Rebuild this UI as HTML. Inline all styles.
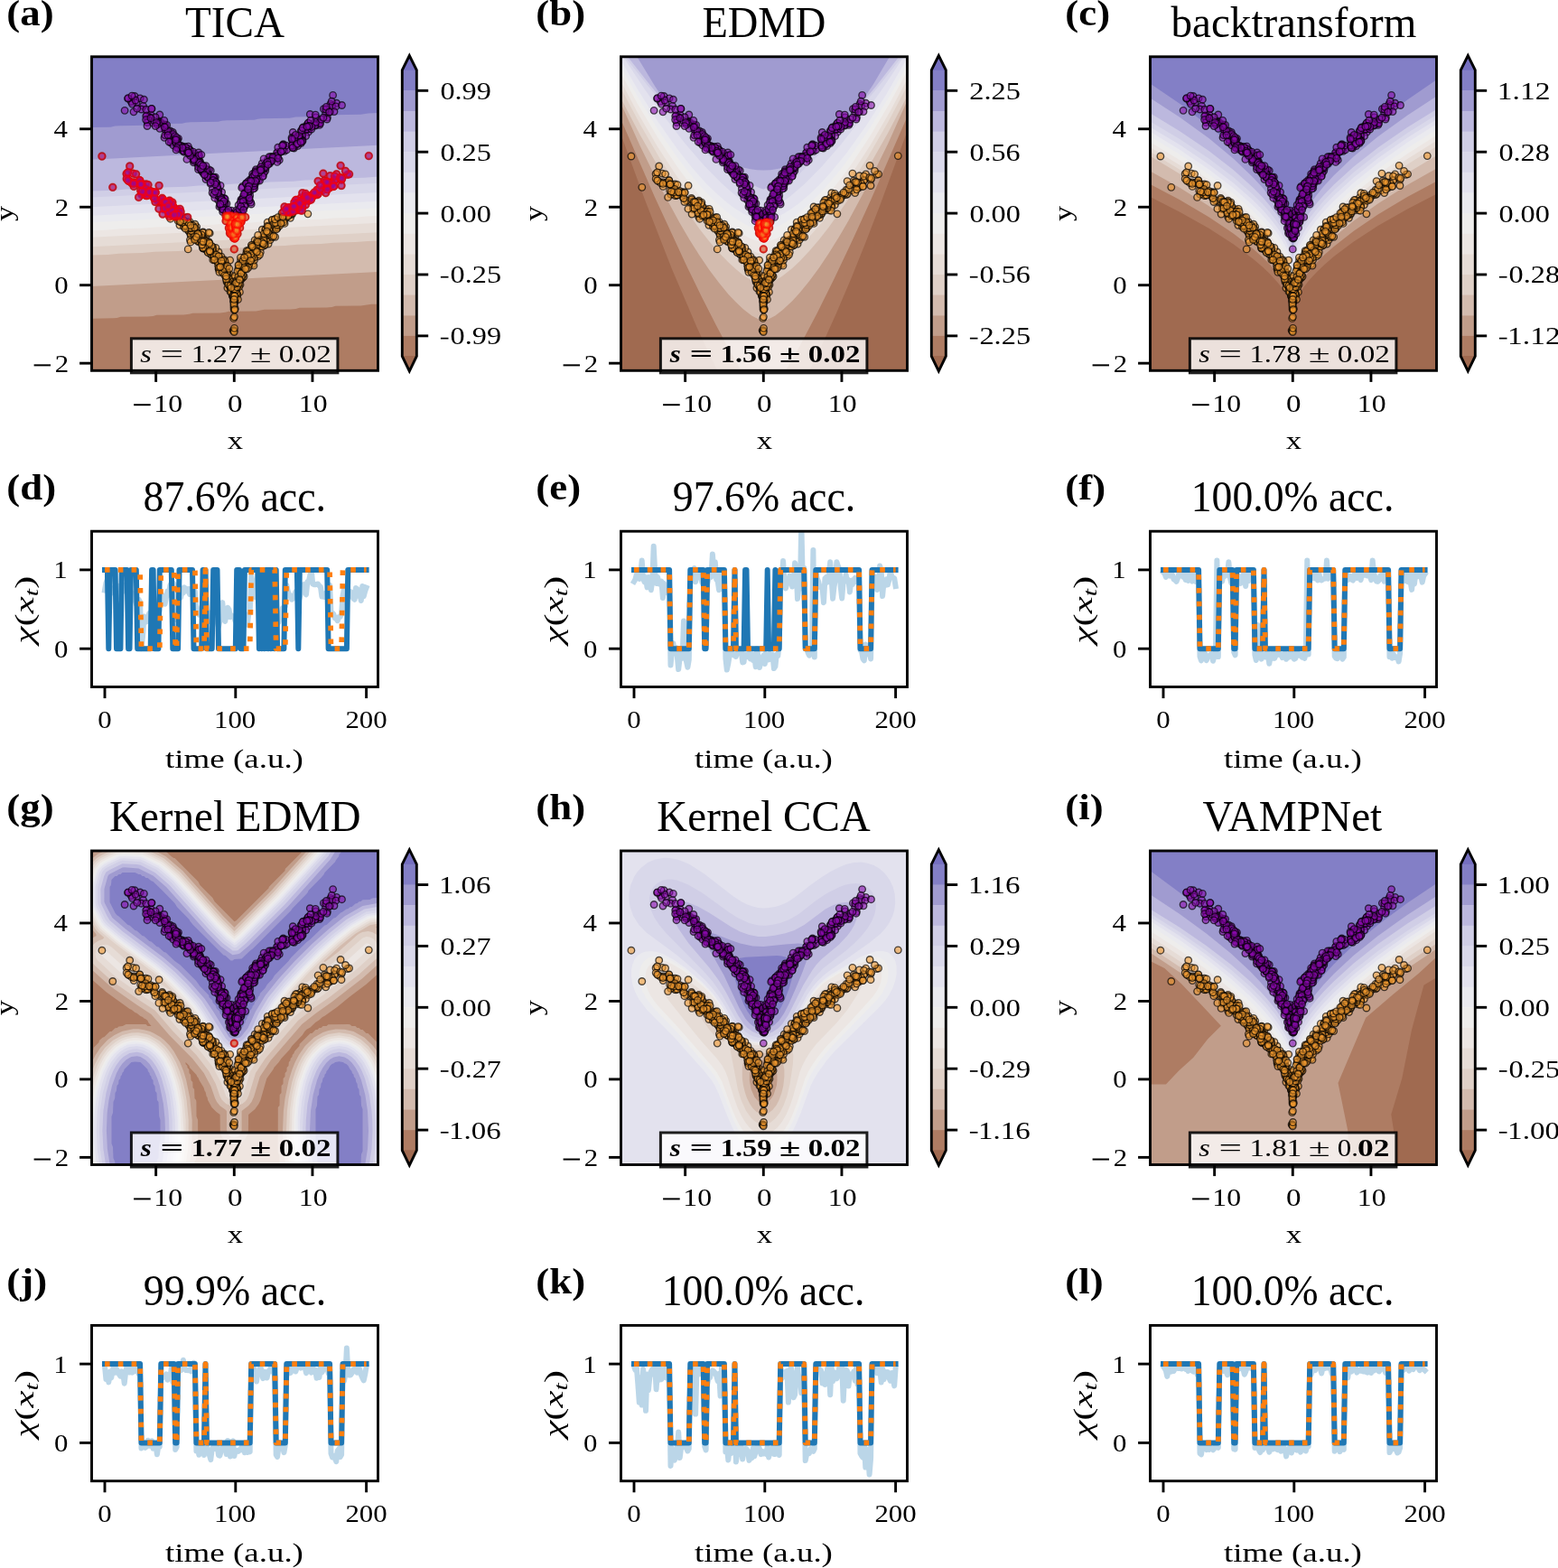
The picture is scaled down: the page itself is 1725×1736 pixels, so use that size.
<!DOCTYPE html><html><head><meta charset="utf-8"><title>figure</title><style>html,body{margin:0;padding:0;background:#fff;}svg{display:block;}</style></head><body><svg xmlns="http://www.w3.org/2000/svg" width="1725" height="1736" viewBox="0 0 1725 1736" font-family="'Liberation Serif', serif"><rect width="100%" height="100%" fill="#fff"/><defs><g id="U"><circle cx="193.1" cy="156.0" r="3.75"/><circle cx="237.6" cy="201.7" r="3.75"/><circle cx="167.0" cy="127.1" r="3.75"/><circle cx="242.0" cy="211.5" r="3.75"/><circle cx="241.6" cy="221.5" r="3.75"/><circle cx="254.5" cy="258.3" r="3.75"/><circle cx="189.2" cy="158.1" r="3.75"/><circle cx="251.0" cy="225.5" r="3.75"/><circle cx="258.6" cy="263.4" r="3.75"/><circle cx="176.3" cy="135.0" r="3.75"/><circle cx="158.6" cy="117.3" r="3.75"/><circle cx="226.4" cy="188.7" r="3.75"/><circle cx="233.3" cy="189.0" r="3.75"/><circle cx="192.2" cy="153.8" r="3.75"/><circle cx="245.6" cy="212.7" r="3.75"/><circle cx="248.9" cy="223.7" r="3.75"/><circle cx="188.4" cy="145.0" r="3.75"/><circle cx="250.0" cy="235.4" r="3.75"/><circle cx="248.3" cy="229.8" r="3.75"/><circle cx="231.4" cy="187.9" r="3.75"/><circle cx="204.0" cy="163.9" r="3.75"/><circle cx="228.0" cy="198.5" r="3.75"/><circle cx="184.4" cy="146.0" r="3.75"/><circle cx="233.3" cy="195.4" r="3.75"/><circle cx="210.2" cy="166.0" r="3.75"/><circle cx="145.2" cy="112.5" r="3.75"/><circle cx="253.8" cy="234.8" r="3.75"/><circle cx="194.5" cy="156.6" r="3.75"/><circle cx="237.8" cy="219.2" r="3.75"/><circle cx="230.0" cy="196.7" r="3.75"/><circle cx="244.1" cy="205.4" r="3.75"/><circle cx="211.3" cy="170.5" r="3.75"/><circle cx="200.6" cy="161.3" r="3.75"/><circle cx="149.1" cy="106.5" r="3.75"/><circle cx="182.1" cy="137.9" r="3.75"/><circle cx="222.2" cy="186.8" r="3.75"/><circle cx="257.7" cy="242.3" r="3.75"/><circle cx="182.0" cy="152.3" r="3.75"/><circle cx="189.5" cy="155.1" r="3.75"/><circle cx="223.4" cy="189.7" r="3.75"/><circle cx="254.1" cy="240.5" r="3.75"/><circle cx="210.6" cy="166.7" r="3.75"/><circle cx="259.6" cy="258.0" r="3.75"/><circle cx="197.4" cy="164.2" r="3.75"/><circle cx="184.3" cy="144.2" r="3.75"/><circle cx="203.1" cy="165.0" r="3.75"/><circle cx="248.2" cy="223.2" r="3.75"/><circle cx="258.8" cy="255.0" r="3.75"/><circle cx="191.9" cy="160.8" r="3.75"/><circle cx="165.4" cy="129.6" r="3.75"/><circle cx="247.1" cy="226.2" r="3.75"/><circle cx="254.4" cy="243.3" r="3.75"/><circle cx="163.7" cy="132.1" r="3.75"/><circle cx="151.1" cy="113.8" r="3.75"/><circle cx="248.3" cy="219.9" r="3.75"/><circle cx="240.9" cy="212.4" r="3.75"/><circle cx="226.5" cy="189.3" r="3.75"/><circle cx="229.8" cy="195.6" r="3.75"/><circle cx="240.7" cy="212.4" r="3.75"/><circle cx="169.1" cy="136.1" r="3.75"/><circle cx="171.1" cy="134.0" r="3.75"/><circle cx="256.5" cy="249.0" r="3.75"/><circle cx="247.2" cy="226.4" r="3.75"/><circle cx="183.1" cy="138.9" r="3.75"/><circle cx="229.7" cy="192.2" r="3.75"/><circle cx="246.0" cy="223.4" r="3.75"/><circle cx="155.1" cy="108.8" r="3.75"/><circle cx="191.4" cy="146.5" r="3.75"/><circle cx="226.4" cy="189.0" r="3.75"/><circle cx="219.3" cy="182.3" r="3.75"/><circle cx="225.0" cy="191.7" r="3.75"/><circle cx="230.0" cy="191.7" r="3.75"/><circle cx="253.5" cy="234.4" r="3.75"/><circle cx="256.4" cy="237.8" r="3.75"/><circle cx="202.0" cy="162.2" r="3.75"/><circle cx="146.4" cy="115.1" r="3.75"/><circle cx="214.4" cy="179.9" r="3.75"/><circle cx="178.1" cy="135.7" r="3.75"/><circle cx="242.4" cy="217.7" r="3.75"/><circle cx="215.4" cy="170.2" r="3.75"/><circle cx="215.5" cy="173.6" r="3.75"/><circle cx="207.7" cy="168.2" r="3.75"/><circle cx="204.9" cy="162.5" r="3.75"/><circle cx="242.9" cy="228.9" r="3.75"/><circle cx="211.4" cy="172.1" r="3.75"/><circle cx="238.6" cy="202.2" r="3.75"/><circle cx="218.2" cy="179.0" r="3.75"/><circle cx="176.8" cy="137.0" r="3.75"/><circle cx="246.6" cy="234.5" r="3.75"/><circle cx="141.6" cy="109.2" r="3.75"/><circle cx="162.6" cy="127.6" r="3.75"/><circle cx="225.1" cy="183.9" r="3.75"/><circle cx="238.4" cy="196.1" r="3.75"/><circle cx="176.8" cy="127.0" r="3.75"/><circle cx="222.6" cy="185.2" r="3.75"/><circle cx="256.6" cy="248.2" r="3.75"/><circle cx="257.7" cy="256.7" r="3.75"/><circle cx="254.6" cy="251.5" r="3.75"/><circle cx="148.0" cy="123.8" r="3.75"/><circle cx="182.4" cy="140.9" r="3.75"/><circle cx="194.1" cy="154.2" r="3.75"/><circle cx="224.1" cy="185.8" r="3.75"/><circle cx="228.3" cy="190.7" r="3.75"/><circle cx="236.2" cy="200.4" r="3.75"/><circle cx="163.3" cy="135.6" r="3.75"/><circle cx="200.3" cy="165.6" r="3.75"/><circle cx="225.7" cy="184.0" r="3.75"/><circle cx="219.5" cy="187.6" r="3.75"/><circle cx="228.7" cy="192.3" r="3.75"/><circle cx="226.9" cy="188.0" r="3.75"/><circle cx="182.7" cy="149.6" r="3.75"/><circle cx="222.8" cy="188.2" r="3.75"/><circle cx="163.0" cy="139.5" r="3.75"/><circle cx="243.6" cy="225.1" r="3.75"/><circle cx="258.7" cy="250.0" r="3.75"/><circle cx="253.4" cy="252.5" r="3.75"/><circle cx="230.3" cy="193.2" r="3.75"/><circle cx="208.4" cy="162.1" r="3.75"/><circle cx="240.3" cy="207.2" r="3.75"/><circle cx="219.6" cy="184.9" r="3.75"/><circle cx="251.6" cy="237.6" r="3.75"/><circle cx="195.0" cy="156.5" r="3.75"/><circle cx="240.8" cy="213.6" r="3.75"/><circle cx="221.0" cy="180.7" r="3.75"/><circle cx="246.0" cy="230.4" r="3.75"/><circle cx="244.1" cy="227.8" r="3.75"/><circle cx="218.3" cy="179.0" r="3.75"/><circle cx="249.1" cy="225.8" r="3.75"/><circle cx="161.7" cy="128.6" r="3.75"/><circle cx="188.3" cy="149.6" r="3.75"/><circle cx="172.1" cy="129.7" r="3.75"/><circle cx="255.0" cy="245.3" r="3.75"/><circle cx="197.5" cy="153.3" r="3.75"/><circle cx="235.4" cy="200.5" r="3.75"/><circle cx="182.5" cy="143.1" r="3.75"/><circle cx="233.3" cy="196.8" r="3.75"/><circle cx="240.0" cy="203.1" r="3.75"/><circle cx="156.5" cy="121.0" r="3.75"/><circle cx="242.1" cy="217.0" r="3.75"/><circle cx="248.2" cy="219.5" r="3.75"/><circle cx="186.1" cy="145.0" r="3.75"/><circle cx="208.8" cy="165.0" r="3.75"/><circle cx="255.7" cy="244.8" r="3.75"/><circle cx="237.3" cy="197.0" r="3.75"/><circle cx="239.5" cy="202.5" r="3.75"/><circle cx="226.7" cy="193.1" r="3.75"/><circle cx="260.2" cy="261.0" r="3.75"/><circle cx="176.9" cy="142.3" r="3.75"/><circle cx="221.3" cy="179.3" r="3.75"/><circle cx="249.2" cy="220.3" r="3.75"/><circle cx="214.4" cy="177.3" r="3.75"/><circle cx="241.7" cy="209.8" r="3.75"/><circle cx="255.1" cy="238.7" r="3.75"/><circle cx="259.3" cy="245.3" r="3.75"/><circle cx="260.7" cy="262.6" r="3.75"/><circle cx="257.2" cy="250.2" r="3.75"/><circle cx="221.4" cy="178.6" r="3.75"/><circle cx="229.1" cy="187.9" r="3.75"/><circle cx="191.4" cy="148.5" r="3.75"/><circle cx="196.6" cy="158.7" r="3.75"/><circle cx="194.5" cy="157.6" r="3.75"/><circle cx="161.8" cy="121.2" r="3.75"/><circle cx="228.0" cy="183.6" r="3.75"/><circle cx="184.7" cy="138.4" r="3.75"/><circle cx="138.1" cy="122.3" r="3.75"/><circle cx="150.0" cy="111.0" r="3.75"/><circle cx="215.1" cy="178.3" r="3.75"/><circle cx="206.9" cy="176.4" r="3.75"/><circle cx="256.2" cy="233.1" r="3.75"/><circle cx="250.9" cy="242.1" r="3.75"/><circle cx="259.8" cy="264.1" r="3.75"/><circle cx="186.0" cy="149.7" r="3.75"/><circle cx="235.4" cy="208.9" r="3.75"/><circle cx="219.5" cy="173.1" r="3.75"/><circle cx="257.8" cy="257.0" r="3.75"/><circle cx="224.5" cy="187.7" r="3.75"/><circle cx="174.1" cy="137.8" r="3.75"/><circle cx="194.1" cy="156.6" r="3.75"/><circle cx="220.3" cy="173.1" r="3.75"/><circle cx="257.2" cy="239.8" r="3.75"/><circle cx="235.9" cy="196.5" r="3.75"/><circle cx="196.4" cy="154.6" r="3.75"/><circle cx="203.6" cy="167.3" r="3.75"/><circle cx="247.9" cy="232.3" r="3.75"/><circle cx="240.2" cy="213.2" r="3.75"/><circle cx="230.4" cy="196.2" r="3.75"/><circle cx="220.2" cy="178.7" r="3.75"/><circle cx="258.5" cy="249.9" r="3.75"/><circle cx="161.6" cy="132.6" r="3.75"/><circle cx="233.1" cy="203.4" r="3.75"/><circle cx="187.1" cy="157.0" r="3.75"/><circle cx="173.4" cy="135.6" r="3.75"/><circle cx="224.1" cy="185.3" r="3.75"/><circle cx="195.1" cy="158.5" r="3.75"/><circle cx="254.7" cy="247.6" r="3.75"/><circle cx="246.7" cy="228.1" r="3.75"/><circle cx="255.0" cy="256.6" r="3.75"/><circle cx="235.3" cy="199.6" r="3.75"/><circle cx="203.4" cy="168.2" r="3.75"/><circle cx="258.4" cy="249.7" r="3.75"/><circle cx="244.1" cy="218.2" r="3.75"/><circle cx="193.9" cy="150.6" r="3.75"/><circle cx="245.2" cy="219.6" r="3.75"/><circle cx="257.0" cy="244.5" r="3.75"/><circle cx="236.5" cy="196.6" r="3.75"/><circle cx="203.3" cy="167.1" r="3.75"/><circle cx="197.6" cy="160.5" r="3.75"/><circle cx="211.1" cy="170.2" r="3.75"/><circle cx="250.0" cy="239.0" r="3.75"/><circle cx="220.7" cy="180.2" r="3.75"/><circle cx="236.0" cy="199.5" r="3.75"/><circle cx="245.6" cy="221.2" r="3.75"/><circle cx="240.5" cy="206.8" r="3.75"/><circle cx="258.3" cy="252.7" r="3.75"/><circle cx="213.9" cy="168.1" r="3.75"/><circle cx="141.8" cy="108.6" r="3.75"/><circle cx="172.1" cy="139.6" r="3.75"/><circle cx="257.9" cy="259.2" r="3.75"/><circle cx="255.5" cy="251.6" r="3.75"/><circle cx="241.3" cy="213.7" r="3.75"/><circle cx="209.3" cy="170.0" r="3.75"/><circle cx="219.9" cy="169.0" r="3.75"/><circle cx="168.0" cy="120.4" r="3.75"/><circle cx="196.0" cy="154.6" r="3.75"/><circle cx="205.7" cy="163.4" r="3.75"/><circle cx="235.1" cy="213.5" r="3.75"/><circle cx="246.7" cy="232.0" r="3.75"/><circle cx="207.3" cy="167.2" r="3.75"/><circle cx="253.0" cy="235.7" r="3.75"/><circle cx="250.7" cy="235.1" r="3.75"/><circle cx="246.0" cy="225.5" r="3.75"/><circle cx="247.7" cy="222.9" r="3.75"/><circle cx="220.4" cy="172.0" r="3.75"/><circle cx="238.9" cy="201.5" r="3.75"/><circle cx="250.1" cy="244.7" r="3.75"/><circle cx="238.1" cy="203.9" r="3.75"/><circle cx="243.9" cy="226.0" r="3.75"/><circle cx="233.2" cy="202.0" r="3.75"/><circle cx="202.0" cy="163.5" r="3.75"/><circle cx="222.5" cy="182.2" r="3.75"/><circle cx="252.2" cy="239.2" r="3.75"/><circle cx="236.7" cy="215.2" r="3.75"/><circle cx="222.5" cy="187.0" r="3.75"/><circle cx="181.8" cy="133.3" r="3.75"/><circle cx="214.9" cy="176.3" r="3.75"/><circle cx="182.3" cy="140.7" r="3.75"/><circle cx="256.2" cy="259.5" r="3.75"/><circle cx="210.6" cy="172.4" r="3.75"/><circle cx="226.3" cy="193.5" r="3.75"/><circle cx="195.8" cy="163.7" r="3.75"/><circle cx="252.6" cy="240.3" r="3.75"/><circle cx="166.9" cy="130.7" r="3.75"/><circle cx="251.3" cy="240.0" r="3.75"/><circle cx="207.9" cy="169.3" r="3.75"/><circle cx="159.4" cy="110.2" r="3.75"/><circle cx="222.9" cy="171.3" r="3.75"/><circle cx="151.7" cy="120.2" r="3.75"/><circle cx="238.2" cy="212.1" r="3.75"/><circle cx="146.1" cy="106.1" r="3.75"/><circle cx="208.9" cy="168.9" r="3.75"/><circle cx="255.7" cy="247.3" r="3.75"/><circle cx="257.5" cy="254.2" r="3.75"/><circle cx="195.0" cy="165.9" r="3.75"/><circle cx="195.3" cy="152.3" r="3.75"/><circle cx="167.7" cy="120.4" r="3.75"/><circle cx="252.9" cy="232.4" r="3.75"/><circle cx="194.6" cy="154.7" r="3.75"/><circle cx="256.8" cy="252.1" r="3.75"/><circle cx="258.5" cy="237.1" r="3.75"/><circle cx="224.7" cy="183.6" r="3.75"/><circle cx="261.7" cy="233.0" r="3.75"/><circle cx="261.0" cy="247.3" r="3.75"/><circle cx="271.8" cy="213.4" r="3.75"/><circle cx="265.6" cy="252.2" r="3.75"/><circle cx="274.2" cy="208.7" r="3.75"/><circle cx="271.8" cy="218.0" r="3.75"/><circle cx="339.5" cy="138.7" r="3.75"/><circle cx="286.1" cy="199.7" r="3.75"/><circle cx="282.9" cy="189.6" r="3.75"/><circle cx="284.5" cy="194.4" r="3.75"/><circle cx="267.4" cy="229.2" r="3.75"/><circle cx="328.8" cy="152.4" r="3.75"/><circle cx="299.6" cy="177.7" r="3.75"/><circle cx="326.0" cy="151.0" r="3.75"/><circle cx="365.6" cy="123.7" r="3.75"/><circle cx="365.9" cy="115.2" r="3.75"/><circle cx="341.4" cy="146.2" r="3.75"/><circle cx="372.6" cy="114.2" r="3.75"/><circle cx="296.1" cy="177.1" r="3.75"/><circle cx="334.6" cy="152.3" r="3.75"/><circle cx="287.4" cy="187.4" r="3.75"/><circle cx="275.6" cy="219.5" r="3.75"/><circle cx="282.1" cy="198.7" r="3.75"/><circle cx="307.4" cy="168.3" r="3.75"/><circle cx="264.3" cy="235.8" r="3.75"/><circle cx="323.5" cy="154.9" r="3.75"/><circle cx="276.7" cy="212.2" r="3.75"/><circle cx="261.1" cy="252.9" r="3.75"/><circle cx="282.2" cy="204.6" r="3.75"/><circle cx="311.1" cy="167.6" r="3.75"/><circle cx="338.7" cy="150.6" r="3.75"/><circle cx="267.1" cy="245.4" r="3.75"/><circle cx="360.5" cy="124.6" r="3.75"/><circle cx="334.0" cy="156.4" r="3.75"/><circle cx="308.0" cy="170.8" r="3.75"/><circle cx="283.4" cy="187.7" r="3.75"/><circle cx="292.5" cy="185.2" r="3.75"/><circle cx="275.7" cy="222.6" r="3.75"/><circle cx="263.9" cy="243.8" r="3.75"/><circle cx="271.7" cy="240.4" r="3.75"/><circle cx="277.0" cy="198.8" r="3.75"/><circle cx="285.1" cy="195.1" r="3.75"/><circle cx="288.6" cy="185.5" r="3.75"/><circle cx="261.5" cy="239.3" r="3.75"/><circle cx="313.6" cy="159.7" r="3.75"/><circle cx="325.6" cy="164.1" r="3.75"/><circle cx="291.2" cy="194.8" r="3.75"/><circle cx="347.0" cy="136.4" r="3.75"/><circle cx="298.6" cy="181.1" r="3.75"/><circle cx="269.2" cy="231.2" r="3.75"/><circle cx="324.1" cy="163.5" r="3.75"/><circle cx="353.8" cy="135.0" r="3.75"/><circle cx="275.3" cy="202.4" r="3.75"/><circle cx="287.5" cy="200.1" r="3.75"/><circle cx="267.0" cy="220.8" r="3.75"/><circle cx="367.6" cy="117.2" r="3.75"/><circle cx="309.3" cy="177.2" r="3.75"/><circle cx="300.5" cy="173.6" r="3.75"/><circle cx="273.0" cy="216.8" r="3.75"/><circle cx="290.2" cy="181.0" r="3.75"/><circle cx="280.7" cy="195.6" r="3.75"/><circle cx="267.1" cy="235.1" r="3.75"/><circle cx="266.5" cy="229.3" r="3.75"/><circle cx="260.6" cy="260.9" r="3.75"/><circle cx="299.2" cy="174.0" r="3.75"/><circle cx="260.3" cy="247.0" r="3.75"/><circle cx="278.2" cy="226.0" r="3.75"/><circle cx="272.5" cy="203.0" r="3.75"/><circle cx="293.8" cy="189.0" r="3.75"/><circle cx="296.5" cy="181.8" r="3.75"/><circle cx="262.1" cy="241.7" r="3.75"/><circle cx="330.6" cy="150.4" r="3.75"/><circle cx="282.6" cy="196.4" r="3.75"/><circle cx="280.3" cy="199.6" r="3.75"/><circle cx="368.6" cy="105.4" r="3.75"/><circle cx="325.7" cy="154.4" r="3.75"/><circle cx="334.5" cy="150.2" r="3.75"/><circle cx="297.4" cy="178.7" r="3.75"/><circle cx="276.7" cy="216.4" r="3.75"/><circle cx="292.2" cy="191.4" r="3.75"/><circle cx="259.6" cy="260.7" r="3.75"/><circle cx="291.8" cy="187.1" r="3.75"/><circle cx="278.7" cy="201.3" r="3.75"/><circle cx="332.3" cy="154.1" r="3.75"/><circle cx="300.9" cy="178.2" r="3.75"/><circle cx="301.6" cy="176.7" r="3.75"/><circle cx="265.9" cy="237.3" r="3.75"/><circle cx="324.3" cy="146.5" r="3.75"/><circle cx="353.8" cy="138.4" r="3.75"/><circle cx="280.7" cy="199.9" r="3.75"/><circle cx="323.5" cy="161.6" r="3.75"/><circle cx="341.3" cy="136.3" r="3.75"/><circle cx="281.9" cy="191.8" r="3.75"/><circle cx="293.0" cy="183.3" r="3.75"/><circle cx="282.8" cy="189.8" r="3.75"/><circle cx="349.4" cy="139.0" r="3.75"/><circle cx="333.2" cy="144.9" r="3.75"/><circle cx="272.7" cy="214.6" r="3.75"/><circle cx="325.3" cy="154.8" r="3.75"/><circle cx="322.8" cy="160.8" r="3.75"/><circle cx="271.7" cy="212.6" r="3.75"/><circle cx="280.5" cy="198.0" r="3.75"/><circle cx="269.4" cy="217.4" r="3.75"/><circle cx="261.1" cy="249.7" r="3.75"/><circle cx="292.4" cy="186.8" r="3.75"/><circle cx="274.5" cy="214.5" r="3.75"/><circle cx="260.3" cy="255.7" r="3.75"/><circle cx="306.5" cy="169.1" r="3.75"/><circle cx="367.2" cy="112.2" r="3.75"/><circle cx="265.5" cy="231.2" r="3.75"/><circle cx="333.3" cy="158.5" r="3.75"/><circle cx="332.6" cy="153.1" r="3.75"/><circle cx="260.0" cy="263.6" r="3.75"/><circle cx="269.9" cy="220.0" r="3.75"/><circle cx="262.5" cy="234.8" r="3.75"/><circle cx="265.6" cy="233.2" r="3.75"/><circle cx="353.8" cy="136.2" r="3.75"/><circle cx="301.9" cy="173.7" r="3.75"/><circle cx="298.0" cy="173.7" r="3.75"/><circle cx="266.1" cy="236.8" r="3.75"/><circle cx="341.2" cy="136.1" r="3.75"/><circle cx="274.2" cy="202.9" r="3.75"/><circle cx="292.1" cy="175.9" r="3.75"/><circle cx="263.5" cy="248.6" r="3.75"/><circle cx="276.2" cy="208.2" r="3.75"/><circle cx="266.4" cy="246.3" r="3.75"/><circle cx="273.0" cy="218.7" r="3.75"/><circle cx="371.9" cy="117.9" r="3.75"/><circle cx="260.6" cy="262.8" r="3.75"/><circle cx="332.4" cy="153.7" r="3.75"/><circle cx="280.0" cy="196.9" r="3.75"/><circle cx="280.0" cy="198.7" r="3.75"/><circle cx="261.2" cy="250.2" r="3.75"/><circle cx="315.1" cy="167.3" r="3.75"/><circle cx="264.1" cy="227.0" r="3.75"/><circle cx="277.7" cy="224.1" r="3.75"/><circle cx="281.8" cy="208.3" r="3.75"/><circle cx="354.6" cy="136.7" r="3.75"/><circle cx="330.7" cy="153.0" r="3.75"/><circle cx="276.8" cy="208.0" r="3.75"/><circle cx="279.6" cy="192.7" r="3.75"/><circle cx="283.6" cy="201.0" r="3.75"/><circle cx="348.9" cy="138.5" r="3.75"/><circle cx="268.5" cy="206.5" r="3.75"/><circle cx="294.3" cy="185.8" r="3.75"/><circle cx="277.4" cy="205.4" r="3.75"/><circle cx="279.1" cy="197.4" r="3.75"/><circle cx="300.8" cy="177.2" r="3.75"/><circle cx="306.4" cy="174.7" r="3.75"/><circle cx="261.8" cy="256.7" r="3.75"/><circle cx="343.3" cy="126.5" r="3.75"/><circle cx="306.3" cy="172.9" r="3.75"/><circle cx="358.4" cy="120.7" r="3.75"/><circle cx="280.0" cy="195.2" r="3.75"/><circle cx="276.2" cy="221.5" r="3.75"/><circle cx="293.5" cy="184.8" r="3.75"/><circle cx="342.4" cy="142.5" r="3.75"/><circle cx="311.0" cy="168.1" r="3.75"/><circle cx="335.1" cy="155.7" r="3.75"/><circle cx="360.8" cy="121.0" r="3.75"/><circle cx="317.5" cy="165.9" r="3.75"/><circle cx="260.7" cy="250.7" r="3.75"/><circle cx="278.3" cy="206.7" r="3.75"/><circle cx="280.4" cy="209.1" r="3.75"/><circle cx="349.7" cy="129.8" r="3.75"/><circle cx="362.4" cy="130.1" r="3.75"/><circle cx="286.0" cy="194.4" r="3.75"/><circle cx="361.3" cy="118.3" r="3.75"/><circle cx="281.1" cy="205.9" r="3.75"/><circle cx="267.0" cy="235.2" r="3.75"/><circle cx="284.4" cy="198.2" r="3.75"/><circle cx="272.1" cy="217.5" r="3.75"/><circle cx="294.7" cy="180.9" r="3.75"/><circle cx="349.6" cy="135.3" r="3.75"/><circle cx="316.8" cy="161.1" r="3.75"/><circle cx="349.3" cy="127.1" r="3.75"/><circle cx="274.4" cy="215.2" r="3.75"/><circle cx="313.2" cy="166.6" r="3.75"/><circle cx="267.1" cy="221.6" r="3.75"/><circle cx="268.6" cy="220.6" r="3.75"/><circle cx="307.8" cy="163.2" r="3.75"/><circle cx="281.5" cy="203.0" r="3.75"/><circle cx="323.5" cy="160.9" r="3.75"/><circle cx="291.0" cy="195.4" r="3.75"/><circle cx="334.6" cy="156.7" r="3.75"/><circle cx="260.5" cy="248.2" r="3.75"/><circle cx="338.5" cy="143.4" r="3.75"/><circle cx="272.9" cy="204.1" r="3.75"/><circle cx="286.8" cy="190.8" r="3.75"/><circle cx="281.8" cy="193.8" r="3.75"/><circle cx="355.8" cy="132.2" r="3.75"/><circle cx="263.0" cy="258.8" r="3.75"/><circle cx="274.8" cy="200.8" r="3.75"/><circle cx="267.0" cy="243.4" r="3.75"/><circle cx="340.2" cy="143.1" r="3.75"/><circle cx="313.6" cy="160.5" r="3.75"/><circle cx="267.7" cy="207.9" r="3.75"/><circle cx="329.6" cy="161.5" r="3.75"/><circle cx="266.4" cy="224.0" r="3.75"/><circle cx="261.5" cy="252.7" r="3.75"/><circle cx="327.9" cy="160.2" r="3.75"/><circle cx="262.7" cy="245.5" r="3.75"/><circle cx="344.8" cy="143.0" r="3.75"/><circle cx="262.6" cy="241.0" r="3.75"/><circle cx="302.7" cy="175.4" r="3.75"/><circle cx="260.7" cy="246.9" r="3.75"/><circle cx="312.6" cy="161.2" r="3.75"/><circle cx="302.2" cy="174.0" r="3.75"/><circle cx="260.5" cy="257.9" r="3.75"/><circle cx="288.8" cy="184.6" r="3.75"/><circle cx="306.9" cy="179.4" r="3.75"/><circle cx="324.2" cy="163.5" r="3.75"/><circle cx="331.4" cy="150.0" r="3.75"/><circle cx="335.6" cy="141.0" r="3.75"/><circle cx="279.2" cy="200.7" r="3.75"/><circle cx="334.1" cy="144.2" r="3.75"/><circle cx="268.0" cy="236.4" r="3.75"/><circle cx="266.6" cy="240.8" r="3.75"/><circle cx="345.1" cy="140.3" r="3.75"/><circle cx="262.8" cy="245.9" r="3.75"/><circle cx="283.1" cy="191.2" r="3.75"/><circle cx="370.0" cy="123.6" r="3.75"/><circle cx="307.8" cy="175.1" r="3.75"/><circle cx="364.6" cy="124.0" r="3.75"/><circle cx="271.3" cy="228.1" r="3.75"/><circle cx="276.1" cy="219.1" r="3.75"/><circle cx="258.4" cy="259.6" r="3.75"/><circle cx="272.5" cy="203.2" r="3.75"/><circle cx="264.8" cy="231.6" r="3.75"/><circle cx="298.8" cy="178.6" r="3.75"/><circle cx="260.9" cy="251.0" r="3.75"/><circle cx="269.2" cy="223.1" r="3.75"/><circle cx="282.9" cy="200.2" r="3.75"/><circle cx="274.5" cy="212.3" r="3.75"/><circle cx="343.9" cy="133.3" r="3.75"/><circle cx="323.0" cy="152.5" r="3.75"/><circle cx="311.3" cy="167.8" r="3.75"/><circle cx="326.0" cy="153.1" r="3.75"/><circle cx="264.4" cy="244.6" r="3.75"/><circle cx="341.7" cy="139.8" r="3.75"/><circle cx="362.0" cy="132.0" r="3.75"/><circle cx="327.2" cy="149.4" r="3.75"/><circle cx="329.1" cy="159.1" r="3.75"/><circle cx="261.8" cy="253.5" r="3.75"/><circle cx="271.2" cy="213.9" r="3.75"/><circle cx="335.1" cy="141.7" r="3.75"/><circle cx="300.6" cy="178.3" r="3.75"/><circle cx="270.1" cy="214.9" r="3.75"/><circle cx="358.0" cy="130.2" r="3.75"/><circle cx="378.5" cy="116.5" r="3.75"/><circle cx="289.2" cy="187.5" r="3.75"/><circle cx="268.1" cy="240.7" r="3.75"/><circle cx="277.7" cy="200.4" r="3.75"/><circle cx="323.3" cy="153.9" r="3.75"/><circle cx="263.6" cy="249.2" r="3.75"/><circle cx="288.5" cy="188.6" r="3.75"/><circle cx="270.5" cy="228.3" r="3.75"/><circle cx="274.7" cy="206.7" r="3.75"/><circle cx="260.9" cy="248.0" r="3.75"/><circle cx="262.0" cy="255.5" r="3.75"/><circle cx="266.6" cy="228.5" r="3.75"/><circle cx="342.3" cy="139.5" r="3.75"/><circle cx="339.9" cy="140.2" r="3.75"/><circle cx="262.9" cy="248.4" r="3.75"/><circle cx="275.9" cy="206.1" r="3.75"/><circle cx="333.0" cy="157.2" r="3.75"/><circle cx="296.1" cy="179.4" r="3.75"/><circle cx="274.6" cy="209.6" r="3.75"/><circle cx="296.8" cy="182.2" r="3.75"/><circle cx="269.6" cy="232.5" r="3.75"/><circle cx="259.3" cy="275.9" r="3.75"/></g><g id="L"><circle cx="211.4" cy="256.8" r="3.75"/><circle cx="221.5" cy="258.9" r="3.75"/><circle cx="157.3" cy="203.6" r="3.75"/><circle cx="224.0" cy="265.9" r="3.75"/><circle cx="199.9" cy="241.4" r="3.75"/><circle cx="240.4" cy="282.9" r="3.75"/><circle cx="246.3" cy="297.5" r="3.75"/><circle cx="218.9" cy="262.6" r="3.75"/><circle cx="171.9" cy="212.9" r="3.75"/><circle cx="181.6" cy="231.8" r="3.75"/><circle cx="242.2" cy="289.8" r="3.75"/><circle cx="155.7" cy="211.1" r="3.75"/><circle cx="165.2" cy="215.5" r="3.75"/><circle cx="250.8" cy="299.7" r="3.75"/><circle cx="241.6" cy="285.3" r="3.75"/><circle cx="210.0" cy="245.4" r="3.75"/><circle cx="177.2" cy="223.1" r="3.75"/><circle cx="195.7" cy="231.7" r="3.75"/><circle cx="242.1" cy="288.9" r="3.75"/><circle cx="223.8" cy="265.0" r="3.75"/><circle cx="187.6" cy="239.9" r="3.75"/><circle cx="225.0" cy="263.7" r="3.75"/><circle cx="262.8" cy="326.7" r="3.75"/><circle cx="148.2" cy="206.4" r="3.75"/><circle cx="245.0" cy="292.6" r="3.75"/><circle cx="164.3" cy="212.8" r="3.75"/><circle cx="250.8" cy="308.0" r="3.75"/><circle cx="148.0" cy="201.8" r="3.75"/><circle cx="188.3" cy="232.5" r="3.75"/><circle cx="202.0" cy="244.2" r="3.75"/><circle cx="160.1" cy="207.4" r="3.75"/><circle cx="208.2" cy="250.8" r="3.75"/><circle cx="209.3" cy="256.3" r="3.75"/><circle cx="187.1" cy="237.0" r="3.75"/><circle cx="219.0" cy="266.7" r="3.75"/><circle cx="192.7" cy="236.8" r="3.75"/><circle cx="248.4" cy="295.8" r="3.75"/><circle cx="210.8" cy="256.3" r="3.75"/><circle cx="224.9" cy="256.9" r="3.75"/><circle cx="198.9" cy="249.3" r="3.75"/><circle cx="235.9" cy="279.7" r="3.75"/><circle cx="224.1" cy="263.3" r="3.75"/><circle cx="187.5" cy="223.7" r="3.75"/><circle cx="192.7" cy="234.1" r="3.75"/><circle cx="253.0" cy="314.0" r="3.75"/><circle cx="147.2" cy="192.1" r="3.75"/><circle cx="218.5" cy="264.6" r="3.75"/><circle cx="237.2" cy="283.3" r="3.75"/><circle cx="154.7" cy="200.0" r="3.75"/><circle cx="189.1" cy="237.2" r="3.75"/><circle cx="180.1" cy="237.1" r="3.75"/><circle cx="231.1" cy="268.0" r="3.75"/><circle cx="257.5" cy="328.0" r="3.75"/><circle cx="211.1" cy="260.3" r="3.75"/><circle cx="239.4" cy="282.1" r="3.75"/><circle cx="217.7" cy="251.1" r="3.75"/><circle cx="209.0" cy="248.2" r="3.75"/><circle cx="259.1" cy="321.2" r="3.75"/><circle cx="197.6" cy="234.1" r="3.75"/><circle cx="219.6" cy="261.4" r="3.75"/><circle cx="214.5" cy="257.7" r="3.75"/><circle cx="161.6" cy="212.8" r="3.75"/><circle cx="197.7" cy="237.6" r="3.75"/><circle cx="224.9" cy="274.8" r="3.75"/><circle cx="257.4" cy="315.8" r="3.75"/><circle cx="225.4" cy="275.1" r="3.75"/><circle cx="186.4" cy="225.2" r="3.75"/><circle cx="185.9" cy="232.9" r="3.75"/><circle cx="245.1" cy="289.2" r="3.75"/><circle cx="242.0" cy="279.0" r="3.75"/><circle cx="217.2" cy="254.2" r="3.75"/><circle cx="214.1" cy="253.9" r="3.75"/><circle cx="205.1" cy="244.4" r="3.75"/><circle cx="208.5" cy="255.1" r="3.75"/><circle cx="226.0" cy="264.3" r="3.75"/><circle cx="158.5" cy="214.5" r="3.75"/><circle cx="244.4" cy="292.5" r="3.75"/><circle cx="140.1" cy="192.5" r="3.75"/><circle cx="142.9" cy="200.5" r="3.75"/><circle cx="249.3" cy="291.3" r="3.75"/><circle cx="243.3" cy="285.4" r="3.75"/><circle cx="228.5" cy="276.6" r="3.75"/><circle cx="205.4" cy="245.6" r="3.75"/><circle cx="215.9" cy="248.2" r="3.75"/><circle cx="242.1" cy="297.4" r="3.75"/><circle cx="197.4" cy="238.9" r="3.75"/><circle cx="238.9" cy="274.4" r="3.75"/><circle cx="251.9" cy="318.8" r="3.75"/><circle cx="251.0" cy="312.0" r="3.75"/><circle cx="212.3" cy="257.7" r="3.75"/><circle cx="170.4" cy="219.2" r="3.75"/><circle cx="140.2" cy="197.9" r="3.75"/><circle cx="222.4" cy="263.5" r="3.75"/><circle cx="251.2" cy="311.3" r="3.75"/><circle cx="230.6" cy="272.2" r="3.75"/><circle cx="162.5" cy="216.6" r="3.75"/><circle cx="254.4" cy="303.6" r="3.75"/><circle cx="251.3" cy="300.7" r="3.75"/><circle cx="200.9" cy="239.1" r="3.75"/><circle cx="253.8" cy="308.9" r="3.75"/><circle cx="197.5" cy="233.8" r="3.75"/><circle cx="257.3" cy="312.1" r="3.75"/><circle cx="235.5" cy="273.5" r="3.75"/><circle cx="260.7" cy="319.5" r="3.75"/><circle cx="237.0" cy="287.6" r="3.75"/><circle cx="198.1" cy="244.0" r="3.75"/><circle cx="227.9" cy="273.5" r="3.75"/><circle cx="242.7" cy="295.8" r="3.75"/><circle cx="243.1" cy="292.1" r="3.75"/><circle cx="255.1" cy="314.2" r="3.75"/><circle cx="257.4" cy="321.9" r="3.75"/><circle cx="187.7" cy="222.1" r="3.75"/><circle cx="253.3" cy="311.8" r="3.75"/><circle cx="180.1" cy="223.5" r="3.75"/><circle cx="253.4" cy="315.3" r="3.75"/><circle cx="248.7" cy="287.8" r="3.75"/><circle cx="188.7" cy="242.2" r="3.75"/><circle cx="225.8" cy="272.3" r="3.75"/><circle cx="168.8" cy="212.5" r="3.75"/><circle cx="255.1" cy="318.9" r="3.75"/><circle cx="219.4" cy="262.2" r="3.75"/><circle cx="205.0" cy="250.0" r="3.75"/><circle cx="254.4" cy="316.8" r="3.75"/><circle cx="179.6" cy="219.3" r="3.75"/><circle cx="254.7" cy="288.1" r="3.75"/><circle cx="208.3" cy="246.7" r="3.75"/><circle cx="161.3" cy="216.4" r="3.75"/><circle cx="260.6" cy="324.6" r="3.75"/><circle cx="252.9" cy="313.4" r="3.75"/><circle cx="191.3" cy="228.2" r="3.75"/><circle cx="259.1" cy="320.7" r="3.75"/><circle cx="225.5" cy="264.9" r="3.75"/><circle cx="181.7" cy="222.5" r="3.75"/><circle cx="206.0" cy="241.0" r="3.75"/><circle cx="249.1" cy="289.5" r="3.75"/><circle cx="145.6" cy="202.5" r="3.75"/><circle cx="195.0" cy="240.0" r="3.75"/><circle cx="242.7" cy="288.9" r="3.75"/><circle cx="190.2" cy="230.5" r="3.75"/><circle cx="154.4" cy="202.2" r="3.75"/><circle cx="223.5" cy="260.9" r="3.75"/><circle cx="218.0" cy="257.7" r="3.75"/><circle cx="211.1" cy="259.5" r="3.75"/><circle cx="169.6" cy="214.2" r="3.75"/><circle cx="224.6" cy="274.8" r="3.75"/><circle cx="223.1" cy="264.0" r="3.75"/><circle cx="200.6" cy="245.8" r="3.75"/><circle cx="233.2" cy="279.4" r="3.75"/><circle cx="235.8" cy="278.4" r="3.75"/><circle cx="204.6" cy="241.9" r="3.75"/><circle cx="252.1" cy="302.4" r="3.75"/><circle cx="214.9" cy="252.8" r="3.75"/><circle cx="156.7" cy="215.3" r="3.75"/><circle cx="210.4" cy="265.6" r="3.75"/><circle cx="240.5" cy="286.2" r="3.75"/><circle cx="210.4" cy="252.4" r="3.75"/><circle cx="235.2" cy="275.2" r="3.75"/><circle cx="257.3" cy="326.9" r="3.75"/><circle cx="227.7" cy="262.0" r="3.75"/><circle cx="174.2" cy="222.0" r="3.75"/><circle cx="259.4" cy="328.0" r="3.75"/><circle cx="255.2" cy="310.4" r="3.75"/><circle cx="224.2" cy="268.4" r="3.75"/><circle cx="166.0" cy="211.1" r="3.75"/><circle cx="242.7" cy="288.2" r="3.75"/><circle cx="197.0" cy="244.4" r="3.75"/><circle cx="256.7" cy="322.8" r="3.75"/><circle cx="191.8" cy="228.6" r="3.75"/><circle cx="232.2" cy="258.2" r="3.75"/><circle cx="211.1" cy="267.9" r="3.75"/><circle cx="151.5" cy="202.5" r="3.75"/><circle cx="228.9" cy="272.4" r="3.75"/><circle cx="238.8" cy="285.9" r="3.75"/><circle cx="154.8" cy="199.7" r="3.75"/><circle cx="161.6" cy="204.0" r="3.75"/><circle cx="164.0" cy="204.6" r="3.75"/><circle cx="250.3" cy="303.0" r="3.75"/><circle cx="261.2" cy="315.5" r="3.75"/><circle cx="243.3" cy="294.8" r="3.75"/><circle cx="219.5" cy="267.5" r="3.75"/><circle cx="163.7" cy="216.0" r="3.75"/><circle cx="181.4" cy="230.1" r="3.75"/><circle cx="165.5" cy="213.1" r="3.75"/><circle cx="256.6" cy="318.7" r="3.75"/><circle cx="257.0" cy="316.4" r="3.75"/><circle cx="242.5" cy="292.4" r="3.75"/><circle cx="251.2" cy="301.6" r="3.75"/><circle cx="213.9" cy="257.5" r="3.75"/><circle cx="190.9" cy="224.1" r="3.75"/><circle cx="242.2" cy="298.2" r="3.75"/><circle cx="232.6" cy="276.0" r="3.75"/><circle cx="211.3" cy="252.5" r="3.75"/><circle cx="215.3" cy="261.3" r="3.75"/><circle cx="211.8" cy="255.5" r="3.75"/><circle cx="224.6" cy="257.5" r="3.75"/><circle cx="246.5" cy="291.6" r="3.75"/><circle cx="209.2" cy="249.9" r="3.75"/><circle cx="210.5" cy="251.2" r="3.75"/><circle cx="233.3" cy="281.7" r="3.75"/><circle cx="182.8" cy="223.1" r="3.75"/><circle cx="224.4" cy="263.4" r="3.75"/><circle cx="230.0" cy="278.8" r="3.75"/><circle cx="211.5" cy="252.9" r="3.75"/><circle cx="160.8" cy="209.4" r="3.75"/><circle cx="239.9" cy="289.2" r="3.75"/><circle cx="213.4" cy="249.7" r="3.75"/><circle cx="224.2" cy="268.7" r="3.75"/><circle cx="171.9" cy="223.5" r="3.75"/><circle cx="248.0" cy="301.5" r="3.75"/><circle cx="190.2" cy="225.6" r="3.75"/><circle cx="160.0" cy="212.8" r="3.75"/><circle cx="186.9" cy="235.8" r="3.75"/><circle cx="254.9" cy="322.8" r="3.75"/><circle cx="245.1" cy="284.2" r="3.75"/><circle cx="185.0" cy="228.7" r="3.75"/><circle cx="204.2" cy="250.8" r="3.75"/><circle cx="224.2" cy="271.1" r="3.75"/><circle cx="226.1" cy="265.0" r="3.75"/><circle cx="260.0" cy="323.0" r="3.75"/><circle cx="208.1" cy="245.6" r="3.75"/><circle cx="203.4" cy="251.0" r="3.75"/><circle cx="157.3" cy="212.0" r="3.75"/><circle cx="242.9" cy="301.3" r="3.75"/><circle cx="260.8" cy="326.3" r="3.75"/><circle cx="241.6" cy="294.2" r="3.75"/><circle cx="255.1" cy="314.7" r="3.75"/><circle cx="259.5" cy="329.2" r="3.75"/><circle cx="169.8" cy="213.9" r="3.75"/><circle cx="184.3" cy="223.9" r="3.75"/><circle cx="205.6" cy="250.1" r="3.75"/><circle cx="180.0" cy="220.7" r="3.75"/><circle cx="192.7" cy="234.0" r="3.75"/><circle cx="227.7" cy="267.2" r="3.75"/><circle cx="187.3" cy="223.7" r="3.75"/><circle cx="210.7" cy="252.2" r="3.75"/><circle cx="257.6" cy="319.8" r="3.75"/><circle cx="227.4" cy="274.7" r="3.75"/><circle cx="235.8" cy="287.7" r="3.75"/><circle cx="193.3" cy="237.1" r="3.75"/><circle cx="248.2" cy="301.6" r="3.75"/><circle cx="207.7" cy="240.5" r="3.75"/><circle cx="233.2" cy="281.0" r="3.75"/><circle cx="229.2" cy="271.9" r="3.75"/><circle cx="155.4" cy="204.0" r="3.75"/><circle cx="219.7" cy="266.7" r="3.75"/><circle cx="141.8" cy="199.9" r="3.75"/><circle cx="246.8" cy="287.8" r="3.75"/><circle cx="150.6" cy="192.8" r="3.75"/><circle cx="143.7" cy="184.0" r="3.75"/><circle cx="237.0" cy="284.4" r="3.75"/><circle cx="256.0" cy="323.6" r="3.75"/><circle cx="259.0" cy="325.0" r="3.75"/><circle cx="223.1" cy="259.9" r="3.75"/><circle cx="230.6" cy="273.4" r="3.75"/><circle cx="232.8" cy="276.6" r="3.75"/><circle cx="228.2" cy="266.5" r="3.75"/><circle cx="241.2" cy="290.2" r="3.75"/><circle cx="247.6" cy="302.4" r="3.75"/><circle cx="256.1" cy="312.8" r="3.75"/><circle cx="194.1" cy="239.5" r="3.75"/><circle cx="182.1" cy="223.7" r="3.75"/><circle cx="260.1" cy="315.0" r="3.75"/><circle cx="246.1" cy="301.6" r="3.75"/><circle cx="245.9" cy="291.8" r="3.75"/><circle cx="252.9" cy="315.1" r="3.75"/><circle cx="199.2" cy="231.3" r="3.75"/><circle cx="230.2" cy="279.6" r="3.75"/><circle cx="247.6" cy="295.0" r="3.75"/><circle cx="191.8" cy="238.9" r="3.75"/><circle cx="249.6" cy="296.0" r="3.75"/><circle cx="165.3" cy="212.6" r="3.75"/><circle cx="202.9" cy="244.2" r="3.75"/><circle cx="223.3" cy="267.8" r="3.75"/><circle cx="171.1" cy="219.5" r="3.75"/><circle cx="248.3" cy="297.7" r="3.75"/><circle cx="255.0" cy="316.4" r="3.75"/><circle cx="226.2" cy="266.8" r="3.75"/><circle cx="216.1" cy="264.3" r="3.75"/><circle cx="239.5" cy="282.1" r="3.75"/><circle cx="260.7" cy="325.6" r="3.75"/><circle cx="205.1" cy="249.3" r="3.75"/><circle cx="190.0" cy="232.8" r="3.75"/><circle cx="231.2" cy="257.4" r="3.75"/><circle cx="220.1" cy="260.5" r="3.75"/><circle cx="224.8" cy="274.3" r="3.75"/><circle cx="215.5" cy="265.4" r="3.75"/><circle cx="253.3" cy="308.5" r="3.75"/><circle cx="208.1" cy="246.1" r="3.75"/><circle cx="232.8" cy="278.7" r="3.75"/><circle cx="197.0" cy="234.4" r="3.75"/><circle cx="231.4" cy="268.1" r="3.75"/><circle cx="182.5" cy="230.5" r="3.75"/><circle cx="248.8" cy="304.8" r="3.75"/><circle cx="215.4" cy="252.0" r="3.75"/><circle cx="175.9" cy="231.2" r="3.75"/><circle cx="148.0" cy="203.4" r="3.75"/><circle cx="250.3" cy="308.9" r="3.75"/><circle cx="172.2" cy="213.2" r="3.75"/><circle cx="223.0" cy="266.7" r="3.75"/><circle cx="219.1" cy="258.9" r="3.75"/><circle cx="217.4" cy="262.4" r="3.75"/><circle cx="124.8" cy="207.3" r="3.75"/><circle cx="242.1" cy="283.7" r="3.75"/><circle cx="251.7" cy="294.5" r="3.75"/><circle cx="234.2" cy="272.3" r="3.75"/><circle cx="231.9" cy="269.4" r="3.75"/><circle cx="183.5" cy="223.8" r="3.75"/><circle cx="141.6" cy="190.8" r="3.75"/><circle cx="200.1" cy="234.4" r="3.75"/><circle cx="196.6" cy="237.8" r="3.75"/><circle cx="205.2" cy="253.1" r="3.75"/><circle cx="223.5" cy="271.0" r="3.75"/><circle cx="250.3" cy="305.8" r="3.75"/><circle cx="232.1" cy="278.0" r="3.75"/><circle cx="242.4" cy="296.1" r="3.75"/><circle cx="186.4" cy="228.1" r="3.75"/><circle cx="210.9" cy="249.6" r="3.75"/><circle cx="245.1" cy="288.9" r="3.75"/><circle cx="199.8" cy="244.1" r="3.75"/><circle cx="237.4" cy="287.5" r="3.75"/><circle cx="253.8" cy="297.4" r="3.75"/><circle cx="201.7" cy="246.2" r="3.75"/><circle cx="203.6" cy="243.8" r="3.75"/><circle cx="260.2" cy="321.3" r="3.75"/><circle cx="225.0" cy="267.5" r="3.75"/><circle cx="243.9" cy="295.5" r="3.75"/><circle cx="199.4" cy="245.5" r="3.75"/><circle cx="197.2" cy="237.5" r="3.75"/><circle cx="192.9" cy="237.9" r="3.75"/><circle cx="156.1" cy="204.1" r="3.75"/><circle cx="284.7" cy="281.6" r="3.75"/><circle cx="281.2" cy="281.0" r="3.75"/><circle cx="269.9" cy="290.8" r="3.75"/><circle cx="301.6" cy="251.5" r="3.75"/><circle cx="309.2" cy="244.7" r="3.75"/><circle cx="320.6" cy="234.7" r="3.75"/><circle cx="263.3" cy="314.4" r="3.75"/><circle cx="265.4" cy="323.4" r="3.75"/><circle cx="315.4" cy="238.7" r="3.75"/><circle cx="285.5" cy="283.9" r="3.75"/><circle cx="294.7" cy="257.8" r="3.75"/><circle cx="292.0" cy="269.5" r="3.75"/><circle cx="265.8" cy="306.1" r="3.75"/><circle cx="268.8" cy="307.5" r="3.75"/><circle cx="304.6" cy="242.5" r="3.75"/><circle cx="267.0" cy="309.3" r="3.75"/><circle cx="321.4" cy="231.3" r="3.75"/><circle cx="372.6" cy="192.9" r="3.75"/><circle cx="334.8" cy="225.3" r="3.75"/><circle cx="261.8" cy="310.6" r="3.75"/><circle cx="321.5" cy="241.3" r="3.75"/><circle cx="293.1" cy="261.7" r="3.75"/><circle cx="266.5" cy="288.8" r="3.75"/><circle cx="288.7" cy="267.1" r="3.75"/><circle cx="377.1" cy="183.3" r="3.75"/><circle cx="264.9" cy="298.8" r="3.75"/><circle cx="282.1" cy="266.0" r="3.75"/><circle cx="322.0" cy="236.8" r="3.75"/><circle cx="292.6" cy="271.9" r="3.75"/><circle cx="265.2" cy="296.5" r="3.75"/><circle cx="365.4" cy="207.6" r="3.75"/><circle cx="297.1" cy="270.0" r="3.75"/><circle cx="280.2" cy="285.3" r="3.75"/><circle cx="284.2" cy="277.3" r="3.75"/><circle cx="267.0" cy="301.8" r="3.75"/><circle cx="319.2" cy="234.7" r="3.75"/><circle cx="296.2" cy="246.1" r="3.75"/><circle cx="315.0" cy="229.0" r="3.75"/><circle cx="326.7" cy="227.1" r="3.75"/><circle cx="359.6" cy="205.6" r="3.75"/><circle cx="315.1" cy="247.4" r="3.75"/><circle cx="266.5" cy="294.7" r="3.75"/><circle cx="338.6" cy="222.0" r="3.75"/><circle cx="312.9" cy="236.7" r="3.75"/><circle cx="281.7" cy="275.7" r="3.75"/><circle cx="306.9" cy="252.9" r="3.75"/><circle cx="365.5" cy="194.7" r="3.75"/><circle cx="284.4" cy="272.6" r="3.75"/><circle cx="323.4" cy="237.3" r="3.75"/><circle cx="259.1" cy="313.2" r="3.75"/><circle cx="261.3" cy="325.6" r="3.75"/><circle cx="308.4" cy="246.2" r="3.75"/><circle cx="370.3" cy="199.4" r="3.75"/><circle cx="305.4" cy="251.7" r="3.75"/><circle cx="356.9" cy="210.9" r="3.75"/><circle cx="282.3" cy="273.2" r="3.75"/><circle cx="314.9" cy="238.2" r="3.75"/><circle cx="315.6" cy="239.9" r="3.75"/><circle cx="302.2" cy="254.8" r="3.75"/><circle cx="332.5" cy="226.0" r="3.75"/><circle cx="283.1" cy="280.0" r="3.75"/><circle cx="327.3" cy="233.0" r="3.75"/><circle cx="378.0" cy="199.2" r="3.75"/><circle cx="276.4" cy="292.1" r="3.75"/><circle cx="260.5" cy="314.2" r="3.75"/><circle cx="260.8" cy="316.6" r="3.75"/><circle cx="337.5" cy="222.4" r="3.75"/><circle cx="287.9" cy="268.0" r="3.75"/><circle cx="279.7" cy="292.5" r="3.75"/><circle cx="333.3" cy="218.9" r="3.75"/><circle cx="281.0" cy="294.1" r="3.75"/><circle cx="264.5" cy="293.9" r="3.75"/><circle cx="314.4" cy="243.2" r="3.75"/><circle cx="364.1" cy="207.5" r="3.75"/><circle cx="359.2" cy="200.0" r="3.75"/><circle cx="360.7" cy="213.6" r="3.75"/><circle cx="321.0" cy="229.7" r="3.75"/><circle cx="347.3" cy="216.5" r="3.75"/><circle cx="299.2" cy="265.6" r="3.75"/><circle cx="384.6" cy="193.3" r="3.75"/><circle cx="278.8" cy="271.6" r="3.75"/><circle cx="295.3" cy="260.5" r="3.75"/><circle cx="264.6" cy="308.3" r="3.75"/><circle cx="309.1" cy="247.6" r="3.75"/><circle cx="261.7" cy="314.3" r="3.75"/><circle cx="307.4" cy="251.5" r="3.75"/><circle cx="301.2" cy="243.9" r="3.75"/><circle cx="300.6" cy="253.9" r="3.75"/><circle cx="268.3" cy="288.5" r="3.75"/><circle cx="309.4" cy="244.0" r="3.75"/><circle cx="281.6" cy="276.7" r="3.75"/><circle cx="278.3" cy="286.3" r="3.75"/><circle cx="283.1" cy="276.3" r="3.75"/><circle cx="279.5" cy="285.3" r="3.75"/><circle cx="270.1" cy="306.1" r="3.75"/><circle cx="261.7" cy="323.4" r="3.75"/><circle cx="336.1" cy="220.6" r="3.75"/><circle cx="269.7" cy="298.2" r="3.75"/><circle cx="309.8" cy="245.4" r="3.75"/><circle cx="334.8" cy="213.7" r="3.75"/><circle cx="311.3" cy="246.9" r="3.75"/><circle cx="290.3" cy="254.2" r="3.75"/><circle cx="274.3" cy="286.5" r="3.75"/><circle cx="294.4" cy="260.0" r="3.75"/><circle cx="258.5" cy="307.8" r="3.75"/><circle cx="301.4" cy="243.3" r="3.75"/><circle cx="386.6" cy="192.8" r="3.75"/><circle cx="269.9" cy="285.5" r="3.75"/><circle cx="320.5" cy="232.3" r="3.75"/><circle cx="262.3" cy="310.8" r="3.75"/><circle cx="258.2" cy="328.3" r="3.75"/><circle cx="263.5" cy="316.4" r="3.75"/><circle cx="279.0" cy="285.8" r="3.75"/><circle cx="268.0" cy="304.2" r="3.75"/><circle cx="258.5" cy="311.5" r="3.75"/><circle cx="263.9" cy="297.2" r="3.75"/><circle cx="362.3" cy="206.7" r="3.75"/><circle cx="276.0" cy="281.3" r="3.75"/><circle cx="271.7" cy="290.2" r="3.75"/><circle cx="295.9" cy="263.7" r="3.75"/><circle cx="351.1" cy="210.2" r="3.75"/><circle cx="333.8" cy="222.0" r="3.75"/><circle cx="269.1" cy="304.3" r="3.75"/><circle cx="277.8" cy="278.5" r="3.75"/><circle cx="308.5" cy="248.9" r="3.75"/><circle cx="263.5" cy="311.8" r="3.75"/><circle cx="262.8" cy="311.7" r="3.75"/><circle cx="260.2" cy="305.5" r="3.75"/><circle cx="280.4" cy="274.4" r="3.75"/><circle cx="294.0" cy="253.8" r="3.75"/><circle cx="318.3" cy="234.4" r="3.75"/><circle cx="316.8" cy="240.2" r="3.75"/><circle cx="284.4" cy="272.7" r="3.75"/><circle cx="285.9" cy="272.4" r="3.75"/><circle cx="352.1" cy="200.6" r="3.75"/><circle cx="261.6" cy="317.1" r="3.75"/><circle cx="275.7" cy="292.8" r="3.75"/><circle cx="312.3" cy="239.0" r="3.75"/><circle cx="277.1" cy="284.2" r="3.75"/><circle cx="351.2" cy="215.6" r="3.75"/><circle cx="262.8" cy="325.9" r="3.75"/><circle cx="320.1" cy="236.3" r="3.75"/><circle cx="342.8" cy="219.6" r="3.75"/><circle cx="285.8" cy="274.3" r="3.75"/><circle cx="279.7" cy="283.2" r="3.75"/><circle cx="328.5" cy="221.3" r="3.75"/><circle cx="276.2" cy="278.5" r="3.75"/><circle cx="276.6" cy="288.8" r="3.75"/><circle cx="370.6" cy="200.1" r="3.75"/><circle cx="338.4" cy="226.8" r="3.75"/><circle cx="285.0" cy="269.2" r="3.75"/><circle cx="326.0" cy="230.8" r="3.75"/><circle cx="288.3" cy="279.2" r="3.75"/><circle cx="292.3" cy="262.1" r="3.75"/><circle cx="288.6" cy="265.3" r="3.75"/><circle cx="309.6" cy="249.9" r="3.75"/><circle cx="259.4" cy="316.0" r="3.75"/><circle cx="352.3" cy="214.6" r="3.75"/><circle cx="319.8" cy="233.0" r="3.75"/><circle cx="327.3" cy="221.6" r="3.75"/><circle cx="320.4" cy="234.8" r="3.75"/><circle cx="260.8" cy="322.1" r="3.75"/><circle cx="345.8" cy="215.6" r="3.75"/><circle cx="357.9" cy="192.1" r="3.75"/><circle cx="293.0" cy="270.9" r="3.75"/><circle cx="288.3" cy="272.4" r="3.75"/><circle cx="370.5" cy="195.1" r="3.75"/><circle cx="281.5" cy="288.1" r="3.75"/><circle cx="341.9" cy="222.2" r="3.75"/><circle cx="264.7" cy="309.0" r="3.75"/><circle cx="273.1" cy="287.9" r="3.75"/><circle cx="282.7" cy="275.6" r="3.75"/><circle cx="282.9" cy="270.2" r="3.75"/><circle cx="278.7" cy="281.7" r="3.75"/><circle cx="280.8" cy="281.2" r="3.75"/><circle cx="289.3" cy="264.8" r="3.75"/><circle cx="296.4" cy="260.0" r="3.75"/><circle cx="301.3" cy="262.6" r="3.75"/><circle cx="367.8" cy="203.5" r="3.75"/><circle cx="312.9" cy="241.3" r="3.75"/><circle cx="302.5" cy="248.4" r="3.75"/><circle cx="340.3" cy="217.2" r="3.75"/><circle cx="272.1" cy="294.8" r="3.75"/><circle cx="273.1" cy="277.7" r="3.75"/><circle cx="298.2" cy="260.7" r="3.75"/><circle cx="284.4" cy="270.2" r="3.75"/><circle cx="262.0" cy="318.6" r="3.75"/><circle cx="290.9" cy="268.4" r="3.75"/><circle cx="281.9" cy="280.0" r="3.75"/><circle cx="311.8" cy="239.4" r="3.75"/><circle cx="292.0" cy="262.7" r="3.75"/><circle cx="300.8" cy="261.4" r="3.75"/><circle cx="260.3" cy="312.1" r="3.75"/><circle cx="262.9" cy="300.3" r="3.75"/><circle cx="362.5" cy="203.6" r="3.75"/><circle cx="272.5" cy="281.2" r="3.75"/><circle cx="360.2" cy="201.7" r="3.75"/><circle cx="288.2" cy="266.4" r="3.75"/><circle cx="342.1" cy="219.4" r="3.75"/><circle cx="340.9" cy="236.8" r="3.75"/><circle cx="261.2" cy="330.3" r="3.75"/><circle cx="325.8" cy="224.2" r="3.75"/><circle cx="323.6" cy="236.1" r="3.75"/><circle cx="338.3" cy="214.4" r="3.75"/><circle cx="267.5" cy="301.7" r="3.75"/><circle cx="281.4" cy="285.0" r="3.75"/><circle cx="332.4" cy="232.8" r="3.75"/><circle cx="290.1" cy="273.1" r="3.75"/><circle cx="304.7" cy="262.3" r="3.75"/><circle cx="284.6" cy="266.8" r="3.75"/><circle cx="293.9" cy="254.3" r="3.75"/><circle cx="322.1" cy="234.8" r="3.75"/><circle cx="329.9" cy="229.5" r="3.75"/><circle cx="298.2" cy="252.5" r="3.75"/><circle cx="267.4" cy="306.8" r="3.75"/><circle cx="262.0" cy="310.8" r="3.75"/><circle cx="266.4" cy="285.1" r="3.75"/><circle cx="275.9" cy="276.6" r="3.75"/><circle cx="282.0" cy="272.9" r="3.75"/><circle cx="329.3" cy="230.6" r="3.75"/><circle cx="274.1" cy="278.3" r="3.75"/><circle cx="320.7" cy="237.8" r="3.75"/><circle cx="376.7" cy="196.6" r="3.75"/><circle cx="268.7" cy="294.5" r="3.75"/><circle cx="298.1" cy="255.0" r="3.75"/><circle cx="263.5" cy="331.6" r="3.75"/><circle cx="281.1" cy="273.0" r="3.75"/><circle cx="334.6" cy="227.7" r="3.75"/><circle cx="293.1" cy="271.2" r="3.75"/><circle cx="306.1" cy="253.9" r="3.75"/><circle cx="344.9" cy="219.3" r="3.75"/><circle cx="344.4" cy="221.1" r="3.75"/><circle cx="334.8" cy="229.3" r="3.75"/><circle cx="270.5" cy="295.7" r="3.75"/><circle cx="259.6" cy="322.5" r="3.75"/><circle cx="263.8" cy="306.6" r="3.75"/><circle cx="298.1" cy="259.0" r="3.75"/><circle cx="260.9" cy="314.2" r="3.75"/><circle cx="319.5" cy="232.8" r="3.75"/><circle cx="334.2" cy="233.2" r="3.75"/><circle cx="280.6" cy="273.5" r="3.75"/><circle cx="295.9" cy="250.3" r="3.75"/><circle cx="349.8" cy="213.8" r="3.75"/><circle cx="378.7" cy="197.4" r="3.75"/><circle cx="261.9" cy="324.8" r="3.75"/><circle cx="306.8" cy="249.0" r="3.75"/><circle cx="308.6" cy="245.8" r="3.75"/><circle cx="266.0" cy="315.2" r="3.75"/><circle cx="275.0" cy="296.2" r="3.75"/><circle cx="278.7" cy="285.8" r="3.75"/><circle cx="315.9" cy="237.1" r="3.75"/><circle cx="260.3" cy="322.1" r="3.75"/><circle cx="382.5" cy="189.3" r="3.75"/><circle cx="317.2" cy="240.6" r="3.75"/><circle cx="330.2" cy="230.0" r="3.75"/><circle cx="317.6" cy="234.9" r="3.75"/><circle cx="319.1" cy="234.3" r="3.75"/><circle cx="330.5" cy="227.7" r="3.75"/><circle cx="319.0" cy="239.3" r="3.75"/><circle cx="266.9" cy="302.8" r="3.75"/><circle cx="313.9" cy="234.5" r="3.75"/><circle cx="288.2" cy="268.7" r="3.75"/><circle cx="326.6" cy="229.5" r="3.75"/><circle cx="264.7" cy="317.5" r="3.75"/><circle cx="363.6" cy="202.2" r="3.75"/><circle cx="278.2" cy="281.1" r="3.75"/><circle cx="290.2" cy="269.5" r="3.75"/><circle cx="294.9" cy="257.3" r="3.75"/><circle cx="324.6" cy="230.4" r="3.75"/><circle cx="273.4" cy="297.8" r="3.75"/><circle cx="306.1" cy="246.4" r="3.75"/><circle cx="369.5" cy="206.2" r="3.75"/><circle cx="311.9" cy="236.1" r="3.75"/><circle cx="271.7" cy="297.8" r="3.75"/><circle cx="284.0" cy="272.2" r="3.75"/><circle cx="292.1" cy="258.8" r="3.75"/><circle cx="330.2" cy="224.7" r="3.75"/><circle cx="263.4" cy="315.9" r="3.75"/><circle cx="312.9" cy="241.8" r="3.75"/><circle cx="265.6" cy="310.7" r="3.75"/><circle cx="353.4" cy="209.6" r="3.75"/><circle cx="296.6" cy="257.3" r="3.75"/><circle cx="259.5" cy="320.1" r="3.75"/><circle cx="333.4" cy="223.1" r="3.75"/><circle cx="278.4" cy="271.3" r="3.75"/><circle cx="331.5" cy="225.4" r="3.75"/><circle cx="314.1" cy="245.9" r="3.75"/><circle cx="362.5" cy="209.8" r="3.75"/><circle cx="361.7" cy="201.6" r="3.75"/><circle cx="262.4" cy="317.8" r="3.75"/><circle cx="369.4" cy="206.4" r="3.75"/><circle cx="260.3" cy="314.2" r="3.75"/><circle cx="268.8" cy="289.2" r="3.75"/><circle cx="338.2" cy="220.4" r="3.75"/><circle cx="292.1" cy="266.3" r="3.75"/><circle cx="304.8" cy="246.8" r="3.75"/><circle cx="302.9" cy="261.5" r="3.75"/><circle cx="273.8" cy="281.9" r="3.75"/><circle cx="274.6" cy="283.5" r="3.75"/><circle cx="325.8" cy="229.0" r="3.75"/><circle cx="256.0" cy="318.6" r="3.75"/><circle cx="338.5" cy="216.9" r="3.75"/><circle cx="263.4" cy="313.1" r="3.75"/><circle cx="318.7" cy="229.9" r="3.75"/><circle cx="282.9" cy="277.2" r="3.75"/><circle cx="348.0" cy="213.1" r="3.75"/><circle cx="316.8" cy="231.6" r="3.75"/><circle cx="287.5" cy="282.1" r="3.75"/><circle cx="264.5" cy="313.9" r="3.75"/><circle cx="279.3" cy="273.0" r="3.75"/><circle cx="304.3" cy="242.8" r="3.75"/><circle cx="261.6" cy="313.0" r="3.75"/><circle cx="324.6" cy="233.9" r="3.75"/><circle cx="325.1" cy="228.6" r="3.75"/><circle cx="265.3" cy="309.5" r="3.75"/><circle cx="264.0" cy="293.5" r="3.75"/><circle cx="290.1" cy="268.3" r="3.75"/><circle cx="277.6" cy="288.6" r="3.75"/><circle cx="307.6" cy="240.6" r="3.75"/><circle cx="296.8" cy="251.0" r="3.75"/><circle cx="284.4" cy="278.8" r="3.75"/><circle cx="285.6" cy="260.4" r="3.75"/><circle cx="311.1" cy="247.2" r="3.75"/><circle cx="340.4" cy="219.0" r="3.75"/><circle cx="285.5" cy="267.8" r="3.75"/><circle cx="295.3" cy="256.1" r="3.75"/><circle cx="313.1" cy="240.1" r="3.75"/><circle cx="291.6" cy="269.8" r="3.75"/><circle cx="354.6" cy="205.1" r="3.75"/><circle cx="260.1" cy="333.6" r="3.75"/><circle cx="258.1" cy="365.8" r="3.75"/><circle cx="258.7" cy="329.0" r="3.75"/><circle cx="260.2" cy="341.3" r="3.75"/><circle cx="259.4" cy="335.7" r="3.75"/><circle cx="258.0" cy="327.4" r="3.75"/><circle cx="259.3" cy="334.4" r="3.75"/><circle cx="258.8" cy="333.4" r="3.75"/><circle cx="259.0" cy="340.7" r="3.75"/><circle cx="258.7" cy="352.4" r="3.75"/><circle cx="259.0" cy="365.9" r="3.75"/><circle cx="258.6" cy="332.0" r="3.75"/><circle cx="259.0" cy="338.4" r="3.75"/><circle cx="258.7" cy="334.4" r="3.75"/><circle cx="259.9" cy="342.6" r="3.75"/><circle cx="259.1" cy="342.8" r="3.75"/><circle cx="259.4" cy="327.4" r="3.75"/><circle cx="258.9" cy="366.5" r="3.75"/><circle cx="259.8" cy="327.9" r="3.75"/><circle cx="259.4" cy="350.8" r="3.75"/><circle cx="259.0" cy="337.0" r="3.75"/><circle cx="260.0" cy="342.8" r="3.75"/><circle cx="259.2" cy="331.5" r="3.75"/><circle cx="259.3" cy="367.6" r="3.75"/><circle cx="259.5" cy="363.3" r="3.75"/><circle cx="112.9" cy="173.0" r="3.75"/><circle cx="408.3" cy="172.6" r="3.75"/><circle cx="208.2" cy="275.9" r="3.75"/><circle cx="270.6" cy="285.0" r="3.75"/><circle cx="153.6" cy="218.4" r="3.75"/><circle cx="176.1" cy="205.5" r="3.75"/><circle cx="378.0" cy="205.5" r="3.75"/></g></defs><clipPath id="ca"><rect x="101.50" y="62.80" width="317.00" height="347.50"/></clipPath><g clip-path="url(#ca)"><rect x="99.5" y="60.8" width="321.0" height="351.5" fill="#837fc6"/><path d="M399.5 126.8L369.5 127.3L359.9 128.8L327.5 129.4L320.8 130.8L289.5 131.3L285.5 131.7L281.5 132.8L251.5 133.2L245.5 133.7L241.6 134.8L211.5 135.2L205.5 135.8L201.7 136.8L173.5 137.2L167.5 137.6L161.8 138.8L133.5 139.2L127.5 139.6L122.3 140.8L98.5 141.0L98.5 413.3L421.5 413.3L421.5 124.9L407.5 125.4Z" fill="#a09bd0" fill-rule="evenodd"/><path d="M421.5 160.5L98.5 176.8L98.5 413.3L421.5 413.3Z" fill="#bcb8de" fill-rule="evenodd"/><path d="M403.5 196.8L381.5 197.3L364.3 198.8L337.5 199.5L325.1 200.8L299.5 201.4L285.6 202.8L259.5 203.4L245.7 204.8L219.5 205.4L205.9 206.8L179.5 207.5L166.2 208.8L139.5 209.5L126.8 210.8L98.5 211.6L98.5 413.3L421.5 413.3L421.5 195.3Z" fill="#d0cee6" fill-rule="evenodd"/><path d="M421.5 202.6L98.5 218.7L98.5 413.3L421.5 413.3Z" fill="#d9d8ea" fill-rule="evenodd"/><path d="M421.5 212.9L98.5 229.3L98.5 413.3L421.5 413.3Z" fill="#e3e2ee" fill-rule="evenodd"/><path d="M421.5 222.7L98.5 238.9L98.5 413.3L421.5 413.3Z" fill="#eaeaef" fill-rule="evenodd"/><path d="M421.5 230.0L98.5 246.3L98.5 413.3L421.5 413.3Z" fill="#eeedec" fill-rule="evenodd"/><path d="M393.5 240.8L369.5 241.4L354.5 242.8L325.5 243.7L315.4 244.8L289.5 245.5L275.6 246.8L249.5 247.5L235.8 248.8L211.5 249.4L196.0 250.8L171.5 251.4L156.3 252.8L133.5 253.3L117.0 254.8L98.5 255.2L98.5 413.3L421.5 413.3L421.5 239.0L405.5 239.6Z" fill="#ece6e3" fill-rule="evenodd"/><path d="M421.5 246.7L98.5 263.0L98.5 413.3L421.5 413.3Z" fill="#e6dcd6" fill-rule="evenodd"/><path d="M421.5 257.1L98.5 273.3L98.5 413.3L421.5 413.3Z" fill="#dfd0c7" fill-rule="evenodd"/><path d="M407.5 267.0L393.5 268.1L369.3 268.8L355.5 270.0L329.4 270.8L315.5 272.0L290.0 272.8L275.5 274.1L250.6 274.8L235.5 276.1L211.0 276.8L197.5 278.0L171.2 278.8L157.5 280.0L131.5 280.8L119.5 281.9L98.5 282.7L98.5 413.3L421.5 413.3L421.5 266.5Z" fill="#d3bbae" fill-rule="evenodd"/><path d="M421.5 300.8L98.5 317.1L98.5 413.3L421.5 413.3Z" fill="#c19d8a" fill-rule="evenodd"/><path d="M411.4 336.8L399.5 338.5L371.4 338.8L367.5 339.9L361.5 340.4L331.5 340.8L327.5 342.0L321.5 342.4L292.7 342.8L283.5 344.4L253.2 344.8L249.5 345.8L243.5 346.4L213.3 346.8L209.5 347.8L203.5 348.4L173.4 348.8L169.5 349.9L163.5 350.4L133.5 350.8L129.5 352.0L125.5 352.3L98.5 352.8L98.5 413.3L421.5 413.3L421.5 336.7Z" fill="#ae7c63" fill-rule="evenodd"/><use href="#U" x="0.0" y="0.0" fill="#8a08ac" fill-opacity="0.58" stroke="#000" stroke-opacity="0.68" stroke-width="1.35"/><use href="#L" x="0.0" y="0.0" fill="#f29a2e" fill-opacity="0.58" stroke="#000" stroke-opacity="0.68" stroke-width="1.35"/><g fill="#8a08ac" fill-opacity="0.6" stroke="#ff0000" stroke-opacity="0.55" stroke-width="2.4" transform="translate(0.0,0.0)"><circle cx="157.3" cy="203.6" r="3.6"/><circle cx="171.9" cy="212.9" r="3.6"/><circle cx="181.6" cy="231.8" r="3.6"/><circle cx="155.7" cy="211.1" r="3.6"/><circle cx="165.2" cy="215.5" r="3.6"/><circle cx="177.2" cy="223.1" r="3.6"/><circle cx="195.7" cy="231.7" r="3.6"/><circle cx="187.6" cy="239.9" r="3.6"/><circle cx="148.2" cy="206.4" r="3.6"/><circle cx="164.3" cy="212.8" r="3.6"/><circle cx="148.0" cy="201.8" r="3.6"/><circle cx="188.3" cy="232.5" r="3.6"/><circle cx="160.1" cy="207.4" r="3.6"/><circle cx="187.1" cy="237.0" r="3.6"/><circle cx="192.7" cy="236.8" r="3.6"/><circle cx="187.5" cy="223.7" r="3.6"/><circle cx="192.7" cy="234.1" r="3.6"/><circle cx="147.2" cy="192.1" r="3.6"/><circle cx="154.7" cy="200.0" r="3.6"/><circle cx="189.1" cy="237.2" r="3.6"/><circle cx="180.1" cy="237.1" r="3.6"/><circle cx="197.6" cy="234.1" r="3.6"/><circle cx="161.6" cy="212.8" r="3.6"/><circle cx="197.7" cy="237.6" r="3.6"/><circle cx="186.4" cy="225.2" r="3.6"/><circle cx="185.9" cy="232.9" r="3.6"/><circle cx="158.5" cy="214.5" r="3.6"/><circle cx="140.1" cy="192.5" r="3.6"/><circle cx="142.9" cy="200.5" r="3.6"/><circle cx="197.4" cy="238.9" r="3.6"/><circle cx="170.4" cy="219.2" r="3.6"/><circle cx="140.2" cy="197.9" r="3.6"/><circle cx="162.5" cy="216.6" r="3.6"/><circle cx="200.9" cy="239.1" r="3.6"/><circle cx="197.5" cy="233.8" r="3.6"/><circle cx="187.7" cy="222.1" r="3.6"/><circle cx="180.1" cy="223.5" r="3.6"/><circle cx="168.8" cy="212.5" r="3.6"/><circle cx="179.6" cy="219.3" r="3.6"/><circle cx="161.3" cy="216.4" r="3.6"/><circle cx="191.3" cy="228.2" r="3.6"/><circle cx="181.7" cy="222.5" r="3.6"/><circle cx="145.6" cy="202.5" r="3.6"/><circle cx="195.0" cy="240.0" r="3.6"/><circle cx="190.2" cy="230.5" r="3.6"/><circle cx="154.4" cy="202.2" r="3.6"/><circle cx="169.6" cy="214.2" r="3.6"/><circle cx="156.7" cy="215.3" r="3.6"/><circle cx="174.2" cy="222.0" r="3.6"/><circle cx="166.0" cy="211.1" r="3.6"/><circle cx="191.8" cy="228.6" r="3.6"/><circle cx="151.5" cy="202.5" r="3.6"/><circle cx="154.8" cy="199.7" r="3.6"/><circle cx="161.6" cy="204.0" r="3.6"/><circle cx="164.0" cy="204.6" r="3.6"/><circle cx="163.7" cy="216.0" r="3.6"/><circle cx="181.4" cy="230.1" r="3.6"/><circle cx="165.5" cy="213.1" r="3.6"/><circle cx="190.9" cy="224.1" r="3.6"/><circle cx="182.8" cy="223.1" r="3.6"/><circle cx="160.8" cy="209.4" r="3.6"/><circle cx="171.9" cy="223.5" r="3.6"/><circle cx="190.2" cy="225.6" r="3.6"/><circle cx="160.0" cy="212.8" r="3.6"/><circle cx="186.9" cy="235.8" r="3.6"/><circle cx="185.0" cy="228.7" r="3.6"/><circle cx="157.3" cy="212.0" r="3.6"/><circle cx="169.8" cy="213.9" r="3.6"/><circle cx="184.3" cy="223.9" r="3.6"/><circle cx="180.0" cy="220.7" r="3.6"/><circle cx="192.7" cy="234.0" r="3.6"/><circle cx="187.3" cy="223.7" r="3.6"/><circle cx="193.3" cy="237.1" r="3.6"/><circle cx="207.7" cy="240.5" r="3.6"/><circle cx="155.4" cy="204.0" r="3.6"/><circle cx="141.8" cy="199.9" r="3.6"/><circle cx="150.6" cy="192.8" r="3.6"/><circle cx="143.7" cy="184.0" r="3.6"/><circle cx="194.1" cy="239.5" r="3.6"/><circle cx="182.1" cy="223.7" r="3.6"/><circle cx="199.2" cy="231.3" r="3.6"/><circle cx="191.8" cy="238.9" r="3.6"/><circle cx="165.3" cy="212.6" r="3.6"/><circle cx="171.1" cy="219.5" r="3.6"/><circle cx="190.0" cy="232.8" r="3.6"/><circle cx="197.0" cy="234.4" r="3.6"/><circle cx="182.5" cy="230.5" r="3.6"/><circle cx="175.9" cy="231.2" r="3.6"/><circle cx="148.0" cy="203.4" r="3.6"/><circle cx="172.2" cy="213.2" r="3.6"/><circle cx="124.8" cy="207.3" r="3.6"/><circle cx="183.5" cy="223.8" r="3.6"/><circle cx="141.6" cy="190.8" r="3.6"/><circle cx="200.1" cy="234.4" r="3.6"/><circle cx="196.6" cy="237.8" r="3.6"/><circle cx="186.4" cy="228.1" r="3.6"/><circle cx="197.2" cy="237.5" r="3.6"/><circle cx="192.9" cy="237.9" r="3.6"/><circle cx="156.1" cy="204.1" r="3.6"/><circle cx="320.6" cy="234.7" r="3.6"/><circle cx="321.4" cy="231.3" r="3.6"/><circle cx="372.6" cy="192.9" r="3.6"/><circle cx="334.8" cy="225.3" r="3.6"/><circle cx="377.1" cy="183.3" r="3.6"/><circle cx="365.4" cy="207.6" r="3.6"/><circle cx="319.2" cy="234.7" r="3.6"/><circle cx="315.0" cy="229.0" r="3.6"/><circle cx="326.7" cy="227.1" r="3.6"/><circle cx="359.6" cy="205.6" r="3.6"/><circle cx="338.6" cy="222.0" r="3.6"/><circle cx="365.5" cy="194.7" r="3.6"/><circle cx="370.3" cy="199.4" r="3.6"/><circle cx="356.9" cy="210.9" r="3.6"/><circle cx="332.5" cy="226.0" r="3.6"/><circle cx="327.3" cy="233.0" r="3.6"/><circle cx="378.0" cy="199.2" r="3.6"/><circle cx="337.5" cy="222.4" r="3.6"/><circle cx="333.3" cy="218.9" r="3.6"/><circle cx="364.1" cy="207.5" r="3.6"/><circle cx="359.2" cy="200.0" r="3.6"/><circle cx="360.7" cy="213.6" r="3.6"/><circle cx="321.0" cy="229.7" r="3.6"/><circle cx="347.3" cy="216.5" r="3.6"/><circle cx="384.6" cy="193.3" r="3.6"/><circle cx="336.1" cy="220.6" r="3.6"/><circle cx="334.8" cy="213.7" r="3.6"/><circle cx="386.6" cy="192.8" r="3.6"/><circle cx="320.5" cy="232.3" r="3.6"/><circle cx="362.3" cy="206.7" r="3.6"/><circle cx="351.1" cy="210.2" r="3.6"/><circle cx="333.8" cy="222.0" r="3.6"/><circle cx="318.3" cy="234.4" r="3.6"/><circle cx="352.1" cy="200.6" r="3.6"/><circle cx="351.2" cy="215.6" r="3.6"/><circle cx="342.8" cy="219.6" r="3.6"/><circle cx="328.5" cy="221.3" r="3.6"/><circle cx="370.6" cy="200.1" r="3.6"/><circle cx="338.4" cy="226.8" r="3.6"/><circle cx="326.0" cy="230.8" r="3.6"/><circle cx="352.3" cy="214.6" r="3.6"/><circle cx="319.8" cy="233.0" r="3.6"/><circle cx="327.3" cy="221.6" r="3.6"/><circle cx="320.4" cy="234.8" r="3.6"/><circle cx="345.8" cy="215.6" r="3.6"/><circle cx="357.9" cy="192.1" r="3.6"/><circle cx="370.5" cy="195.1" r="3.6"/><circle cx="341.9" cy="222.2" r="3.6"/><circle cx="367.8" cy="203.5" r="3.6"/><circle cx="340.3" cy="217.2" r="3.6"/><circle cx="362.5" cy="203.6" r="3.6"/><circle cx="360.2" cy="201.7" r="3.6"/><circle cx="342.1" cy="219.4" r="3.6"/><circle cx="325.8" cy="224.2" r="3.6"/><circle cx="338.3" cy="214.4" r="3.6"/><circle cx="332.4" cy="232.8" r="3.6"/><circle cx="322.1" cy="234.8" r="3.6"/><circle cx="329.9" cy="229.5" r="3.6"/><circle cx="329.3" cy="230.6" r="3.6"/><circle cx="376.7" cy="196.6" r="3.6"/><circle cx="334.6" cy="227.7" r="3.6"/><circle cx="344.9" cy="219.3" r="3.6"/><circle cx="344.4" cy="221.1" r="3.6"/><circle cx="334.8" cy="229.3" r="3.6"/><circle cx="319.5" cy="232.8" r="3.6"/><circle cx="334.2" cy="233.2" r="3.6"/><circle cx="349.8" cy="213.8" r="3.6"/><circle cx="378.7" cy="197.4" r="3.6"/><circle cx="382.5" cy="189.3" r="3.6"/><circle cx="330.2" cy="230.0" r="3.6"/><circle cx="317.6" cy="234.9" r="3.6"/><circle cx="319.1" cy="234.3" r="3.6"/><circle cx="330.5" cy="227.7" r="3.6"/><circle cx="313.9" cy="234.5" r="3.6"/><circle cx="326.6" cy="229.5" r="3.6"/><circle cx="363.6" cy="202.2" r="3.6"/><circle cx="324.6" cy="230.4" r="3.6"/><circle cx="369.5" cy="206.2" r="3.6"/><circle cx="330.2" cy="224.7" r="3.6"/><circle cx="353.4" cy="209.6" r="3.6"/><circle cx="333.4" cy="223.1" r="3.6"/><circle cx="331.5" cy="225.4" r="3.6"/><circle cx="362.5" cy="209.8" r="3.6"/><circle cx="361.7" cy="201.6" r="3.6"/><circle cx="369.4" cy="206.4" r="3.6"/><circle cx="338.2" cy="220.4" r="3.6"/><circle cx="325.8" cy="229.0" r="3.6"/><circle cx="338.5" cy="216.9" r="3.6"/><circle cx="318.7" cy="229.9" r="3.6"/><circle cx="348.0" cy="213.1" r="3.6"/><circle cx="316.8" cy="231.6" r="3.6"/><circle cx="324.6" cy="233.9" r="3.6"/><circle cx="325.1" cy="228.6" r="3.6"/><circle cx="340.4" cy="219.0" r="3.6"/><circle cx="354.6" cy="205.1" r="3.6"/><circle cx="112.9" cy="173.0" r="3.6"/><circle cx="408.3" cy="172.6" r="3.6"/><circle cx="153.6" cy="218.4" r="3.6"/><circle cx="176.1" cy="205.5" r="3.6"/><circle cx="378.0" cy="205.5" r="3.6"/></g><g fill="#f29a2e" fill-opacity="0.6" stroke="#ff0000" stroke-opacity="0.55" stroke-width="2.4" transform="translate(0.0,0.0)"><circle cx="254.5" cy="258.3" r="3.6"/><circle cx="258.6" cy="263.4" r="3.6"/><circle cx="257.7" cy="242.3" r="3.6"/><circle cx="254.1" cy="240.5" r="3.6"/><circle cx="259.6" cy="258.0" r="3.6"/><circle cx="258.8" cy="255.0" r="3.6"/><circle cx="254.4" cy="243.3" r="3.6"/><circle cx="256.5" cy="249.0" r="3.6"/><circle cx="256.6" cy="248.2" r="3.6"/><circle cx="257.7" cy="256.7" r="3.6"/><circle cx="254.6" cy="251.5" r="3.6"/><circle cx="258.7" cy="250.0" r="3.6"/><circle cx="253.4" cy="252.5" r="3.6"/><circle cx="255.0" cy="245.3" r="3.6"/><circle cx="255.7" cy="244.8" r="3.6"/><circle cx="260.2" cy="261.0" r="3.6"/><circle cx="255.1" cy="238.7" r="3.6"/><circle cx="259.3" cy="245.3" r="3.6"/><circle cx="260.7" cy="262.6" r="3.6"/><circle cx="257.2" cy="250.2" r="3.6"/><circle cx="250.9" cy="242.1" r="3.6"/><circle cx="259.8" cy="264.1" r="3.6"/><circle cx="257.8" cy="257.0" r="3.6"/><circle cx="257.2" cy="239.8" r="3.6"/><circle cx="258.5" cy="249.9" r="3.6"/><circle cx="254.7" cy="247.6" r="3.6"/><circle cx="255.0" cy="256.6" r="3.6"/><circle cx="258.4" cy="249.7" r="3.6"/><circle cx="257.0" cy="244.5" r="3.6"/><circle cx="250.0" cy="239.0" r="3.6"/><circle cx="258.3" cy="252.7" r="3.6"/><circle cx="257.9" cy="259.2" r="3.6"/><circle cx="255.5" cy="251.6" r="3.6"/><circle cx="250.1" cy="244.7" r="3.6"/><circle cx="252.2" cy="239.2" r="3.6"/><circle cx="256.2" cy="259.5" r="3.6"/><circle cx="252.6" cy="240.3" r="3.6"/><circle cx="251.3" cy="240.0" r="3.6"/><circle cx="255.7" cy="247.3" r="3.6"/><circle cx="257.5" cy="254.2" r="3.6"/><circle cx="256.8" cy="252.1" r="3.6"/><circle cx="261.0" cy="247.3" r="3.6"/><circle cx="265.6" cy="252.2" r="3.6"/><circle cx="261.1" cy="252.9" r="3.6"/><circle cx="267.1" cy="245.4" r="3.6"/><circle cx="263.9" cy="243.8" r="3.6"/><circle cx="271.7" cy="240.4" r="3.6"/><circle cx="261.5" cy="239.3" r="3.6"/><circle cx="260.6" cy="260.9" r="3.6"/><circle cx="260.3" cy="247.0" r="3.6"/><circle cx="262.1" cy="241.7" r="3.6"/><circle cx="259.6" cy="260.7" r="3.6"/><circle cx="261.1" cy="249.7" r="3.6"/><circle cx="260.3" cy="255.7" r="3.6"/><circle cx="260.0" cy="263.6" r="3.6"/><circle cx="263.5" cy="248.6" r="3.6"/><circle cx="266.4" cy="246.3" r="3.6"/><circle cx="260.6" cy="262.8" r="3.6"/><circle cx="261.2" cy="250.2" r="3.6"/><circle cx="261.8" cy="256.7" r="3.6"/><circle cx="260.7" cy="250.7" r="3.6"/><circle cx="260.5" cy="248.2" r="3.6"/><circle cx="263.0" cy="258.8" r="3.6"/><circle cx="267.0" cy="243.4" r="3.6"/><circle cx="261.5" cy="252.7" r="3.6"/><circle cx="262.7" cy="245.5" r="3.6"/><circle cx="262.6" cy="241.0" r="3.6"/><circle cx="260.7" cy="246.9" r="3.6"/><circle cx="260.5" cy="257.9" r="3.6"/><circle cx="266.6" cy="240.8" r="3.6"/><circle cx="262.8" cy="245.9" r="3.6"/><circle cx="258.4" cy="259.6" r="3.6"/><circle cx="260.9" cy="251.0" r="3.6"/><circle cx="264.4" cy="244.6" r="3.6"/><circle cx="261.8" cy="253.5" r="3.6"/><circle cx="268.1" cy="240.7" r="3.6"/><circle cx="263.6" cy="249.2" r="3.6"/><circle cx="260.9" cy="248.0" r="3.6"/><circle cx="262.0" cy="255.5" r="3.6"/><circle cx="262.9" cy="248.4" r="3.6"/><circle cx="259.3" cy="275.9" r="3.6"/></g></g><rect x="145.40" y="374.80" width="228.5" height="38" fill="#fff" fill-opacity="0.8" stroke="#000" stroke-opacity="0.88" stroke-width="3"/><text x="155.28" y="400.70" font-size="26.80" font-style="italic" textLength="12.56" lengthAdjust="spacingAndGlyphs" fill="#000">s</text><text x="177.43" y="400.70" font-size="26.80" textLength="25.59" lengthAdjust="spacingAndGlyphs" fill="#000">=</text><text x="211.66" y="400.70" font-size="26.80" textLength="56.51" lengthAdjust="spacingAndGlyphs" fill="#000">1.27</text><text x="276.75" y="400.70" font-size="26.80" textLength="23.96" lengthAdjust="spacingAndGlyphs" fill="#000">±</text><text x="308.77" y="400.70" font-size="26.80" textLength="58.16" lengthAdjust="spacingAndGlyphs" fill="#000">0.02</text><rect x="101.50" y="62.80" width="317.00" height="347.50" fill="none" stroke="#000" stroke-width="2.9" stroke-linejoin="miter" stroke-linecap="square"/><line x1="88.10" y1="402.16" x2="101.50" y2="402.16" stroke="#000" stroke-width="2.9"/><line x1="88.10" y1="315.70" x2="101.50" y2="315.70" stroke="#000" stroke-width="2.9"/><line x1="88.10" y1="229.24" x2="101.50" y2="229.24" stroke="#000" stroke-width="2.9"/><line x1="88.10" y1="142.78" x2="101.50" y2="142.78" stroke="#000" stroke-width="2.9"/><line x1="172.65" y1="410.30" x2="172.65" y2="422.90" stroke="#000" stroke-width="2.9"/><line x1="259.30" y1="410.30" x2="259.30" y2="422.90" stroke="#000" stroke-width="2.9"/><line x1="345.95" y1="410.30" x2="345.95" y2="422.90" stroke="#000" stroke-width="2.9"/><text x="59.45" y="152.28" font-size="26.80" textLength="15.41" lengthAdjust="spacingAndGlyphs" fill="#000">4</text><text x="60.69" y="238.74" font-size="26.80" textLength="15.41" lengthAdjust="spacingAndGlyphs" fill="#000">2</text><text x="60.22" y="325.20" font-size="26.80" textLength="15.41" lengthAdjust="spacingAndGlyphs" fill="#000">0</text><text x="60.69" y="411.66" font-size="26.80" textLength="15.41" lengthAdjust="spacingAndGlyphs" fill="#000">2</text><rect x="37.60" y="403.36" width="18.4" height="2.0" fill="#000"/><rect x="148.10" y="447.20" width="18.6" height="2.0" fill="#000"/><text x="170.30" y="455.80" font-size="26.80" textLength="31.77" lengthAdjust="spacingAndGlyphs" fill="#000">10</text><text x="251.98" y="455.80" font-size="26.80" textLength="16.55" lengthAdjust="spacingAndGlyphs" fill="#000">0</text><text x="330.80" y="455.80" font-size="26.80" textLength="31.77" lengthAdjust="spacingAndGlyphs" fill="#000">10</text><text x="251.65" y="496.50" font-size="28.00" textLength="17.40" lengthAdjust="spacingAndGlyphs" fill="#000">x</text><text transform="translate(14.20,236.50) rotate(-90)" x="-8.64" y="0" font-size="28" textLength="17.11" lengthAdjust="spacingAndGlyphs">y</text><path d="M445.30 78.20L453.30 61.50L461.30 78.20Z" fill="#756fc0"/><rect x="445.30" y="77.70" width="16.00" height="23.03" fill="#837fc6"/><rect x="445.30" y="100.33" width="16.00" height="23.03" fill="#a09bd0"/><rect x="445.30" y="122.96" width="16.00" height="23.03" fill="#bcb8de"/><rect x="445.30" y="145.59" width="16.00" height="23.03" fill="#d0cee6"/><rect x="445.30" y="168.21" width="16.00" height="23.03" fill="#d9d8ea"/><rect x="445.30" y="190.84" width="16.00" height="23.03" fill="#e3e2ee"/><rect x="445.30" y="213.47" width="16.00" height="23.03" fill="#eaeaef"/><rect x="445.30" y="236.10" width="16.00" height="23.03" fill="#eeedec"/><rect x="445.30" y="258.73" width="16.00" height="23.03" fill="#ece6e3"/><rect x="445.30" y="281.36" width="16.00" height="23.03" fill="#e6dcd6"/><rect x="445.30" y="303.99" width="16.00" height="23.03" fill="#dfd0c7"/><rect x="445.30" y="326.61" width="16.00" height="23.03" fill="#d3bbae"/><rect x="445.30" y="349.24" width="16.00" height="23.03" fill="#c19d8a"/><rect x="445.30" y="371.87" width="16.00" height="23.03" fill="#ae7c63"/><path d="M445.30 394.00L453.30 411.00L461.30 394.00Z" fill="#a06a50"/><path d="M445.30 77.70L453.30 61.50L461.30 77.70L461.30 394.50L453.30 411.00L445.30 394.50Z" fill="none" stroke="#000" stroke-width="2.9" stroke-miterlimit="10"/><line x1="461.30" y1="100.33" x2="474.20" y2="100.33" stroke="#000" stroke-width="2.9"/><text x="487.41" y="109.83" font-size="26.80" textLength="56.48" lengthAdjust="spacingAndGlyphs" fill="#000">0.99</text><line x1="461.30" y1="168.21" x2="474.20" y2="168.21" stroke="#000" stroke-width="2.9"/><text x="487.41" y="177.71" font-size="26.80" textLength="56.48" lengthAdjust="spacingAndGlyphs" fill="#000">0.25</text><line x1="461.30" y1="236.10" x2="474.20" y2="236.10" stroke="#000" stroke-width="2.9"/><text x="487.41" y="245.60" font-size="26.80" textLength="56.48" lengthAdjust="spacingAndGlyphs" fill="#000">0.00</text><line x1="461.30" y1="303.99" x2="474.20" y2="303.99" stroke="#000" stroke-width="2.9"/><rect x="487.90" y="305.89" width="8.6" height="1.7" fill="#000"/><text x="498.61" y="313.49" font-size="26.80" textLength="56.48" lengthAdjust="spacingAndGlyphs" fill="#000">0.25</text><line x1="461.30" y1="371.87" x2="474.20" y2="371.87" stroke="#000" stroke-width="2.9"/><rect x="487.90" y="373.77" width="8.6" height="1.7" fill="#000"/><text x="498.61" y="381.37" font-size="26.80" textLength="56.48" lengthAdjust="spacingAndGlyphs" fill="#000">0.99</text><text x="7.38" y="27.60" font-size="40.00" font-weight="bold" textLength="52.24" lengthAdjust="spacingAndGlyphs" fill="#000">(a)</text><text x="205.06" y="40.80" font-size="47.50" textLength="110.03" lengthAdjust="spacingAndGlyphs" fill="#000">TICA</text><clipPath id="cb"><rect x="687.50" y="62.80" width="317.00" height="347.50"/></clipPath><g clip-path="url(#cb)"><rect x="685.5" y="60.8" width="321.0" height="351.5" fill="#a09bd0"/><path d="M684.5 59.8L703.5 59.8L725.2 95.6L736.1 111.7L744.2 122.7L755.1 136.1L763.2 145.2L774.1 155.9L782.2 162.9L790.4 169.1L798.5 174.5L806.6 179.0L814.8 182.6L822.9 185.4L831.1 187.3L838.2 188.3L845.3 188.6L853.1 188.2L860.9 187.0L869.1 185.0L877.2 182.0L885.4 178.3L893.5 173.6L907.1 164.0L915.2 157.1L926.1 146.5L934.2 137.6L945.1 124.4L955.9 109.7L966.8 93.5L985.8 61.4L988.5 59.8L1007.5 59.8L1007.5 413.3L684.5 413.3Z" fill="#bcb8de"/><path d="M684.5 59.8L692.6 59.8L719.8 94.3L744.2 123.5L768.6 150.2L790.4 171.6L806.6 185.9L822.9 198.1L835.6 205.7L841.4 208.3L845.3 209.4L849.8 208.0L855.5 205.5L869.1 197.2L882.6 187.0L898.9 172.9L920.6 151.6L945.1 125.0L969.5 95.9L996.6 61.2L999.4 59.8L1007.5 59.8L1007.5 413.3L684.5 413.3Z" fill="#d0cee6"/><path d="M684.5 59.8L689.9 60.2L717.1 94.7L744.2 127.4L768.6 155.0L790.4 177.8L806.6 193.5L822.9 207.5L836.2 217.2L841.4 220.3L845.3 221.9L848.5 220.6L853.7 217.6L866.4 208.6L882.6 194.7L898.9 179.1L920.6 156.4L945.1 128.9L972.2 96.3L999.4 61.9L1002.1 59.8L1007.5 59.8L1007.5 413.3L684.5 413.3Z" fill="#d9d8ea"/><path d="M684.5 59.8L687.2 59.8L689.9 62.8L714.4 99.7L736.1 130.1L757.8 158.0L779.5 183.2L798.5 202.5L809.4 212.2L817.5 218.7L825.6 224.5L833.0 228.9L840.1 232.2L845.3 233.6L851.1 231.9L858.2 228.6L866.4 223.6L874.5 217.7L890.8 203.7L909.8 184.6L931.5 159.6L953.2 131.8L977.6 97.6L1002.1 60.6L1004.8 59.8L1007.5 59.8L1007.5 413.3L684.5 413.3Z" fill="#e3e2ee"/><path d="M684.5 61.3L706.2 99.2L727.9 133.7L749.6 164.6L760.5 178.6L771.4 191.5L782.2 203.4L793.1 214.1L803.9 223.5L812.1 229.7L822.9 236.6L831.1 240.6L838.8 243.3L845.3 244.4L852.4 243.1L860.9 240.0L869.1 235.8L877.2 230.6L885.4 224.6L896.2 215.3L907.1 204.7L917.9 193.0L936.9 169.9L958.6 139.7L980.4 105.9L1004.8 63.6L1007.5 59.8L1007.5 413.3L684.5 413.3Z" fill="#eaeaef"/><path d="M684.5 68.6L706.2 107.3L727.9 142.5L749.6 173.9L760.5 188.2L771.4 201.4L782.2 213.4L793.1 224.3L803.9 233.9L812.1 240.2L822.9 247.2L831.1 251.3L838.8 254.1L845.3 255.2L852.4 253.9L860.9 250.7L869.1 246.4L879.9 239.2L888.1 232.8L898.9 223.0L909.8 211.9L920.6 199.7L931.5 186.4L942.4 172.0L964.1 140.3L985.8 104.9L1007.5 66.0L1007.5 413.3L684.5 413.3Z" fill="#eeedec"/><path d="M684.5 75.6L706.2 115.5L727.9 151.8L749.6 184.3L760.5 199.0L771.4 212.6L782.2 225.1L793.1 236.3L803.9 246.2L812.1 252.7L822.9 259.9L831.1 264.2L838.8 267.0L845.3 268.1L852.4 266.8L860.9 263.5L869.1 259.1L879.9 251.6L888.1 245.0L898.9 234.9L909.8 223.5L920.6 210.9L931.5 197.1L942.4 182.3L964.1 149.6L985.8 113.0L1007.5 72.9L1007.5 413.3L684.5 413.3Z" fill="#ece6e3"/><path d="M684.5 84.5L706.2 125.2L727.9 162.3L749.6 195.5L760.5 210.5L771.4 224.4L782.2 237.1L793.1 248.6L803.9 258.7L812.1 265.3L822.9 272.7L831.1 277.1L838.8 280.0L845.3 281.1L852.4 279.8L860.9 276.4L869.1 271.9L879.9 264.3L888.1 257.5L898.9 247.2L909.8 235.5L920.6 222.7L931.5 208.6L942.4 193.5L964.1 160.0L985.8 122.7L1007.5 81.7L1007.5 413.3L684.5 413.3Z" fill="#e6dcd6"/><path d="M684.5 92.1L708.9 138.1L730.6 175.4L752.4 209.0L763.2 224.2L774.1 238.5L784.9 251.5L793.1 260.5L803.9 271.4L812.1 278.5L822.9 286.6L831.1 291.5L838.8 294.8L845.3 296.2L852.4 294.6L860.9 290.7L869.1 285.7L877.2 279.6L885.4 272.6L896.2 261.9L907.1 249.9L917.9 236.7L928.8 222.3L939.6 206.9L961.4 173.1L983.1 135.6L1007.5 89.3L1007.5 413.3L684.5 413.3Z" fill="#dfd0c7"/><path d="M684.5 103.2L708.9 149.7L730.6 187.7L752.4 222.3L774.1 253.0L784.9 266.8L795.8 279.4L806.6 290.6L814.8 298.1L822.9 304.7L832.3 310.8L839.5 314.2L845.3 315.7L851.1 314.2L858.3 310.8L866.4 305.6L877.2 296.9L885.4 289.3L896.2 277.8L907.1 265.1L917.9 251.2L939.6 220.2L961.4 185.4L983.1 147.2L1007.5 100.4L1007.5 413.3L684.5 413.3Z" fill="#d3bbae"/><path d="M684.5 108.0L708.9 162.1L730.6 206.3L752.4 246.5L763.2 265.0L774.1 282.2L784.9 298.2L795.8 312.8L806.6 325.9L814.8 334.6L822.9 342.2L832.3 349.4L839.5 353.3L845.3 355.0L851.1 353.3L858.3 349.4L866.4 343.3L877.2 333.2L885.4 324.3L896.2 311.0L907.1 296.2L917.9 280.1L928.8 262.6L939.6 244.0L961.4 203.6L983.1 159.2L1007.5 104.8L1007.5 413.3L684.5 413.3Z" fill="#c19d8a"/><path d="M684.5 125.5L684.5 413.3L822.9 413.3L820.2 409.7L806.6 385.9L793.1 360.5L776.8 328.5L760.5 295.0L725.2 218.7ZM866.4 413.3L1007.5 413.3L1007.5 122.2L964.1 221.6L942.4 269.1L923.4 309.0L904.4 347.3L885.4 383.3L869.1 411.9Z" fill="#ae7c63"/><path d="M684.5 140.8L684.5 413.3L795.8 413.3L784.9 391.3L771.4 361.9L744.2 298.4L714.4 222.3ZM893.5 413.3L1007.5 413.3L1007.5 136.8L974.9 225.8L958.6 267.9L942.4 308.2L926.1 346.5L912.5 376.7L896.2 410.6Z" fill="#a06a50"/><use href="#U" x="586.0" y="0.0" fill="#8a08ac" fill-opacity="0.58" stroke="#000" stroke-opacity="0.68" stroke-width="1.35"/><use href="#L" x="586.0" y="0.0" fill="#f29a2e" fill-opacity="0.58" stroke="#000" stroke-opacity="0.68" stroke-width="1.35"/><g fill="#f29a2e" fill-opacity="0.6" stroke="#ff0000" stroke-opacity="0.55" stroke-width="2.4" transform="translate(586.0,0.0)"><circle cx="254.5" cy="258.3" r="3.6"/><circle cx="258.6" cy="263.4" r="3.6"/><circle cx="259.6" cy="258.0" r="3.6"/><circle cx="258.8" cy="255.0" r="3.6"/><circle cx="256.5" cy="249.0" r="3.6"/><circle cx="256.6" cy="248.2" r="3.6"/><circle cx="257.7" cy="256.7" r="3.6"/><circle cx="254.6" cy="251.5" r="3.6"/><circle cx="258.7" cy="250.0" r="3.6"/><circle cx="253.4" cy="252.5" r="3.6"/><circle cx="260.2" cy="261.0" r="3.6"/><circle cx="260.7" cy="262.6" r="3.6"/><circle cx="257.2" cy="250.2" r="3.6"/><circle cx="259.8" cy="264.1" r="3.6"/><circle cx="257.8" cy="257.0" r="3.6"/><circle cx="258.5" cy="249.9" r="3.6"/><circle cx="254.7" cy="247.6" r="3.6"/><circle cx="255.0" cy="256.6" r="3.6"/><circle cx="258.4" cy="249.7" r="3.6"/><circle cx="258.3" cy="252.7" r="3.6"/><circle cx="257.9" cy="259.2" r="3.6"/><circle cx="255.5" cy="251.6" r="3.6"/><circle cx="256.2" cy="259.5" r="3.6"/><circle cx="255.7" cy="247.3" r="3.6"/><circle cx="257.5" cy="254.2" r="3.6"/><circle cx="256.8" cy="252.1" r="3.6"/><circle cx="261.0" cy="247.3" r="3.6"/><circle cx="265.6" cy="252.2" r="3.6"/><circle cx="261.1" cy="252.9" r="3.6"/><circle cx="260.6" cy="260.9" r="3.6"/><circle cx="260.3" cy="247.0" r="3.6"/><circle cx="259.6" cy="260.7" r="3.6"/><circle cx="261.1" cy="249.7" r="3.6"/><circle cx="260.3" cy="255.7" r="3.6"/><circle cx="260.0" cy="263.6" r="3.6"/><circle cx="263.5" cy="248.6" r="3.6"/><circle cx="266.4" cy="246.3" r="3.6"/><circle cx="260.6" cy="262.8" r="3.6"/><circle cx="261.2" cy="250.2" r="3.6"/><circle cx="261.8" cy="256.7" r="3.6"/><circle cx="260.7" cy="250.7" r="3.6"/><circle cx="260.5" cy="248.2" r="3.6"/><circle cx="263.0" cy="258.8" r="3.6"/><circle cx="261.5" cy="252.7" r="3.6"/><circle cx="260.7" cy="246.9" r="3.6"/><circle cx="260.5" cy="257.9" r="3.6"/><circle cx="262.8" cy="245.9" r="3.6"/><circle cx="258.4" cy="259.6" r="3.6"/><circle cx="260.9" cy="251.0" r="3.6"/><circle cx="261.8" cy="253.5" r="3.6"/><circle cx="263.6" cy="249.2" r="3.6"/><circle cx="260.9" cy="248.0" r="3.6"/><circle cx="262.0" cy="255.5" r="3.6"/><circle cx="262.9" cy="248.4" r="3.6"/><circle cx="259.3" cy="275.9" r="3.6"/></g></g><rect x="731.40" y="374.80" width="228.5" height="38" fill="#fff" fill-opacity="0.8" stroke="#000" stroke-opacity="0.88" stroke-width="3"/><text x="741.75" y="400.70" font-size="26.80" font-weight="bold" font-style="italic" textLength="12.05" lengthAdjust="spacingAndGlyphs" fill="#000">s</text><text x="763.43" y="400.70" font-size="26.80" font-weight="bold" textLength="25.86" lengthAdjust="spacingAndGlyphs" fill="#000">=</text><text x="797.82" y="400.70" font-size="26.80" font-weight="bold" textLength="56.34" lengthAdjust="spacingAndGlyphs" fill="#000">1.56</text><text x="862.77" y="400.70" font-size="26.80" font-weight="bold" textLength="23.70" lengthAdjust="spacingAndGlyphs" fill="#000">±</text><text x="894.78" y="400.70" font-size="26.80" font-weight="bold" textLength="57.63" lengthAdjust="spacingAndGlyphs" fill="#000">0.02</text><rect x="687.50" y="62.80" width="317.00" height="347.50" fill="none" stroke="#000" stroke-width="2.9" stroke-linejoin="miter" stroke-linecap="square"/><line x1="674.10" y1="402.16" x2="687.50" y2="402.16" stroke="#000" stroke-width="2.9"/><line x1="674.10" y1="315.70" x2="687.50" y2="315.70" stroke="#000" stroke-width="2.9"/><line x1="674.10" y1="229.24" x2="687.50" y2="229.24" stroke="#000" stroke-width="2.9"/><line x1="674.10" y1="142.78" x2="687.50" y2="142.78" stroke="#000" stroke-width="2.9"/><line x1="758.65" y1="410.30" x2="758.65" y2="422.90" stroke="#000" stroke-width="2.9"/><line x1="845.30" y1="410.30" x2="845.30" y2="422.90" stroke="#000" stroke-width="2.9"/><line x1="931.95" y1="410.30" x2="931.95" y2="422.90" stroke="#000" stroke-width="2.9"/><text x="645.45" y="152.28" font-size="26.80" textLength="15.41" lengthAdjust="spacingAndGlyphs" fill="#000">4</text><text x="646.69" y="238.74" font-size="26.80" textLength="15.41" lengthAdjust="spacingAndGlyphs" fill="#000">2</text><text x="646.22" y="325.20" font-size="26.80" textLength="15.41" lengthAdjust="spacingAndGlyphs" fill="#000">0</text><text x="646.69" y="411.66" font-size="26.80" textLength="15.41" lengthAdjust="spacingAndGlyphs" fill="#000">2</text><rect x="623.60" y="403.36" width="18.4" height="2.0" fill="#000"/><rect x="734.10" y="447.20" width="18.6" height="2.0" fill="#000"/><text x="756.30" y="455.80" font-size="26.80" textLength="31.77" lengthAdjust="spacingAndGlyphs" fill="#000">10</text><text x="837.98" y="455.80" font-size="26.80" textLength="16.55" lengthAdjust="spacingAndGlyphs" fill="#000">0</text><text x="916.80" y="455.80" font-size="26.80" textLength="31.77" lengthAdjust="spacingAndGlyphs" fill="#000">10</text><text x="837.65" y="496.50" font-size="28.00" textLength="17.40" lengthAdjust="spacingAndGlyphs" fill="#000">x</text><text transform="translate(600.20,236.50) rotate(-90)" x="-8.64" y="0" font-size="28" textLength="17.11" lengthAdjust="spacingAndGlyphs">y</text><path d="M1031.30 78.20L1039.30 61.50L1047.30 78.20Z" fill="#756fc0"/><rect x="1031.30" y="77.70" width="16.00" height="23.03" fill="#837fc6"/><rect x="1031.30" y="100.33" width="16.00" height="23.03" fill="#a09bd0"/><rect x="1031.30" y="122.96" width="16.00" height="23.03" fill="#bcb8de"/><rect x="1031.30" y="145.59" width="16.00" height="23.03" fill="#d0cee6"/><rect x="1031.30" y="168.21" width="16.00" height="23.03" fill="#d9d8ea"/><rect x="1031.30" y="190.84" width="16.00" height="23.03" fill="#e3e2ee"/><rect x="1031.30" y="213.47" width="16.00" height="23.03" fill="#eaeaef"/><rect x="1031.30" y="236.10" width="16.00" height="23.03" fill="#eeedec"/><rect x="1031.30" y="258.73" width="16.00" height="23.03" fill="#ece6e3"/><rect x="1031.30" y="281.36" width="16.00" height="23.03" fill="#e6dcd6"/><rect x="1031.30" y="303.99" width="16.00" height="23.03" fill="#dfd0c7"/><rect x="1031.30" y="326.61" width="16.00" height="23.03" fill="#d3bbae"/><rect x="1031.30" y="349.24" width="16.00" height="23.03" fill="#c19d8a"/><rect x="1031.30" y="371.87" width="16.00" height="23.03" fill="#ae7c63"/><path d="M1031.30 394.00L1039.30 411.00L1047.30 394.00Z" fill="#a06a50"/><path d="M1031.30 77.70L1039.30 61.50L1047.30 77.70L1047.30 394.50L1039.30 411.00L1031.30 394.50Z" fill="none" stroke="#000" stroke-width="2.9" stroke-miterlimit="10"/><line x1="1047.30" y1="100.33" x2="1060.20" y2="100.33" stroke="#000" stroke-width="2.9"/><text x="1073.24" y="109.83" font-size="26.80" textLength="56.65" lengthAdjust="spacingAndGlyphs" fill="#000">2.25</text><line x1="1047.30" y1="168.21" x2="1060.20" y2="168.21" stroke="#000" stroke-width="2.9"/><text x="1073.42" y="177.71" font-size="26.80" textLength="56.15" lengthAdjust="spacingAndGlyphs" fill="#000">0.56</text><line x1="1047.30" y1="236.10" x2="1060.20" y2="236.10" stroke="#000" stroke-width="2.9"/><text x="1073.41" y="245.60" font-size="26.80" textLength="56.48" lengthAdjust="spacingAndGlyphs" fill="#000">0.00</text><line x1="1047.30" y1="303.99" x2="1060.20" y2="303.99" stroke="#000" stroke-width="2.9"/><rect x="1073.90" y="305.89" width="8.6" height="1.7" fill="#000"/><text x="1084.62" y="313.49" font-size="26.80" textLength="56.15" lengthAdjust="spacingAndGlyphs" fill="#000">0.56</text><line x1="1047.30" y1="371.87" x2="1060.20" y2="371.87" stroke="#000" stroke-width="2.9"/><rect x="1073.90" y="373.77" width="8.6" height="1.7" fill="#000"/><text x="1084.44" y="381.37" font-size="26.80" textLength="56.65" lengthAdjust="spacingAndGlyphs" fill="#000">2.25</text><text x="593.38" y="27.60" font-size="40.00" font-weight="bold" textLength="54.76" lengthAdjust="spacingAndGlyphs" fill="#000">(b)</text><text x="777.41" y="40.80" font-size="47.50" textLength="136.82" lengthAdjust="spacingAndGlyphs" fill="#000">EDMD</text><clipPath id="cc"><rect x="1273.50" y="62.80" width="317.00" height="347.50"/></clipPath><g clip-path="url(#cc)"><rect x="1271.5" y="60.8" width="321.0" height="351.5" fill="#837fc6"/><path d="M1270.5 90.6L1305.8 114.6L1338.4 139.4L1351.9 150.7L1365.5 162.8L1376.4 173.3L1387.2 184.6L1398.1 197.1L1406.2 207.6L1414.4 219.6L1419.0 227.4L1424.2 237.8L1427.9 247.6L1430.6 258.3L1431.3 264.7L1432.6 254.8L1435.2 245.6L1439.1 235.8L1444.2 225.6L1449.6 216.4L1457.8 204.5L1465.9 194.0L1476.8 181.5L1498.5 159.5L1512.1 147.2L1525.6 135.7L1558.2 110.6L1593.5 86.2L1593.5 413.3L1270.5 413.3Z" fill="#a09bd0"/><path d="M1270.5 106.7L1305.8 129.6L1338.4 153.1L1365.5 175.5L1387.2 196.2L1398.1 208.1L1406.2 218.1L1414.4 229.5L1419.0 236.9L1424.2 246.9L1427.9 256.2L1430.6 266.4L1431.3 272.5L1432.6 263.2L1435.2 254.6L1439.1 245.3L1444.2 235.7L1449.6 227.1L1457.8 215.9L1465.9 206.1L1476.8 194.3L1498.5 173.6L1525.6 151.3L1558.2 127.7L1593.5 104.7L1593.5 413.3L1270.5 413.3Z" fill="#bcb8de"/><path d="M1270.5 123.4L1305.8 144.9L1338.4 167.0L1365.5 188.0L1387.2 207.4L1398.1 218.6L1406.2 227.9L1414.4 238.6L1419.0 245.6L1424.2 254.9L1427.9 263.7L1430.6 273.2L1431.3 279.0L1432.6 270.1L1435.2 261.9L1439.1 253.1L1444.2 244.0L1449.6 235.8L1457.8 225.1L1465.9 215.7L1476.8 204.5L1498.5 184.8L1525.6 163.6L1558.2 141.1L1593.5 119.2L1593.5 413.3L1270.5 413.3Z" fill="#d0cee6"/><path d="M1270.5 132.7L1305.8 153.8L1338.4 175.5L1365.5 196.1L1387.2 215.2L1398.1 226.1L1406.2 235.3L1414.4 245.9L1419.0 252.7L1424.2 261.9L1427.9 270.4L1430.6 279.8L1431.3 285.4L1432.6 276.6L1435.2 268.3L1439.1 259.5L1444.2 250.4L1449.6 242.1L1457.8 231.5L1465.9 222.0L1476.8 210.8L1498.5 191.1L1525.6 169.8L1558.2 147.3L1593.5 125.3L1593.5 413.3L1270.5 413.3Z" fill="#d9d8ea"/><path d="M1270.5 139.0L1305.8 160.1L1338.4 181.9L1365.5 202.5L1387.2 221.6L1398.1 232.6L1406.2 241.8L1414.4 252.3L1419.0 259.1L1424.2 268.3L1427.9 276.9L1430.6 286.3L1431.3 291.9L1432.6 283.0L1435.2 274.7L1439.1 265.8L1444.2 256.5L1449.6 248.2L1457.8 237.5L1465.9 228.0L1476.8 216.6L1498.5 196.7L1525.6 175.2L1558.2 152.5L1593.5 130.4L1593.5 413.3L1270.5 413.3Z" fill="#e3e2ee"/><path d="M1270.5 144.1L1305.8 165.4L1338.4 187.4L1365.5 208.1L1387.2 227.4L1398.1 238.5L1406.2 247.8L1414.4 258.4L1419.0 265.3L1424.2 274.6L1427.9 283.2L1430.6 292.7L1431.3 298.4L1432.6 289.4L1435.2 281.0L1439.1 272.0L1444.2 262.7L1449.6 254.4L1457.8 243.5L1465.9 233.9L1476.8 222.4L1498.5 202.4L1525.6 180.7L1558.2 157.8L1593.5 135.5L1593.5 413.3L1270.5 413.3Z" fill="#eaeaef"/><path d="M1270.5 149.3L1305.8 170.8L1338.4 192.9L1365.5 213.9L1387.2 233.3L1398.1 244.5L1406.2 253.9L1414.4 264.6L1419.0 271.5L1424.2 280.9L1427.9 289.6L1430.6 299.2L1431.3 304.9L1432.6 295.9L1435.2 287.5L1439.1 278.5L1444.2 269.1L1449.6 260.8L1457.8 249.9L1465.9 240.3L1476.8 228.8L1498.5 208.7L1525.6 187.0L1558.2 164.0L1593.5 141.7L1593.5 413.3L1270.5 413.3Z" fill="#eeedec"/><path d="M1270.5 155.5L1305.8 177.0L1338.4 199.2L1365.5 220.2L1387.2 239.7L1398.1 250.9L1406.2 260.2L1414.4 271.0L1419.0 278.0L1424.2 287.3L1427.9 296.0L1430.6 305.6L1431.3 311.4L1432.6 302.3L1435.2 293.9L1439.1 284.9L1444.2 275.5L1449.6 267.1L1457.8 256.2L1465.9 246.6L1476.8 235.1L1498.5 215.0L1525.6 193.2L1558.2 170.2L1593.5 147.8L1593.5 413.3L1270.5 413.3Z" fill="#ece6e3"/><path d="M1270.5 161.2L1305.8 182.5L1338.4 204.5L1365.5 225.3L1387.2 244.6L1398.1 255.7L1406.2 265.0L1414.4 275.7L1419.0 282.6L1424.2 291.8L1427.9 300.5L1430.6 310.0L1431.3 315.7L1432.6 306.8L1435.2 298.4L1439.1 289.5L1444.2 280.3L1449.6 271.9L1457.8 261.2L1465.9 251.6L1476.8 240.3L1498.5 220.3L1525.6 198.8L1558.2 176.1L1593.5 153.9L1593.5 413.3L1270.5 413.3Z" fill="#e6dcd6"/><path d="M1270.5 166.2L1305.8 187.5L1338.4 209.3L1365.5 230.0L1387.2 249.3L1398.1 260.3L1406.2 269.6L1414.4 280.2L1419.0 287.1L1424.2 296.3L1427.9 304.9L1430.6 314.4L1431.3 320.0L1432.6 311.2L1435.2 302.9L1439.1 294.1L1444.2 285.0L1449.6 276.8L1457.8 266.1L1465.9 256.7L1476.8 245.5L1498.5 225.8L1525.6 204.5L1558.2 182.0L1593.5 160.1L1593.5 413.3L1270.5 413.3Z" fill="#dfd0c7"/><path d="M1270.5 171.1L1305.8 192.3L1338.4 214.1L1365.5 234.7L1387.2 253.9L1398.1 264.9L1406.2 274.1L1414.4 284.6L1419.0 291.5L1424.2 300.7L1427.9 309.3L1430.6 318.7L1431.3 324.3L1432.6 315.8L1435.2 307.9L1439.1 299.4L1444.2 290.6L1449.6 282.7L1457.8 272.5L1465.9 263.4L1476.8 252.6L1498.5 233.6L1525.6 213.1L1558.2 191.5L1593.5 170.4L1593.5 413.3L1270.5 413.3Z" fill="#d3bbae"/><path d="M1270.5 187.8L1305.8 207.6L1338.4 227.9L1365.5 247.2L1387.2 265.0L1398.1 275.3L1406.2 283.9L1414.4 293.8L1419.0 300.2L1424.2 308.7L1427.9 316.8L1430.6 325.6L1431.3 330.8L1432.6 322.8L1435.2 315.2L1439.1 307.2L1444.2 298.8L1449.6 291.3L1457.8 281.6L1465.9 273.0L1476.8 262.7L1498.5 244.8L1525.6 225.4L1558.2 204.8L1593.5 184.8L1593.5 413.3L1270.5 413.3Z" fill="#c19d8a"/><path d="M1270.5 202.4L1305.8 221.1L1338.4 240.2L1365.5 258.4L1387.2 275.3L1398.1 284.9L1406.2 293.1L1414.4 302.4L1419.0 308.4L1424.2 316.5L1427.9 324.0L1430.6 332.3L1431.3 337.3L1432.6 329.7L1435.2 322.6L1439.1 315.0L1444.2 307.1L1449.6 300.0L1457.8 290.8L1465.9 282.6L1476.8 272.9L1498.5 255.9L1525.6 237.6L1558.2 218.1L1593.5 199.2L1593.5 413.3L1270.5 413.3Z" fill="#ae7c63"/><path d="M1270.5 216.5L1305.8 234.4L1338.4 252.8L1365.5 270.2L1387.2 286.4L1398.1 295.7L1406.2 303.5L1414.4 312.4L1419.0 318.2L1424.2 326.0L1427.9 333.2L1430.6 341.2L1431.3 346.0L1432.6 338.6L1435.2 331.8L1439.1 324.5L1444.2 316.9L1449.6 310.1L1457.8 301.2L1465.9 293.4L1476.8 284.1L1498.5 267.7L1525.6 250.1L1558.2 231.4L1593.5 213.2L1593.5 413.3L1270.5 413.3Z" fill="#a06a50"/><use href="#U" x="1172.0" y="0.0" fill="#8a08ac" fill-opacity="0.58" stroke="#000" stroke-opacity="0.68" stroke-width="1.35"/><use href="#L" x="1172.0" y="0.0" fill="#f29a2e" fill-opacity="0.58" stroke="#000" stroke-opacity="0.68" stroke-width="1.35"/></g><rect x="1317.40" y="374.80" width="228.5" height="38" fill="#fff" fill-opacity="0.8" stroke="#000" stroke-opacity="0.88" stroke-width="3"/><text x="1327.28" y="400.70" font-size="26.80" font-style="italic" textLength="12.56" lengthAdjust="spacingAndGlyphs" fill="#000">s</text><text x="1349.43" y="400.70" font-size="26.80" textLength="25.59" lengthAdjust="spacingAndGlyphs" fill="#000">=</text><text x="1383.64" y="400.70" font-size="26.80" textLength="56.86" lengthAdjust="spacingAndGlyphs" fill="#000">1.78</text><text x="1448.75" y="400.70" font-size="26.80" textLength="23.96" lengthAdjust="spacingAndGlyphs" fill="#000">±</text><text x="1480.77" y="400.70" font-size="26.80" textLength="58.16" lengthAdjust="spacingAndGlyphs" fill="#000">0.02</text><rect x="1273.50" y="62.80" width="317.00" height="347.50" fill="none" stroke="#000" stroke-width="2.9" stroke-linejoin="miter" stroke-linecap="square"/><line x1="1260.10" y1="402.16" x2="1273.50" y2="402.16" stroke="#000" stroke-width="2.9"/><line x1="1260.10" y1="315.70" x2="1273.50" y2="315.70" stroke="#000" stroke-width="2.9"/><line x1="1260.10" y1="229.24" x2="1273.50" y2="229.24" stroke="#000" stroke-width="2.9"/><line x1="1260.10" y1="142.78" x2="1273.50" y2="142.78" stroke="#000" stroke-width="2.9"/><line x1="1344.65" y1="410.30" x2="1344.65" y2="422.90" stroke="#000" stroke-width="2.9"/><line x1="1431.30" y1="410.30" x2="1431.30" y2="422.90" stroke="#000" stroke-width="2.9"/><line x1="1517.95" y1="410.30" x2="1517.95" y2="422.90" stroke="#000" stroke-width="2.9"/><text x="1231.45" y="152.28" font-size="26.80" textLength="15.41" lengthAdjust="spacingAndGlyphs" fill="#000">4</text><text x="1232.69" y="238.74" font-size="26.80" textLength="15.41" lengthAdjust="spacingAndGlyphs" fill="#000">2</text><text x="1232.22" y="325.20" font-size="26.80" textLength="15.41" lengthAdjust="spacingAndGlyphs" fill="#000">0</text><text x="1232.69" y="411.66" font-size="26.80" textLength="15.41" lengthAdjust="spacingAndGlyphs" fill="#000">2</text><rect x="1209.60" y="403.36" width="18.4" height="2.0" fill="#000"/><rect x="1320.10" y="447.20" width="18.6" height="2.0" fill="#000"/><text x="1342.30" y="455.80" font-size="26.80" textLength="31.77" lengthAdjust="spacingAndGlyphs" fill="#000">10</text><text x="1423.98" y="455.80" font-size="26.80" textLength="16.55" lengthAdjust="spacingAndGlyphs" fill="#000">0</text><text x="1502.80" y="455.80" font-size="26.80" textLength="31.77" lengthAdjust="spacingAndGlyphs" fill="#000">10</text><text x="1423.65" y="496.50" font-size="28.00" textLength="17.40" lengthAdjust="spacingAndGlyphs" fill="#000">x</text><text transform="translate(1186.20,236.50) rotate(-90)" x="-8.64" y="0" font-size="28" textLength="17.11" lengthAdjust="spacingAndGlyphs">y</text><path d="M1617.30 78.20L1625.30 61.50L1633.30 78.20Z" fill="#756fc0"/><rect x="1617.30" y="77.70" width="16.00" height="23.03" fill="#837fc6"/><rect x="1617.30" y="100.33" width="16.00" height="23.03" fill="#a09bd0"/><rect x="1617.30" y="122.96" width="16.00" height="23.03" fill="#bcb8de"/><rect x="1617.30" y="145.59" width="16.00" height="23.03" fill="#d0cee6"/><rect x="1617.30" y="168.21" width="16.00" height="23.03" fill="#d9d8ea"/><rect x="1617.30" y="190.84" width="16.00" height="23.03" fill="#e3e2ee"/><rect x="1617.30" y="213.47" width="16.00" height="23.03" fill="#eaeaef"/><rect x="1617.30" y="236.10" width="16.00" height="23.03" fill="#eeedec"/><rect x="1617.30" y="258.73" width="16.00" height="23.03" fill="#ece6e3"/><rect x="1617.30" y="281.36" width="16.00" height="23.03" fill="#e6dcd6"/><rect x="1617.30" y="303.99" width="16.00" height="23.03" fill="#dfd0c7"/><rect x="1617.30" y="326.61" width="16.00" height="23.03" fill="#d3bbae"/><rect x="1617.30" y="349.24" width="16.00" height="23.03" fill="#c19d8a"/><rect x="1617.30" y="371.87" width="16.00" height="23.03" fill="#ae7c63"/><path d="M1617.30 394.00L1625.30 411.00L1633.30 394.00Z" fill="#a06a50"/><path d="M1617.30 77.70L1625.30 61.50L1633.30 77.70L1633.30 394.50L1625.30 411.00L1617.30 394.50Z" fill="none" stroke="#000" stroke-width="2.9" stroke-miterlimit="10"/><line x1="1633.30" y1="100.33" x2="1646.20" y2="100.33" stroke="#000" stroke-width="2.9"/><text x="1657.85" y="109.83" font-size="26.80" textLength="58.59" lengthAdjust="spacingAndGlyphs" fill="#000">1.12</text><line x1="1633.30" y1="168.21" x2="1646.20" y2="168.21" stroke="#000" stroke-width="2.9"/><text x="1659.41" y="177.71" font-size="26.80" textLength="56.48" lengthAdjust="spacingAndGlyphs" fill="#000">0.28</text><line x1="1633.30" y1="236.10" x2="1646.20" y2="236.10" stroke="#000" stroke-width="2.9"/><text x="1659.41" y="245.60" font-size="26.80" textLength="56.48" lengthAdjust="spacingAndGlyphs" fill="#000">0.00</text><line x1="1633.30" y1="303.99" x2="1646.20" y2="303.99" stroke="#000" stroke-width="2.9"/><rect x="1659.90" y="305.89" width="8.6" height="1.7" fill="#000"/><text x="1670.61" y="313.49" font-size="26.80" textLength="56.48" lengthAdjust="spacingAndGlyphs" fill="#000">0.28</text><line x1="1633.30" y1="371.87" x2="1646.20" y2="371.87" stroke="#000" stroke-width="2.9"/><rect x="1659.90" y="373.77" width="8.6" height="1.7" fill="#000"/><text x="1669.05" y="381.37" font-size="26.80" textLength="58.59" lengthAdjust="spacingAndGlyphs" fill="#000">1.12</text><text x="1179.38" y="27.60" font-size="40.00" font-weight="bold" textLength="49.72" lengthAdjust="spacingAndGlyphs" fill="#000">(c)</text><text x="1296.55" y="40.80" font-size="47.50" textLength="271.79" lengthAdjust="spacingAndGlyphs" fill="#000">backtransform</text><clipPath id="cg"><rect x="101.50" y="942.00" width="317.00" height="347.50"/></clipPath><g clip-path="url(#cg)"><rect x="99.5" y="940.0" width="321.0" height="351.5" fill="#837fc6"/><path d="M127.5 1292.3L127.2 1286.0L125.5 1282.3L125.0 1270.0L123.5 1266.0L123.5 1236.2L125.0 1232.0L125.5 1219.9L127.2 1216.0L127.5 1209.9L128.8 1208.0L129.5 1202.0L131.2 1200.0L131.5 1196.0L133.3 1194.0L133.5 1191.7L134.9 1190.0L135.5 1187.8L137.1 1186.0L137.5 1183.9L145.4 1176.0L149.5 1175.6L155.5 1176.0L163.5 1184.0L163.8 1186.0L165.5 1187.9L165.8 1190.0L167.5 1191.9L167.7 1194.0L169.5 1196.0L169.7 1200.0L171.5 1202.5L171.9 1208.0L173.5 1210.0L173.9 1218.0L175.5 1220.0L176.2 1236.0L177.5 1239.9L177.5 1262.0L176.0 1268.0L175.5 1282.0L174.0 1284.0L173.2 1292.5L353.4 1292.5L352.9 1290.0L351.5 1288.0L351.0 1278.0L349.5 1274.6L349.5 1228.0L351.0 1224.0L351.5 1214.0L353.1 1212.0L353.5 1205.9L355.0 1204.0L355.5 1199.7L356.7 1198.0L357.5 1193.9L359.2 1192.0L359.5 1189.8L361.1 1188.0L361.5 1185.9L363.3 1184.0L365.5 1180.0L367.5 1178.0L369.5 1177.3L371.1 1176.0L375.5 1175.3L379.9 1176.0L381.5 1177.3L383.5 1178.0L385.5 1180.0L387.7 1184.0L389.5 1185.9L389.9 1188.0L391.5 1189.8L391.8 1192.0L393.5 1193.9L394.3 1198.0L395.5 1199.7L396.0 1204.0L397.5 1205.9L397.9 1212.0L399.5 1214.0L400.0 1224.0L401.5 1228.0L401.5 1274.6L400.0 1278.0L399.5 1288.0L398.1 1290.0L397.6 1292.5L421.5 1292.5L421.5 994.0L413.5 994.3L411.5 994.8L409.6 996.0L401.5 996.3L399.6 998.0L397.5 998.3L395.6 1000.0L393.5 1000.6L389.5 1004.0L387.5 1004.2L385.6 1006.0L383.5 1006.4L378.6 1010.0L377.5 1010.2L371.5 1016.0L369.5 1016.5L361.5 1024.0L359.5 1024.5L343.5 1040.0L339.5 1042.9L322.4 1060.0L319.5 1064.0L303.9 1080.0L301.5 1084.0L295.8 1090.0L293.5 1094.0L287.8 1100.0L287.5 1102.0L285.6 1104.0L285.5 1105.2L281.8 1110.0L281.5 1112.0L279.6 1114.0L279.5 1115.2L276.3 1120.0L275.5 1124.0L273.6 1126.0L273.5 1128.0L271.7 1130.0L271.5 1132.1L269.9 1134.0L269.5 1136.0L263.8 1142.0L263.5 1143.2L262.3 1144.0L259.5 1144.1L257.5 1144.0L251.4 1134.0L249.5 1132.0L249.2 1130.0L247.5 1128.1L245.4 1124.0L243.5 1122.0L243.2 1120.0L239.5 1116.0L239.3 1114.0L235.5 1110.0L235.3 1108.0L231.5 1104.0L231.3 1102.0L221.5 1092.0L217.2 1086.0L199.5 1068.2L193.5 1064.0L183.5 1054.4L181.5 1054.0L175.5 1048.4L173.5 1048.0L167.5 1042.4L165.5 1042.0L159.5 1036.4L157.5 1036.0L151.5 1030.4L149.5 1030.0L143.5 1024.4L141.5 1024.0L131.5 1014.4L129.5 1013.2L127.5 1010.8L121.5 998.8L121.5 981.9L122.9 980.0L123.5 974.0L127.5 970.0L129.5 969.9L131.5 968.0L133.5 967.9L135.5 966.0L149.5 966.0L153.5 967.9L155.5 968.0L157.5 969.9L159.5 970.0L161.5 971.9L163.5 972.0L167.5 975.2L169.5 976.0L179.8 986.0L193.5 1000.0L195.9 1004.0L209.5 1018.0L210.5 1020.0L213.8 1024.0L247.5 1057.6L249.5 1058.0L255.5 1063.5L257.5 1063.5L259.5 1062.0L267.5 1061.5L277.5 1052.0L279.5 1050.8L322.3 1008.0L323.5 1006.0L339.1 990.0L340.8 988.0L341.5 986.0L355.3 972.0L358.7 968.0L359.5 966.0L371.3 954.0L371.5 952.9L375.2 948.0L375.5 946.0L377.4 944.0L377.5 942.9L380.3 939.0L98.5 939.0L98.5 1292.5Z" fill="#a09bd0" fill-rule="evenodd"/><path d="M122.1 1292.5L118.9 1272.0L117.9 1252.0L118.7 1232.0L120.5 1218.0L124.0 1202.0L129.1 1188.0L132.3 1182.0L135.5 1177.6L139.5 1173.5L143.5 1170.9L145.5 1170.0L151.5 1169.3L155.5 1170.1L161.5 1173.7L165.6 1178.0L170.7 1186.0L174.2 1194.0L176.8 1202.0L180.9 1222.0L182.5 1238.0L182.9 1250.0L181.9 1272.0L178.7 1292.5L347.2 1292.5L344.0 1272.0L343.0 1252.0L344.0 1230.0L346.7 1212.0L351.0 1196.0L354.2 1188.0L357.5 1181.9L361.5 1176.5L365.5 1172.7L369.5 1170.4L375.5 1169.2L381.5 1170.4L385.5 1172.7L389.5 1176.5L393.5 1181.9L396.8 1188.0L400.0 1196.0L404.3 1212.0L407.0 1230.0L408.0 1252.0L407.0 1272.0L403.8 1292.5L421.5 1292.5L421.5 999.2L401.5 1002.9L381.5 1014.6L363.5 1028.9L345.5 1045.0L326.4 1064.0L308.2 1084.0L293.8 1102.0L282.9 1120.0L274.6 1138.0L267.5 1146.9L265.5 1148.7L257.5 1150.1L255.5 1149.6L253.5 1147.9L236.2 1120.0L226.8 1106.0L211.5 1088.4L197.1 1074.0L181.5 1060.4L138.3 1028.0L124.3 1016.0L116.0 1000.0L115.4 998.0L115.5 984.0L119.4 970.0L120.8 968.0L135.5 960.5L137.5 960.2L153.5 961.4L169.5 969.4L184.0 982.0L229.5 1032.8L244.7 1048.0L257.5 1057.3L263.5 1056.3L265.5 1055.5L275.5 1047.0L319.5 1003.0L365.5 951.7L373.5 939.0L98.5 939.0L98.5 1292.5Z" fill="#bcb8de" fill-rule="evenodd"/><path d="M117.5 1292.5L114.4 1272.0L113.4 1252.0L114.4 1230.0L117.5 1210.0L121.9 1194.0L125.1 1186.0L128.3 1180.0L132.6 1174.0L136.7 1170.0L143.4 1166.0L151.5 1164.8L157.5 1166.0L163.5 1169.5L168.2 1174.0L172.5 1180.0L175.7 1186.0L178.9 1194.0L183.7 1212.0L186.4 1230.0L187.1 1240.0L187.4 1252.0L186.6 1270.0L185.2 1282.0L183.3 1292.5L342.6 1292.5L339.5 1272.0L338.5 1250.0L338.8 1240.0L340.5 1222.0L344.5 1202.0L347.0 1194.0L350.2 1186.0L353.4 1180.0L357.7 1174.0L361.8 1170.0L367.5 1166.5L375.5 1164.7L383.5 1166.5L389.2 1170.0L393.3 1174.0L397.6 1180.0L400.8 1186.0L404.0 1194.0L408.8 1212.0L411.5 1230.0L412.2 1240.0L412.5 1252.0L411.5 1272.0L408.4 1292.5L421.5 1292.5L421.5 1003.3L403.5 1006.4L383.6 1018.0L365.5 1032.5L348.2 1048.0L329.5 1066.7L315.5 1082.0L297.3 1104.0L286.4 1122.0L278.2 1140.0L270.2 1150.0L267.8 1152.0L265.5 1153.0L257.5 1154.2L253.5 1153.2L250.1 1150.0L223.3 1108.0L207.5 1090.1L193.5 1076.1L179.6 1064.0L135.5 1030.9L121.5 1018.9L118.5 1014.0L111.7 1000.0L111.4 984.0L115.2 970.0L117.5 965.6L121.5 962.9L135.5 956.3L151.5 957.0L155.5 957.8L171.5 965.9L187.5 979.7L232.4 1030.0L246.3 1044.0L257.5 1052.5L261.5 1052.5L263.5 1051.9L272.8 1044.0L315.5 1001.3L363.4 948.0L368.8 939.0L98.5 939.0L98.5 1292.5Z" fill="#d0cee6" fill-rule="evenodd"/><path d="M113.9 1292.5L110.8 1272.0L109.9 1252.0L110.8 1230.0L113.8 1210.0L118.8 1192.0L122.1 1184.0L125.4 1178.0L129.7 1172.0L133.7 1168.0L136.0 1166.0L141.5 1162.9L147.5 1161.4L151.5 1161.2L159.5 1163.0L165.5 1166.5L171.2 1172.0L175.4 1178.0L178.7 1184.0L182.0 1192.0L187.0 1210.0L188.8 1220.0L190.7 1240.0L190.6 1264.0L188.8 1282.0L187.0 1292.5L338.9 1292.5L335.9 1272.0L335.0 1250.0L336.4 1226.0L338.5 1212.0L340.8 1202.0L346.3 1186.0L350.4 1178.0L354.7 1172.0L359.5 1167.3L365.5 1163.5L369.5 1162.1L375.5 1161.1L381.5 1162.1L385.5 1163.5L389.8 1166.0L394.4 1170.0L400.6 1178.0L407.1 1192.0L410.2 1202.0L412.5 1212.0L414.8 1228.0L415.8 1240.0L416.1 1252.0L415.1 1272.0L412.1 1292.5L421.5 1292.5L421.5 1006.8L405.5 1009.5L385.5 1021.0L367.5 1035.3L351.2 1050.0L331.1 1070.0L313.5 1089.4L300.2 1106.0L289.3 1124.0L281.5 1141.2L273.0 1152.0L271.0 1154.0L267.5 1156.0L257.5 1157.7L253.5 1156.9L251.5 1156.0L247.5 1152.4L220.5 1110.0L206.4 1094.0L192.5 1080.0L177.5 1066.8L133.5 1033.8L119.5 1021.8L116.6 1018.0L109.5 1003.8L108.1 1000.0L108.2 982.0L112.2 968.0L113.5 965.1L115.5 962.7L117.5 961.1L131.5 954.0L135.5 952.8L155.5 954.1L173.5 963.0L189.5 976.8L235.5 1028.3L249.5 1042.2L257.5 1048.2L259.5 1049.3L261.5 1048.9L269.9 1042.0L313.9 998.0L360.5 946.0L364.8 939.0L98.5 939.0L98.5 1292.5Z" fill="#d9d8ea" fill-rule="evenodd"/><path d="M110.7 1292.5L107.9 1274.0L106.8 1252.0L107.8 1230.0L110.7 1210.0L113.1 1200.0L116.3 1190.0L118.7 1184.0L123.0 1176.0L129.5 1167.8L133.5 1164.1L139.5 1160.5L143.5 1159.0L151.5 1158.2L157.5 1159.1L165.5 1162.8L171.5 1168.0L176.5 1174.0L181.1 1182.0L184.5 1190.0L188.3 1202.0L190.5 1212.0L192.8 1228.0L193.7 1240.0L194.0 1252.0L193.1 1272.0L190.1 1292.5L335.8 1292.5L334.3 1284.0L332.5 1268.0L332.1 1242.0L334.0 1220.0L338.1 1200.0L340.6 1192.0L344.8 1182.0L348.1 1176.0L352.4 1170.0L357.5 1164.9L363.5 1161.1L367.5 1159.3L375.5 1158.1L383.5 1159.3L387.5 1161.1L392.3 1164.0L396.7 1168.0L402.9 1176.0L407.1 1184.0L410.4 1192.0L414.3 1206.0L416.7 1218.0L418.9 1240.0L418.6 1266.0L417.0 1282.0L415.2 1292.5L421.5 1292.5L421.5 1009.5L405.5 1012.2L388.7 1022.0L370.8 1036.0L352.8 1052.0L325.5 1079.9L315.5 1091.1L301.9 1108.0L291.5 1125.3L284.0 1142.0L274.8 1154.0L271.5 1156.9L267.5 1158.7L257.5 1160.2L251.5 1158.9L247.5 1156.2L245.6 1154.0L238.8 1144.0L225.5 1122.1L217.5 1110.3L203.5 1094.7L190.8 1082.0L175.5 1068.5L131.5 1035.5L117.5 1023.5L114.7 1020.0L112.7 1016.0L106.7 1004.0L105.6 1000.0L105.6 982.0L110.1 966.0L113.5 961.0L119.5 957.1L133.5 950.5L137.5 950.2L155.5 951.4L159.5 953.0L175.5 961.2L191.5 975.1L237.5 1026.6L250.9 1040.0L259.5 1046.5L261.5 1045.7L268.2 1040.0L311.5 996.7L355.5 947.8L358.7 944.0L361.8 939.0L98.5 939.0L98.5 1292.5Z" fill="#e3e2ee" fill-rule="evenodd"/><path d="M107.9 1292.5L107.5 1288.0L106.3 1284.0L104.4 1266.0L103.9 1250.0L104.6 1234.0L106.1 1220.0L107.5 1214.2L108.2 1208.0L109.5 1204.2L110.1 1200.0L114.0 1188.0L119.8 1176.0L123.9 1170.0L127.5 1166.1L133.5 1160.6L135.4 1160.0L137.5 1158.4L141.5 1156.6L151.5 1155.4L159.5 1156.7L167.5 1160.7L175.3 1168.0L178.4 1172.0L181.1 1176.0L186.8 1188.0L190.7 1200.0L191.5 1204.9L192.6 1208.0L193.5 1215.0L194.8 1220.0L196.7 1240.0L196.7 1262.0L194.8 1282.0L193.5 1287.4L193.0 1292.5L333.2 1292.5L332.1 1288.0L330.0 1272.0L329.7 1238.0L330.2 1228.0L332.1 1214.0L336.4 1196.0L337.5 1194.0L338.3 1190.0L342.8 1180.0L346.0 1174.0L351.5 1166.9L357.5 1161.6L365.5 1157.0L375.5 1155.3L385.5 1157.0L391.5 1160.2L397.5 1164.9L400.6 1168.0L405.0 1174.0L409.2 1182.0L411.5 1188.1L412.7 1190.0L413.5 1194.0L414.6 1196.0L416.8 1204.0L418.5 1212.0L421.0 1230.0L421.5 1252.0L421.0 1272.0L418.9 1288.0L417.8 1292.5L421.5 1292.5L421.5 1011.8L407.1 1014.0L389.4 1024.0L371.4 1038.0L353.5 1054.0L335.5 1072.0L317.5 1091.9L307.5 1104.2L303.5 1109.6L293.5 1125.9L286.7 1142.0L279.2 1152.0L271.5 1159.6L267.5 1161.2L257.5 1162.4L251.5 1161.5L247.5 1159.3L244.1 1156.0L236.1 1144.0L225.6 1126.0L217.5 1113.9L207.5 1102.0L187.7 1082.0L171.5 1068.0L135.5 1041.4L127.5 1035.1L115.5 1024.5L112.1 1020.0L111.5 1017.9L110.1 1016.0L109.5 1013.9L104.1 1004.0L103.7 1002.0L103.3 984.0L104.1 978.0L108.4 964.0L111.6 960.0L115.5 956.5L117.4 956.0L119.5 954.5L121.4 954.0L123.5 952.5L125.4 952.0L131.5 948.6L137.5 948.1L155.5 949.0L159.5 950.4L175.5 958.5L189.5 970.4L200.9 982.0L239.5 1025.8L251.7 1038.0L259.5 1044.0L267.5 1038.0L309.5 996.0L345.5 956.0L357.5 942.1L359.2 939.0L98.5 939.0L98.5 1292.5Z" fill="#eaeaef" fill-rule="evenodd"/><path d="M105.8 1292.5L103.1 1274.0L102.0 1250.0L103.5 1224.6L105.5 1211.4L107.6 1202.0L113.5 1183.9L117.5 1175.8L121.5 1169.7L125.5 1164.9L131.5 1159.5L137.6 1156.0L143.5 1154.1L149.5 1153.3L157.5 1154.2L163.1 1156.0L170.0 1160.0L176.4 1166.0L181.5 1172.8L185.5 1180.0L189.5 1189.5L193.5 1203.1L195.5 1212.6L197.5 1226.2L198.5 1240.0L198.8 1252.0L197.9 1272.0L195.0 1292.5L330.9 1292.5L329.4 1284.0L327.5 1265.7L327.3 1240.0L329.4 1218.0L333.5 1198.7L339.5 1181.8L343.6 1174.0L347.5 1168.5L349.5 1165.9L355.9 1160.0L365.5 1155.0L375.5 1153.3L385.5 1155.0L395.1 1160.0L401.6 1166.0L407.4 1174.0L413.5 1186.7L417.5 1198.7L421.5 1217.7L421.5 1013.4L407.5 1015.8L389.5 1026.1L372.0 1040.0L355.5 1054.9L335.5 1074.8L318.1 1094.0L305.3 1110.0L295.5 1126.2L287.4 1144.0L277.5 1156.8L273.5 1160.2L269.5 1162.2L257.5 1164.2L253.5 1163.7L249.5 1162.3L245.9 1160.0L243.5 1157.8L236.8 1148.0L224.7 1128.0L215.3 1114.0L201.3 1098.0L187.5 1084.2L173.5 1071.9L129.5 1038.9L114.5 1026.0L111.4 1022.0L103.3 1006.0L101.9 1002.0L101.4 998.0L101.4 986.0L102.0 980.0L106.7 964.0L111.0 958.0L115.5 954.8L129.5 947.8L133.5 946.5L139.5 946.3L153.5 947.2L157.5 947.9L177.5 957.8L193.9 972.0L240.4 1024.0L253.5 1037.0L259.5 1041.6L261.5 1040.6L265.5 1037.2L308.7 994.0L355.3 942.0L357.2 939.0L98.5 939.0L98.5 1292.5ZM421.5 1284.7L420.5 1290.0L420.1 1292.5L421.5 1292.5Z" fill="#eeedec" fill-rule="evenodd"/><path d="M103.9 1292.5L101.5 1278.0L100.3 1250.0L101.5 1224.8L105.5 1202.0L111.5 1183.8L117.4 1172.0L121.5 1166.5L127.7 1160.0L133.5 1156.0L137.5 1153.9L143.5 1152.2L149.5 1151.6L156.4 1152.0L163.5 1154.0L170.3 1158.0L177.5 1164.3L183.4 1172.0L189.5 1184.1L193.5 1195.6L195.5 1203.2L197.5 1212.6L199.5 1226.1L200.5 1250.0L200.2 1262.0L199.5 1276.2L196.7 1292.5L329.1 1292.5L327.5 1284.6L325.5 1265.6L325.4 1240.0L327.5 1218.0L331.5 1198.6L337.5 1181.7L341.5 1173.8L345.4 1168.0L355.4 1158.0L362.7 1154.0L369.5 1152.0L375.5 1151.6L381.7 1152.0L388.3 1154.0L395.5 1157.9L397.9 1160.0L405.5 1167.9L411.5 1177.7L417.5 1191.9L421.5 1207.0L421.5 1014.9L417.8 1016.0L409.5 1016.9L405.5 1018.6L393.6 1026.0L391.5 1026.7L373.5 1040.9L355.5 1057.1L338.6 1074.0L320.2 1094.0L305.9 1112.0L302.2 1118.0L301.5 1120.0L296.2 1128.0L289.5 1144.1L285.5 1150.0L278.7 1158.0L273.9 1162.0L269.8 1164.0L259.7 1166.0L255.5 1166.0L249.0 1164.0L245.5 1162.1L241.5 1158.2L233.5 1146.2L222.8 1128.0L214.8 1116.0L200.9 1100.0L187.0 1086.0L171.5 1072.4L127.9 1040.0L113.5 1027.6L109.5 1022.3L107.5 1018.4L101.5 1006.3L99.6 1000.0L99.5 983.5L101.5 974.9L105.5 962.0L110.7 956.0L113.5 953.8L129.5 945.9L137.5 944.5L157.5 946.0L177.9 956.0L185.5 962.0L196.2 972.0L207.5 984.0L241.5 1022.6L253.5 1034.6L259.5 1039.6L265.5 1034.8L308.2 992.0L340.8 956.0L353.1 942.0L355.1 939.0L98.5 939.0L98.5 1292.5Z" fill="#ece6e3" fill-rule="evenodd"/><path d="M101.3 1292.5L99.5 1282.2L98.5 1270.8L98.5 1292.5ZM98.5 1231.6L99.5 1220.0L101.5 1208.0L105.5 1193.0L111.3 1178.0L115.5 1170.4L119.5 1165.0L126.3 1158.0L135.5 1152.0L141.3 1150.0L147.5 1149.1L151.5 1149.0L159.6 1150.0L165.2 1152.0L172.0 1156.0L179.5 1162.8L183.5 1167.8L187.4 1174.0L191.5 1182.5L197.3 1200.0L199.5 1209.5L201.5 1221.9L203.3 1250.0L203.0 1262.0L201.5 1280.0L199.6 1292.5L326.5 1292.5L323.5 1272.6L322.8 1252.0L323.5 1230.0L325.5 1214.5L329.5 1196.4L335.4 1180.0L339.6 1172.0L347.2 1162.0L353.8 1156.0L360.9 1152.0L366.6 1150.0L373.5 1149.0L377.5 1149.0L384.4 1150.0L390.1 1152.0L399.5 1157.8L407.5 1166.4L411.4 1172.0L415.5 1179.8L421.5 1196.4L421.5 1017.3L409.5 1019.3L405.5 1021.2L389.5 1030.9L375.5 1042.2L357.5 1058.3L337.9 1078.0L319.9 1098.0L308.6 1112.0L302.4 1122.0L297.0 1132.0L296.9 1134.0L297.5 1135.8L317.1 1114.0L334.8 1100.0L351.5 1088.3L385.5 1062.2L403.5 1045.9L405.5 1044.5L407.5 1044.4L409.7 1046.0L410.2 1048.0L409.5 1050.1L389.8 1068.0L355.9 1094.0L338.8 1106.0L319.5 1121.7L301.5 1142.2L281.7 1166.0L271.1 1182.0L263.0 1208.0L261.5 1210.7L259.5 1211.5L257.5 1211.0L256.4 1210.0L251.5 1195.9L240.7 1176.0L226.3 1158.0L201.5 1133.1L181.5 1109.8L179.5 1107.8L161.5 1096.3L132.6 1076.0L113.5 1058.7L112.8 1056.0L113.5 1054.4L115.5 1053.1L117.5 1053.2L118.8 1054.0L137.5 1070.7L165.5 1090.2L185.5 1103.4L206.7 1128.0L232.4 1154.0L247.5 1173.0L257.5 1191.6L259.5 1194.4L263.9 1180.0L273.0 1166.0L271.5 1165.6L269.5 1166.8L265.5 1166.9L259.5 1168.1L255.5 1168.0L249.5 1166.6L245.5 1164.8L243.5 1163.2L236.8 1156.0L236.2 1154.0L233.0 1150.0L218.8 1126.0L212.0 1116.0L205.0 1108.0L185.5 1087.8L171.5 1075.3L129.5 1043.8L111.5 1028.5L107.5 1023.0L99.5 1006.9L98.5 1003.8ZM98.5 978.5L103.5 961.7L107.4 956.0L112.5 952.0L128.5 944.0L133.5 942.7L137.5 942.3L158.0 944.0L163.0 946.0L178.7 954.0L181.6 956.0L197.5 969.9L242.0 1020.0L255.5 1033.6L259.5 1036.8L263.5 1033.7L307.1 990.0L352.6 939.0L98.5 939.0ZM295.6 1138.0L297.1 1136.0L295.5 1135.6Z" fill="#e6dcd6" fill-rule="evenodd"/><path d="M98.5 970.5L101.5 961.1L103.5 957.6L106.5 954.0L111.5 950.1L127.5 942.1L133.5 940.5L137.5 940.2L155.5 941.4L161.5 943.1L179.5 952.0L198.3 968.0L243.5 1018.5L259.5 1034.1L262.3 1032.0L304.3 990.0L350.0 939.0L98.5 939.0ZM319.5 1101.9L319.5 1102.3L320.0 1102.0ZM190.4 1098.0L211.5 1122.6L213.1 1122.0L211.5 1119.0L205.7 1112.0L199.5 1105.0L191.5 1097.2ZM212.8 1124.0L213.5 1124.7L214.0 1124.0L213.5 1122.3ZM214.8 1126.0L215.5 1126.7L215.8 1126.0L215.5 1125.5ZM98.5 1211.2L101.9 1196.0L107.6 1180.0L113.5 1168.9L118.6 1162.0L122.5 1158.0L129.5 1152.5L134.0 1150.0L139.5 1147.9L147.5 1146.4L151.5 1146.3L163.5 1148.6L170.4 1152.0L175.5 1155.4L181.5 1161.2L185.5 1166.3L189.2 1172.0L193.2 1180.0L199.5 1198.0L203.5 1218.0L205.6 1240.0L205.5 1264.0L203.6 1284.0L202.1 1292.5L323.8 1292.5L321.1 1274.0L320.1 1252.0L321.2 1228.0L323.4 1212.0L327.5 1194.3L333.5 1178.0L337.9 1170.0L345.5 1160.0L353.5 1153.2L359.5 1149.8L364.1 1148.0L375.5 1146.2L387.5 1148.2L391.9 1150.0L398.7 1154.0L407.4 1162.0L413.1 1170.0L415.4 1174.0L421.5 1187.9L421.5 1019.5L409.5 1021.5L393.5 1030.7L385.5 1036.8L375.5 1044.9L357.5 1061.2L340.7 1078.0L321.5 1099.3L321.0 1100.0L321.5 1101.3L330.8 1094.0L347.5 1082.3L379.5 1057.7L401.5 1038.4L405.5 1037.1L409.5 1037.5L413.5 1039.6L415.7 1042.0L417.3 1046.0L417.2 1050.0L415.6 1054.0L413.5 1056.3L393.9 1074.0L360.0 1100.0L343.5 1111.5L325.3 1126.0L307.5 1146.3L287.7 1170.0L277.2 1186.0L270.0 1210.0L268.2 1214.0L266.4 1216.0L263.5 1217.8L259.5 1218.7L255.5 1218.0L253.5 1217.0L250.4 1214.0L244.5 1198.0L236.0 1182.0L221.9 1164.0L196.2 1138.0L175.6 1114.0L157.5 1102.3L128.5 1082.0L107.5 1062.8L106.1 1060.0L105.5 1056.0L106.5 1052.0L107.7 1050.0L109.7 1048.0L113.5 1046.1L117.5 1045.8L119.5 1046.2L123.5 1048.5L141.5 1064.6L157.5 1076.0L189.5 1097.2L190.4 1096.0L183.5 1088.6L169.5 1076.4L125.5 1043.3L110.0 1030.0L105.6 1024.0L98.5 1009.6ZM260.6 1170.0L261.5 1170.3L261.7 1170.0L261.5 1169.9ZM257.6 1176.0L260.4 1172.0L259.5 1170.4L255.5 1170.7L255.2 1172.0ZM98.6 1292.0L98.5 1291.2L98.5 1292.5Z" fill="#dfd0c7" fill-rule="evenodd"/><path d="M98.5 961.8L103.1 954.0L107.5 949.8L113.5 946.3L128.9 939.0L98.5 939.0ZM156.2 939.0L163.5 941.2L181.5 950.3L199.9 966.0L245.5 1017.0L259.5 1031.0L302.7 988.0L346.6 939.0ZM357.5 1065.3L356.8 1066.0L357.5 1066.8L358.4 1066.0ZM355.5 1067.6L355.1 1068.0L355.5 1068.3L355.9 1068.0ZM98.5 1196.8L101.9 1186.0L105.1 1178.0L110.4 1168.0L116.2 1160.0L124.7 1152.0L135.5 1146.0L145.5 1143.6L153.5 1143.3L161.5 1144.8L165.5 1146.1L176.1 1152.0L182.7 1158.0L186.1 1162.0L190.4 1168.0L194.8 1176.0L198.9 1186.0L202.1 1196.0L204.5 1206.0L206.6 1218.0L208.7 1240.0L208.6 1264.0L207.8 1274.0L205.2 1292.5L320.7 1292.5L318.1 1274.0L317.0 1252.0L317.9 1230.0L319.6 1216.0L323.3 1198.0L327.0 1186.0L330.2 1178.0L334.3 1170.0L341.5 1159.8L347.5 1153.9L351.5 1150.8L357.5 1147.4L363.5 1145.0L375.5 1143.2L387.5 1145.0L393.5 1147.4L399.5 1150.8L407.8 1158.0L415.5 1168.0L421.5 1179.8L421.5 1055.8L418.3 1060.0L397.5 1078.8L363.5 1104.9L347.5 1116.1L329.9 1130.0L293.7 1172.0L283.0 1188.0L275.5 1212.5L273.5 1216.9L271.5 1219.5L268.4 1222.0L261.5 1224.8L260.4 1226.0L260.4 1250.0L259.5 1252.1L258.4 1250.0L258.4 1226.0L257.5 1225.0L250.2 1222.0L245.5 1217.5L243.5 1213.7L238.8 1200.0L231.3 1186.0L217.4 1168.0L191.5 1141.7L171.5 1118.5L155.2 1108.0L123.8 1086.0L105.5 1069.5L102.4 1066.0L100.4 1062.0L99.5 1058.0L99.7 1054.0L100.8 1050.0L103.2 1046.0L105.5 1043.7L109.5 1041.2L113.5 1040.0L115.3 1038.0L108.5 1032.0L105.5 1028.5L98.5 1015.3ZM421.5 1022.0L409.5 1024.3L393.5 1033.7L377.5 1046.5L358.5 1064.0L359.5 1065.2L373.5 1054.7L395.5 1035.3L397.5 1033.7L401.1 1032.0L407.5 1031.1L412.1 1032.0L417.5 1035.1L421.5 1040.0Z" fill="#d3bbae" fill-rule="evenodd"/><path d="M98.5 955.2L102.7 950.0L107.5 946.1L121.3 939.0L98.5 939.0ZM165.9 939.0L183.5 948.0L202.2 964.0L247.5 1014.7L259.5 1026.8L300.4 986.0L342.6 939.0ZM417.5 1028.0L421.5 1030.8L421.5 1025.1L416.0 1026.0ZM98.5 1042.5L103.2 1038.0L106.7 1036.0L106.2 1034.0L101.6 1028.0L98.5 1022.0ZM421.5 1065.1L401.5 1083.1L367.5 1109.2L349.5 1121.9L334.3 1134.0L299.5 1174.2L287.8 1192.0L281.2 1214.0L278.5 1220.0L275.3 1224.0L267.6 1230.0L267.6 1252.0L265.5 1256.6L263.5 1258.3L261.5 1259.1L259.5 1259.4L255.5 1258.5L253.5 1257.0L251.5 1254.0L251.0 1250.0L251.0 1230.0L249.5 1228.4L243.5 1224.2L240.1 1220.0L238.1 1216.0L233.5 1202.7L225.7 1188.0L213.1 1172.0L187.4 1146.0L167.5 1122.9L151.5 1112.6L121.5 1091.6L98.5 1070.6L98.5 1183.6L101.6 1176.0L105.8 1168.0L111.5 1159.6L119.5 1151.1L126.7 1146.0L135.5 1141.7L147.5 1139.3L153.5 1139.3L159.5 1140.3L165.5 1141.8L169.5 1143.5L177.4 1148.0L181.5 1151.3L187.5 1157.3L192.5 1164.0L199.2 1176.0L203.2 1186.0L206.2 1196.0L210.3 1216.0L212.7 1240.0L212.6 1264.0L211.6 1276.0L209.3 1292.5L316.6 1292.5L314.0 1274.0L313.0 1252.0L313.9 1230.0L315.6 1216.0L319.7 1196.0L323.5 1184.0L326.7 1176.0L330.9 1168.0L337.8 1158.0L347.5 1148.7L357.5 1143.0L363.5 1140.9L371.5 1139.4L381.5 1139.7L391.5 1142.1L403.5 1148.7L413.2 1158.0L419.0 1166.0L421.5 1170.6Z" fill="#c19d8a" fill-rule="evenodd"/><path d="M98.5 949.0L105.5 942.0L107.5 942.0L109.5 940.0L111.7 939.0L98.5 939.0ZM177.3 940.0L179.5 940.3L181.3 942.0L183.5 942.5L189.5 948.0L192.4 950.0L193.5 950.1L195.5 952.1L219.4 976.0L221.5 980.0L235.4 994.0L237.5 998.0L259.5 1020.3L261.5 1019.3L297.5 983.2L297.7 982.0L299.6 980.0L315.5 964.0L315.7 962.0L333.5 943.9L333.7 942.0L336.6 939.0L176.2 939.0ZM99.5 1168.0L99.7 1166.0L103.5 1162.0L103.6 1160.0L109.5 1154.0L109.9 1152.0L113.5 1148.8L115.5 1148.0L121.5 1142.1L123.5 1142.0L127.5 1138.3L129.8 1138.0L131.5 1136.5L135.8 1136.0L139.5 1134.1L161.5 1134.1L163.5 1136.0L167.6 1136.0L164.2 1132.0L163.5 1130.0L160.9 1128.0L159.5 1127.6L158.0 1126.0L155.5 1125.0L151.5 1121.7L149.5 1121.1L145.8 1118.0L143.5 1116.9L117.5 1098.3L98.5 1081.5L98.5 1169.1ZM421.5 1075.5L405.5 1089.8L387.5 1103.3L373.5 1114.7L359.5 1124.8L357.0 1126.0L353.5 1129.3L349.2 1132.0L343.5 1137.4L339.5 1139.8L337.3 1142.0L334.8 1146.0L323.5 1157.8L320.7 1162.0L311.4 1172.0L308.7 1176.0L303.5 1181.7L302.5 1184.0L295.3 1194.0L288.4 1218.0L286.5 1222.0L282.3 1228.0L275.1 1234.0L274.9 1252.0L274.2 1256.0L272.2 1260.0L270.4 1262.0L265.5 1265.4L261.5 1266.6L255.5 1266.2L251.5 1264.7L246.5 1260.0L244.4 1256.0L243.8 1252.0L243.6 1234.0L239.5 1231.1L234.5 1226.0L230.1 1218.0L229.5 1214.7L228.7 1214.0L227.5 1208.7L226.7 1208.0L225.5 1204.0L220.6 1196.0L219.5 1193.2L218.3 1192.0L217.5 1189.9L210.0 1182.0L209.5 1179.9L205.5 1175.9L205.5 1178.0L207.4 1180.0L207.5 1182.1L209.3 1184.0L209.5 1188.1L211.1 1190.0L211.5 1196.0L213.3 1198.0L213.5 1204.1L215.1 1206.0L215.5 1216.0L217.1 1218.0L217.4 1220.0L217.5 1236.1L219.1 1240.0L219.2 1262.0L218.9 1264.0L217.5 1266.0L217.4 1282.0L217.2 1284.0L215.5 1286.0L215.4 1292.5L310.9 1292.5L309.6 1290.0L309.5 1279.7L307.7 1276.0L307.8 1226.0L309.5 1224.0L309.7 1212.0L311.5 1210.0L311.6 1202.0L313.5 1200.0L313.6 1194.0L315.5 1192.0L315.6 1188.0L317.5 1186.0L317.6 1182.0L319.5 1180.0L319.8 1176.0L321.5 1174.1L321.6 1172.0L323.5 1170.1L323.7 1168.0L325.5 1166.1L326.1 1164.0L331.5 1158.0L331.6 1156.0L343.5 1144.1L345.5 1144.0L349.5 1140.1L351.5 1140.0L353.5 1138.1L355.5 1138.0L357.5 1136.1L361.5 1136.0L363.5 1134.2L385.5 1134.1L387.5 1134.2L389.5 1136.0L393.5 1136.1L395.5 1138.0L397.5 1138.1L399.5 1140.0L401.5 1140.1L405.5 1144.0L407.5 1144.1L419.4 1156.0L419.5 1158.0L421.5 1160.0Z" fill="#ae7c63" fill-rule="evenodd"/><use href="#U" x="0.0" y="879.2" fill="#8a08ac" fill-opacity="0.58" stroke="#000" stroke-opacity="0.68" stroke-width="1.35"/><use href="#L" x="0.0" y="879.2" fill="#f29a2e" fill-opacity="0.58" stroke="#000" stroke-opacity="0.68" stroke-width="1.35"/><g fill="#f29a2e" fill-opacity="0.6" stroke="#ff0000" stroke-opacity="0.55" stroke-width="2.4" transform="translate(0.0,879.2)"><circle cx="259.3" cy="275.9" r="3.6"/></g></g><rect x="145.40" y="1254.00" width="228.5" height="38" fill="#fff" fill-opacity="0.8" stroke="#000" stroke-opacity="0.88" stroke-width="3"/><text x="155.75" y="1279.90" font-size="26.80" font-weight="bold" font-style="italic" textLength="12.05" lengthAdjust="spacingAndGlyphs" fill="#000">s</text><text x="177.43" y="1279.90" font-size="26.80" font-weight="bold" textLength="25.86" lengthAdjust="spacingAndGlyphs" fill="#000">=</text><text x="211.83" y="1279.90" font-size="26.80" font-weight="bold" textLength="56.17" lengthAdjust="spacingAndGlyphs" fill="#000">1.77</text><text x="276.77" y="1279.90" font-size="26.80" font-weight="bold" textLength="23.70" lengthAdjust="spacingAndGlyphs" fill="#000">±</text><text x="308.78" y="1279.90" font-size="26.80" font-weight="bold" textLength="57.63" lengthAdjust="spacingAndGlyphs" fill="#000">0.02</text><rect x="101.50" y="942.00" width="317.00" height="347.50" fill="none" stroke="#000" stroke-width="2.9" stroke-linejoin="miter" stroke-linecap="square"/><line x1="88.10" y1="1281.36" x2="101.50" y2="1281.36" stroke="#000" stroke-width="2.9"/><line x1="88.10" y1="1194.90" x2="101.50" y2="1194.90" stroke="#000" stroke-width="2.9"/><line x1="88.10" y1="1108.44" x2="101.50" y2="1108.44" stroke="#000" stroke-width="2.9"/><line x1="88.10" y1="1021.98" x2="101.50" y2="1021.98" stroke="#000" stroke-width="2.9"/><line x1="172.65" y1="1289.50" x2="172.65" y2="1302.10" stroke="#000" stroke-width="2.9"/><line x1="259.30" y1="1289.50" x2="259.30" y2="1302.10" stroke="#000" stroke-width="2.9"/><line x1="345.95" y1="1289.50" x2="345.95" y2="1302.10" stroke="#000" stroke-width="2.9"/><text x="59.45" y="1031.48" font-size="26.80" textLength="15.41" lengthAdjust="spacingAndGlyphs" fill="#000">4</text><text x="60.69" y="1117.94" font-size="26.80" textLength="15.41" lengthAdjust="spacingAndGlyphs" fill="#000">2</text><text x="60.22" y="1204.40" font-size="26.80" textLength="15.41" lengthAdjust="spacingAndGlyphs" fill="#000">0</text><text x="60.69" y="1290.86" font-size="26.80" textLength="15.41" lengthAdjust="spacingAndGlyphs" fill="#000">2</text><rect x="37.60" y="1282.56" width="18.4" height="2.0" fill="#000"/><rect x="148.10" y="1326.40" width="18.6" height="2.0" fill="#000"/><text x="170.30" y="1335.00" font-size="26.80" textLength="31.77" lengthAdjust="spacingAndGlyphs" fill="#000">10</text><text x="251.98" y="1335.00" font-size="26.80" textLength="16.55" lengthAdjust="spacingAndGlyphs" fill="#000">0</text><text x="330.80" y="1335.00" font-size="26.80" textLength="31.77" lengthAdjust="spacingAndGlyphs" fill="#000">10</text><text x="251.65" y="1375.70" font-size="28.00" textLength="17.40" lengthAdjust="spacingAndGlyphs" fill="#000">x</text><text transform="translate(14.20,1115.70) rotate(-90)" x="-8.64" y="0" font-size="28" textLength="17.11" lengthAdjust="spacingAndGlyphs">y</text><path d="M445.30 957.40L453.30 940.70L461.30 957.40Z" fill="#756fc0"/><rect x="445.30" y="956.90" width="16.00" height="23.03" fill="#837fc6"/><rect x="445.30" y="979.53" width="16.00" height="23.03" fill="#a09bd0"/><rect x="445.30" y="1002.16" width="16.00" height="23.03" fill="#bcb8de"/><rect x="445.30" y="1024.79" width="16.00" height="23.03" fill="#d0cee6"/><rect x="445.30" y="1047.41" width="16.00" height="23.03" fill="#d9d8ea"/><rect x="445.30" y="1070.04" width="16.00" height="23.03" fill="#e3e2ee"/><rect x="445.30" y="1092.67" width="16.00" height="23.03" fill="#eaeaef"/><rect x="445.30" y="1115.30" width="16.00" height="23.03" fill="#eeedec"/><rect x="445.30" y="1137.93" width="16.00" height="23.03" fill="#ece6e3"/><rect x="445.30" y="1160.56" width="16.00" height="23.03" fill="#e6dcd6"/><rect x="445.30" y="1183.19" width="16.00" height="23.03" fill="#dfd0c7"/><rect x="445.30" y="1205.81" width="16.00" height="23.03" fill="#d3bbae"/><rect x="445.30" y="1228.44" width="16.00" height="23.03" fill="#c19d8a"/><rect x="445.30" y="1251.07" width="16.00" height="23.03" fill="#ae7c63"/><path d="M445.30 1273.20L453.30 1290.20L461.30 1273.20Z" fill="#a06a50"/><path d="M445.30 956.90L453.30 940.70L461.30 956.90L461.30 1273.70L453.30 1290.20L445.30 1273.70Z" fill="none" stroke="#000" stroke-width="2.9" stroke-miterlimit="10"/><line x1="461.30" y1="979.53" x2="474.20" y2="979.53" stroke="#000" stroke-width="2.9"/><text x="485.90" y="989.03" font-size="26.80" textLength="57.69" lengthAdjust="spacingAndGlyphs" fill="#000">1.06</text><line x1="461.30" y1="1047.41" x2="474.20" y2="1047.41" stroke="#000" stroke-width="2.9"/><text x="487.42" y="1056.91" font-size="26.80" textLength="56.15" lengthAdjust="spacingAndGlyphs" fill="#000">0.27</text><line x1="461.30" y1="1115.30" x2="474.20" y2="1115.30" stroke="#000" stroke-width="2.9"/><text x="487.41" y="1124.80" font-size="26.80" textLength="56.48" lengthAdjust="spacingAndGlyphs" fill="#000">0.00</text><line x1="461.30" y1="1183.19" x2="474.20" y2="1183.19" stroke="#000" stroke-width="2.9"/><rect x="487.90" y="1185.09" width="8.6" height="1.7" fill="#000"/><text x="498.62" y="1192.69" font-size="26.80" textLength="56.15" lengthAdjust="spacingAndGlyphs" fill="#000">0.27</text><line x1="461.30" y1="1251.07" x2="474.20" y2="1251.07" stroke="#000" stroke-width="2.9"/><rect x="487.90" y="1252.97" width="8.6" height="1.7" fill="#000"/><text x="497.10" y="1260.57" font-size="26.80" textLength="57.69" lengthAdjust="spacingAndGlyphs" fill="#000">1.06</text><text x="7.38" y="906.80" font-size="40.00" font-weight="bold" textLength="52.24" lengthAdjust="spacingAndGlyphs" fill="#000">(g)</text><text x="120.89" y="920.00" font-size="47.50" textLength="278.56" lengthAdjust="spacingAndGlyphs" fill="#000">Kernel EDMD</text><clipPath id="ch"><rect x="687.50" y="942.00" width="317.00" height="347.50"/></clipPath><g clip-path="url(#ch)"><rect x="685.5" y="940.0" width="321.0" height="351.5" fill="#837fc6"/><path d="M684.5 939.0L684.5 1292.5L1007.5 1292.5L1007.5 939.0ZM860.1 1058.0L865.5 1058.4L869.5 1059.4L873.5 1061.5L876.0 1064.0L877.8 1068.0L878.3 1072.0L878.0 1078.0L876.8 1084.0L873.8 1094.0L869.2 1106.0L865.5 1114.0L860.7 1122.0L855.5 1127.8L851.5 1130.4L845.6 1132.0L841.5 1131.7L835.5 1128.9L831.5 1125.2L827.5 1119.7L823.4 1112.0L818.7 1100.0L813.7 1084.0L811.7 1074.0L811.8 1068.0L813.5 1064.0L815.9 1062.0L819.5 1060.7L825.5 1059.8Z" fill="#a09bd0" fill-rule="evenodd"/><path d="M684.5 939.0L684.5 1292.5L1007.5 1292.5L1007.5 939.0ZM783.5 1032.5L787.5 1032.8L791.5 1033.9L809.5 1041.1L819.5 1044.4L833.5 1047.5L845.5 1048.0L869.5 1045.4L883.5 1044.6L891.5 1045.1L894.2 1046.0L895.5 1047.1L896.5 1050.0L896.4 1052.0L894.4 1060.0L888.6 1076.0L880.3 1096.0L873.2 1112.0L868.0 1122.0L862.5 1130.0L857.5 1134.8L853.5 1137.2L849.5 1138.7L845.5 1139.3L841.5 1139.1L837.5 1138.0L833.5 1135.9L829.5 1132.6L825.5 1127.9L818.5 1116.0L801.5 1079.8L781.3 1044.0L779.9 1040.0L779.6 1036.0L780.5 1034.0Z" fill="#bcb8de" fill-rule="evenodd"/><path d="M684.5 939.0L684.5 1292.5L1007.5 1292.5L1007.5 939.0ZM753.5 997.8L761.5 999.0L773.5 1003.9L785.5 1010.7L809.2 1026.0L819.5 1031.4L829.5 1035.1L839.5 1037.0L847.5 1037.1L857.5 1035.8L869.5 1033.2L879.5 1029.9L890.4 1024.0L913.5 1006.8L921.5 1002.5L929.5 999.7L937.5 998.8L943.5 1000.3L945.9 1002.0L947.5 1004.0L949.1 1008.0L949.3 1012.0L948.2 1018.0L945.9 1024.0L942.5 1030.0L938.1 1036.0L928.7 1046.0L909.5 1062.1L903.5 1068.5L899.5 1073.9L889.5 1090.6L872.7 1124.0L866.0 1134.0L861.5 1138.6L855.5 1142.4L849.5 1144.4L843.5 1144.9L837.5 1143.9L832.9 1142.0L827.5 1138.1L823.5 1133.8L817.1 1124.0L803.5 1098.0L795.5 1084.9L785.5 1071.4L762.1 1044.0L751.1 1028.0L745.0 1016.0L743.5 1010.0L743.4 1006.0L744.7 1002.0L746.4 1000.0L749.5 998.3Z" fill="#d0cee6" fill-rule="evenodd"/><path d="M684.5 939.0L684.5 1292.5L1007.5 1292.5L1007.5 939.0ZM739.5 973.6L743.5 973.6L749.5 974.6L761.5 979.2L777.5 988.6L807.2 1010.0L816.5 1016.0L829.4 1022.0L839.5 1024.4L847.5 1024.7L855.5 1023.8L863.5 1021.9L873.5 1018.3L884.3 1012.0L903.5 997.0L915.5 988.9L929.5 981.9L935.5 979.7L941.5 978.4L947.5 978.0L953.5 978.8L957.5 980.4L962.6 984.0L965.9 988.0L968.7 994.0L969.8 1000.0L969.6 1006.0L968.4 1012.0L965.2 1020.0L960.4 1028.0L954.0 1036.0L946.3 1044.0L937.3 1052.0L911.5 1072.0L901.5 1082.7L891.5 1097.5L874.3 1130.0L867.5 1139.1L861.5 1144.3L855.5 1147.3L847.5 1149.0L839.5 1148.8L833.5 1147.3L829.5 1145.3L825.5 1142.4L821.5 1138.3L814.5 1128.0L799.5 1101.5L789.5 1087.2L779.5 1075.8L738.3 1034.0L729.9 1024.0L724.6 1016.0L720.9 1008.0L719.4 1002.0L719.0 994.0L720.4 988.0L723.5 982.1L727.5 978.0L733.5 974.8Z" fill="#d9d8ea" fill-rule="evenodd"/><path d="M684.5 939.0L684.5 1292.5L1007.5 1292.5L1007.5 939.0ZM735.5 949.7L741.5 949.9L749.5 951.4L755.5 953.4L763.5 957.1L779.5 967.3L811.4 992.0L820.5 998.0L827.5 1001.4L833.5 1003.5L839.5 1004.9L845.5 1005.4L851.5 1005.1L858.0 1004.0L864.7 1002.0L871.5 998.9L879.5 993.8L897.5 979.8L909.5 971.2L919.5 965.0L931.5 959.0L937.5 956.8L945.5 955.0L953.5 954.6L959.5 955.4L967.5 958.1L973.5 961.5L979.5 966.8L984.9 974.0L988.7 982.0L990.7 990.0L991.2 1000.0L990.1 1008.0L988.3 1014.0L984.4 1022.0L980.2 1028.0L974.7 1034.0L962.4 1044.0L917.5 1075.4L911.5 1080.2L905.5 1086.0L899.5 1093.1L893.5 1102.0L876.1 1134.0L871.7 1140.0L867.9 1144.0L861.5 1148.4L853.5 1151.3L843.5 1152.2L835.5 1151.4L831.5 1150.2L827.0 1148.0L823.5 1145.5L819.5 1141.4L812.8 1132.0L801.5 1112.3L795.5 1103.0L789.5 1095.0L781.5 1085.9L769.5 1074.5L749.5 1057.5L715.1 1032.0L707.5 1024.0L701.1 1014.0L697.6 1004.0L696.6 998.0L696.3 992.0L696.9 986.0L698.2 980.0L702.5 970.0L705.5 965.4L709.5 960.9L717.5 954.8L725.5 951.4Z" fill="#e3e2ee" fill-rule="evenodd"/><path d="M711.5 1054.5L705.8 1058.0L702.7 1062.0L700.2 1068.0L699.1 1074.0L699.1 1082.0L700.4 1090.0L703.1 1098.0L707.2 1106.0L716.2 1118.0L747.5 1149.6L779.5 1185.6L787.5 1195.6L791.5 1202.1L795.5 1210.4L804.6 1234.0L810.7 1248.0L814.9 1256.0L820.3 1264.0L825.5 1269.7L831.5 1274.4L837.5 1277.2L843.5 1278.4L851.5 1277.6L857.5 1275.2L865.5 1269.2L871.5 1262.2L876.8 1254.0L880.8 1246.0L886.7 1232.0L897.5 1202.3L901.5 1194.3L905.5 1187.7L915.4 1174.0L924.0 1164.0L972.7 1116.0L979.9 1108.0L984.1 1102.0L988.4 1094.0L991.2 1086.0L992.7 1078.0L992.6 1070.0L991.3 1064.0L987.9 1058.0L983.5 1054.6L977.5 1052.9L971.5 1053.0L963.5 1054.9L953.5 1059.1L919.5 1079.3L911.5 1085.3L905.5 1091.0L899.5 1098.1L893.5 1107.1L877.8 1136.0L873.5 1141.9L869.5 1146.0L863.6 1150.0L857.5 1152.4L849.5 1153.9L839.5 1153.9L833.5 1153.1L827.5 1151.0L823.5 1148.6L819.5 1145.1L813.9 1138.0L799.5 1114.0L789.5 1099.9L777.5 1087.2L759.5 1072.1L745.5 1062.2L733.5 1056.0L727.5 1054.1L721.5 1053.2L715.5 1053.4Z" fill="#eaeaef" fill-rule="evenodd"/><path d="M717.5 1060.7L713.3 1064.0L710.5 1068.0L708.9 1072.0L707.8 1078.0L707.8 1084.0L708.8 1090.0L710.8 1096.0L714.7 1104.0L723.5 1115.7L749.5 1142.8L784.1 1182.0L791.5 1191.5L797.5 1202.4L812.1 1240.0L817.2 1250.0L822.6 1258.0L827.5 1263.5L831.5 1266.8L837.5 1269.9L843.5 1271.3L847.5 1271.3L851.5 1270.4L857.5 1267.7L863.5 1263.0L869.4 1256.0L874.5 1248.0L878.5 1240.0L884.1 1226.0L893.5 1198.5L897.5 1190.1L901.5 1183.4L909.5 1172.0L919.5 1160.1L971.9 1106.0L976.3 1100.0L980.5 1092.0L982.5 1086.0L983.5 1080.0L983.4 1074.0L981.9 1068.0L979.4 1064.0L977.4 1062.0L973.8 1060.0L967.5 1059.0L961.5 1059.7L955.5 1061.6L947.5 1065.2L919.5 1081.2L911.5 1087.1L905.5 1092.7L899.5 1099.9L895.3 1106.0L877.6 1138.0L873.5 1143.4L869.5 1147.2L863.5 1151.0L857.5 1153.2L849.5 1154.5L839.5 1154.6L833.5 1153.8L827.5 1151.9L823.5 1149.7L819.1 1146.0L812.8 1138.0L797.5 1112.6L789.5 1101.7L777.5 1089.0L761.5 1075.8L747.5 1066.1L741.5 1062.8L735.5 1060.4L729.5 1059.0L725.5 1058.7L721.5 1059.2Z" fill="#eeedec" fill-rule="evenodd"/><path d="M725.5 1064.3L721.5 1066.3L717.9 1070.0L715.8 1074.0L714.8 1078.0L714.4 1084.0L715.3 1090.0L717.2 1096.0L720.2 1102.0L724.1 1108.0L729.0 1114.0L749.5 1135.9L787.5 1179.4L793.5 1187.1L799.6 1198.0L810.5 1228.0L814.8 1238.0L818.9 1246.0L823.5 1253.0L827.8 1258.0L833.5 1262.7L837.5 1264.8L843.5 1266.3L849.5 1265.9L855.5 1263.6L861.5 1259.2L867.8 1252.0L872.8 1244.0L876.7 1236.0L882.2 1222.0L891.4 1194.0L895.5 1185.4L899.5 1178.7L905.6 1170.0L913.6 1160.0L938.8 1134.0L966.0 1104.0L970.3 1098.0L973.5 1092.0L975.0 1088.0L976.2 1082.0L976.1 1076.0L974.9 1072.0L973.5 1069.6L969.5 1065.9L963.5 1064.3L957.5 1064.8L951.5 1066.6L943.5 1070.1L929.5 1077.4L915.5 1085.8L909.5 1090.6L903.5 1096.7L897.5 1104.6L893.5 1111.0L878.9 1138.0L875.5 1142.6L871.5 1146.8L865.5 1151.1L859.5 1153.4L849.5 1155.2L839.5 1155.3L833.5 1154.6L827.5 1152.8L822.3 1150.0L817.8 1146.0L811.7 1138.0L799.5 1117.5L791.5 1106.0L781.5 1094.7L769.5 1084.2L755.5 1073.9L743.5 1066.9L737.5 1064.6L733.5 1063.8L729.5 1063.6Z" fill="#ece6e3" fill-rule="evenodd"/><path d="M739.5 1078.1L735.1 1080.0L733.3 1082.0L731.9 1086.0L732.2 1092.0L735.5 1100.3L740.7 1108.0L766.1 1140.0L777.7 1154.0L793.8 1172.0L799.5 1179.6L803.0 1186.0L805.5 1192.2L812.9 1216.0L816.5 1226.0L821.2 1236.0L825.5 1243.1L829.5 1248.0L833.5 1251.7L839.5 1255.0L843.5 1255.9L849.5 1255.5L855.5 1252.8L861.1 1248.0L865.8 1242.0L870.5 1234.0L874.8 1224.0L878.1 1214.0L885.5 1187.1L888.3 1180.0L892.4 1172.0L897.5 1164.0L903.7 1156.0L926.8 1132.0L938.2 1118.0L951.3 1098.0L953.9 1092.0L954.5 1088.0L953.5 1084.0L951.5 1082.2L949.5 1081.5L945.5 1081.3L939.5 1082.2L931.5 1084.6L923.5 1087.8L917.5 1090.9L909.5 1096.7L901.5 1105.3L895.5 1114.4L882.1 1140.0L877.6 1146.0L873.5 1149.9L867.5 1153.6L859.5 1156.0L849.5 1157.2L837.5 1157.2L831.5 1156.6L825.5 1155.1L821.5 1153.3L817.1 1150.0L810.6 1142.0L797.5 1120.5L791.5 1111.9L783.5 1102.8L775.5 1095.7L765.5 1088.5L753.5 1081.5L745.5 1078.5Z" fill="#e6dcd6" fill-rule="evenodd"/><path d="M910.0 1114.0L905.5 1119.9L904.8 1122.0L904.6 1124.0L905.5 1125.8L907.5 1125.4L909.5 1124.3L912.0 1122.0L914.9 1118.0L916.0 1114.0L915.5 1112.7L913.5 1112.0ZM773.5 1118.6L774.2 1122.0L776.9 1128.0L785.3 1140.0L789.5 1144.7L795.5 1150.0L799.5 1152.4L801.5 1152.9L802.4 1152.0L802.3 1150.0L799.6 1142.0L795.5 1133.9L789.5 1125.0L785.5 1120.6L779.5 1116.1L775.5 1115.3L774.3 1116.0ZM808.5 1162.0L816.9 1206.0L820.6 1218.0L826.1 1230.0L831.9 1238.0L835.5 1241.3L839.5 1243.7L843.5 1244.8L847.5 1244.7L853.5 1242.4L858.7 1238.0L863.5 1231.7L867.5 1224.0L871.2 1214.0L874.6 1200.0L877.9 1178.0L878.3 1168.0L877.2 1164.0L875.0 1162.0L869.5 1160.9L825.5 1161.1L811.5 1159.9L809.5 1160.1Z" fill="#dfd0c7" fill-rule="evenodd"/><path d="M839.5 1166.2L833.5 1167.5L829.5 1169.2L825.8 1172.0L824.3 1174.0L822.6 1178.0L821.8 1182.0L821.8 1194.0L823.0 1202.0L825.0 1210.0L827.1 1216.0L830.1 1222.0L833.5 1227.0L837.5 1230.9L841.5 1233.1L845.5 1233.7L849.5 1232.9L851.5 1232.0L855.5 1228.8L859.5 1223.7L862.5 1218.0L865.4 1210.0L867.3 1202.0L868.4 1192.0L868.4 1184.0L866.7 1176.0L864.4 1172.0L861.5 1169.5L857.5 1167.5L851.5 1166.2L845.5 1165.8Z" fill="#d3bbae" fill-rule="evenodd"/><path d="M841.5 1174.1L837.5 1175.7L835.5 1177.1L831.8 1182.0L830.0 1188.0L829.8 1196.0L831.6 1206.0L835.5 1214.7L839.5 1219.2L841.5 1220.5L845.5 1221.4L849.5 1220.3L851.5 1218.9L854.1 1216.0L856.5 1212.0L859.8 1202.0L860.5 1196.0L860.4 1190.0L858.4 1182.0L855.5 1177.7L853.4 1176.0L849.5 1174.3L845.5 1173.7Z" fill="#c19d8a" fill-rule="evenodd"/><path d="M843.5 1194.0L843.5 1198.1L845.5 1199.4L846.6 1198.0L847.1 1196.0L846.5 1194.0L845.5 1192.9Z" fill="#ae7c63" fill-rule="evenodd"/><use href="#U" x="586.0" y="879.2" fill="#8a08ac" fill-opacity="0.58" stroke="#000" stroke-opacity="0.68" stroke-width="1.35"/><use href="#L" x="586.0" y="879.2" fill="#f29a2e" fill-opacity="0.58" stroke="#000" stroke-opacity="0.68" stroke-width="1.35"/></g><rect x="731.40" y="1254.00" width="228.5" height="38" fill="#fff" fill-opacity="0.8" stroke="#000" stroke-opacity="0.88" stroke-width="3"/><text x="741.75" y="1279.90" font-size="26.80" font-weight="bold" font-style="italic" textLength="12.05" lengthAdjust="spacingAndGlyphs" fill="#000">s</text><text x="763.43" y="1279.90" font-size="26.80" font-weight="bold" textLength="25.86" lengthAdjust="spacingAndGlyphs" fill="#000">=</text><text x="797.82" y="1279.90" font-size="26.80" font-weight="bold" textLength="56.51" lengthAdjust="spacingAndGlyphs" fill="#000">1.59</text><text x="862.77" y="1279.90" font-size="26.80" font-weight="bold" textLength="23.70" lengthAdjust="spacingAndGlyphs" fill="#000">±</text><text x="894.78" y="1279.90" font-size="26.80" font-weight="bold" textLength="57.63" lengthAdjust="spacingAndGlyphs" fill="#000">0.02</text><rect x="687.50" y="942.00" width="317.00" height="347.50" fill="none" stroke="#000" stroke-width="2.9" stroke-linejoin="miter" stroke-linecap="square"/><line x1="674.10" y1="1281.36" x2="687.50" y2="1281.36" stroke="#000" stroke-width="2.9"/><line x1="674.10" y1="1194.90" x2="687.50" y2="1194.90" stroke="#000" stroke-width="2.9"/><line x1="674.10" y1="1108.44" x2="687.50" y2="1108.44" stroke="#000" stroke-width="2.9"/><line x1="674.10" y1="1021.98" x2="687.50" y2="1021.98" stroke="#000" stroke-width="2.9"/><line x1="758.65" y1="1289.50" x2="758.65" y2="1302.10" stroke="#000" stroke-width="2.9"/><line x1="845.30" y1="1289.50" x2="845.30" y2="1302.10" stroke="#000" stroke-width="2.9"/><line x1="931.95" y1="1289.50" x2="931.95" y2="1302.10" stroke="#000" stroke-width="2.9"/><text x="645.45" y="1031.48" font-size="26.80" textLength="15.41" lengthAdjust="spacingAndGlyphs" fill="#000">4</text><text x="646.69" y="1117.94" font-size="26.80" textLength="15.41" lengthAdjust="spacingAndGlyphs" fill="#000">2</text><text x="646.22" y="1204.40" font-size="26.80" textLength="15.41" lengthAdjust="spacingAndGlyphs" fill="#000">0</text><text x="646.69" y="1290.86" font-size="26.80" textLength="15.41" lengthAdjust="spacingAndGlyphs" fill="#000">2</text><rect x="623.60" y="1282.56" width="18.4" height="2.0" fill="#000"/><rect x="734.10" y="1326.40" width="18.6" height="2.0" fill="#000"/><text x="756.30" y="1335.00" font-size="26.80" textLength="31.77" lengthAdjust="spacingAndGlyphs" fill="#000">10</text><text x="837.98" y="1335.00" font-size="26.80" textLength="16.55" lengthAdjust="spacingAndGlyphs" fill="#000">0</text><text x="916.80" y="1335.00" font-size="26.80" textLength="31.77" lengthAdjust="spacingAndGlyphs" fill="#000">10</text><text x="837.65" y="1375.70" font-size="28.00" textLength="17.40" lengthAdjust="spacingAndGlyphs" fill="#000">x</text><text transform="translate(600.20,1115.70) rotate(-90)" x="-8.64" y="0" font-size="28" textLength="17.11" lengthAdjust="spacingAndGlyphs">y</text><path d="M1031.30 957.40L1039.30 940.70L1047.30 957.40Z" fill="#756fc0"/><rect x="1031.30" y="956.90" width="16.00" height="23.03" fill="#837fc6"/><rect x="1031.30" y="979.53" width="16.00" height="23.03" fill="#a09bd0"/><rect x="1031.30" y="1002.16" width="16.00" height="23.03" fill="#bcb8de"/><rect x="1031.30" y="1024.79" width="16.00" height="23.03" fill="#d0cee6"/><rect x="1031.30" y="1047.41" width="16.00" height="23.03" fill="#d9d8ea"/><rect x="1031.30" y="1070.04" width="16.00" height="23.03" fill="#e3e2ee"/><rect x="1031.30" y="1092.67" width="16.00" height="23.03" fill="#eaeaef"/><rect x="1031.30" y="1115.30" width="16.00" height="23.03" fill="#eeedec"/><rect x="1031.30" y="1137.93" width="16.00" height="23.03" fill="#ece6e3"/><rect x="1031.30" y="1160.56" width="16.00" height="23.03" fill="#e6dcd6"/><rect x="1031.30" y="1183.19" width="16.00" height="23.03" fill="#dfd0c7"/><rect x="1031.30" y="1205.81" width="16.00" height="23.03" fill="#d3bbae"/><rect x="1031.30" y="1228.44" width="16.00" height="23.03" fill="#c19d8a"/><rect x="1031.30" y="1251.07" width="16.00" height="23.03" fill="#ae7c63"/><path d="M1031.30 1273.20L1039.30 1290.20L1047.30 1273.20Z" fill="#a06a50"/><path d="M1031.30 956.90L1039.30 940.70L1047.30 956.90L1047.30 1273.70L1039.30 1290.20L1031.30 1273.70Z" fill="none" stroke="#000" stroke-width="2.9" stroke-miterlimit="10"/><line x1="1047.30" y1="979.53" x2="1060.20" y2="979.53" stroke="#000" stroke-width="2.9"/><text x="1071.90" y="989.03" font-size="26.80" textLength="57.69" lengthAdjust="spacingAndGlyphs" fill="#000">1.16</text><line x1="1047.30" y1="1047.41" x2="1060.20" y2="1047.41" stroke="#000" stroke-width="2.9"/><text x="1073.41" y="1056.91" font-size="26.80" textLength="56.48" lengthAdjust="spacingAndGlyphs" fill="#000">0.29</text><line x1="1047.30" y1="1115.30" x2="1060.20" y2="1115.30" stroke="#000" stroke-width="2.9"/><text x="1073.41" y="1124.80" font-size="26.80" textLength="56.48" lengthAdjust="spacingAndGlyphs" fill="#000">0.00</text><line x1="1047.30" y1="1183.19" x2="1060.20" y2="1183.19" stroke="#000" stroke-width="2.9"/><rect x="1073.90" y="1185.09" width="8.6" height="1.7" fill="#000"/><text x="1084.61" y="1192.69" font-size="26.80" textLength="56.48" lengthAdjust="spacingAndGlyphs" fill="#000">0.29</text><line x1="1047.30" y1="1251.07" x2="1060.20" y2="1251.07" stroke="#000" stroke-width="2.9"/><rect x="1073.90" y="1252.97" width="8.6" height="1.7" fill="#000"/><text x="1083.10" y="1260.57" font-size="26.80" textLength="57.69" lengthAdjust="spacingAndGlyphs" fill="#000">1.16</text><text x="593.38" y="906.80" font-size="40.00" font-weight="bold" textLength="54.76" lengthAdjust="spacingAndGlyphs" fill="#000">(h)</text><text x="727.29" y="920.00" font-size="47.50" textLength="236.54" lengthAdjust="spacingAndGlyphs" fill="#000">Kernel CCA</text><clipPath id="ci"><rect x="1273.50" y="942.00" width="317.00" height="347.50"/></clipPath><g clip-path="url(#ci)"><rect x="1271.5" y="940.0" width="321.0" height="351.5" fill="#837fc6"/><path d="M1270.5 962.0L1305.8 987.9L1335.6 1012.1L1362.8 1036.7L1384.5 1059.3L1395.4 1072.1L1403.5 1082.6L1411.6 1094.5L1418.3 1105.7L1423.5 1116.0L1427.4 1125.8L1430.0 1134.7L1431.3 1143.9L1432.6 1135.5L1435.2 1127.2L1439.1 1118.3L1444.2 1108.9L1449.6 1100.4L1457.8 1089.3L1465.9 1079.4L1476.8 1067.5L1498.5 1046.6L1525.6 1023.9L1558.2 999.7L1593.5 976.0L1593.5 1292.5L1270.5 1292.5Z" fill="#a09bd0"/><path d="M1270.5 988.4L1305.8 1011.7L1335.6 1033.4L1362.8 1055.5L1384.5 1075.7L1395.4 1087.2L1403.5 1096.7L1411.6 1107.3L1418.3 1117.4L1423.5 1126.7L1427.4 1135.4L1430.0 1143.4L1431.3 1151.7L1432.6 1143.6L1435.2 1135.7L1439.1 1127.1L1444.2 1118.0L1449.6 1109.9L1457.8 1099.2L1465.9 1089.7L1476.8 1078.2L1498.5 1058.1L1525.6 1036.2L1558.2 1012.9L1593.5 990.1L1593.5 1292.5L1270.5 1292.5Z" fill="#bcb8de"/><path d="M1270.5 1004.7L1305.8 1026.5L1335.6 1046.9L1362.8 1067.7L1384.5 1086.7L1395.4 1097.5L1403.5 1106.5L1411.6 1116.5L1418.3 1125.9L1423.5 1134.6L1427.4 1142.9L1430.0 1150.4L1431.3 1158.2L1432.6 1150.2L1435.2 1142.5L1439.1 1134.1L1444.2 1125.3L1449.6 1117.3L1457.8 1106.8L1465.9 1097.6L1476.8 1086.4L1498.5 1066.7L1525.6 1045.3L1558.2 1022.6L1593.5 1000.3L1593.5 1292.5L1270.5 1292.5Z" fill="#d0cee6"/><path d="M1270.5 1009.7L1305.8 1031.8L1335.6 1052.4L1362.8 1073.4L1384.5 1092.6L1395.4 1103.5L1403.5 1112.5L1411.6 1122.6L1418.3 1132.1L1423.5 1140.9L1427.4 1149.2L1430.0 1156.8L1431.3 1164.6L1432.6 1156.8L1435.2 1149.2L1439.1 1140.8L1444.2 1132.1L1449.6 1124.2L1457.8 1113.9L1465.9 1104.7L1476.8 1093.6L1498.5 1074.2L1525.6 1053.0L1558.2 1030.5L1593.5 1008.4L1593.5 1292.5L1270.5 1292.5Z" fill="#d9d8ea"/><path d="M1270.5 1013.7L1305.8 1036.1L1335.6 1057.1L1362.8 1078.4L1384.5 1097.9L1395.4 1108.9L1403.5 1118.1L1411.6 1128.4L1418.3 1138.0L1423.5 1147.0L1427.4 1155.4L1430.0 1163.2L1431.3 1171.1L1432.6 1163.2L1435.2 1155.4L1439.1 1146.9L1444.2 1138.1L1449.6 1130.0L1457.8 1119.5L1465.9 1110.2L1476.8 1099.0L1498.5 1079.2L1525.6 1057.7L1558.2 1034.8L1593.5 1012.4L1593.5 1292.5L1270.5 1292.5Z" fill="#e3e2ee"/><path d="M1270.5 1017.7L1305.8 1040.5L1335.6 1061.7L1362.8 1083.4L1384.5 1103.2L1395.4 1114.4L1403.5 1123.7L1411.6 1134.2L1418.3 1144.0L1423.5 1153.1L1427.4 1161.7L1430.0 1169.5L1431.3 1177.6L1432.6 1169.5L1435.2 1161.6L1439.1 1153.0L1444.2 1144.0L1449.6 1135.9L1457.8 1125.2L1465.9 1115.7L1476.8 1104.3L1498.5 1084.2L1525.6 1062.4L1558.2 1039.1L1593.5 1016.4L1593.5 1292.5L1270.5 1292.5Z" fill="#eaeaef"/><path d="M1270.5 1022.8L1305.8 1045.7L1335.6 1067.2L1362.8 1089.0L1384.5 1109.0L1395.4 1120.4L1403.5 1129.8L1411.6 1140.3L1418.3 1150.2L1423.5 1159.4L1427.4 1168.0L1430.0 1176.0L1431.3 1184.1L1432.6 1175.9L1435.2 1167.9L1439.1 1159.2L1444.2 1150.0L1449.6 1141.7L1457.8 1130.9L1465.9 1121.3L1476.8 1109.7L1498.5 1089.3L1525.6 1067.1L1558.2 1043.5L1593.5 1020.4L1593.5 1292.5L1270.5 1292.5Z" fill="#eeedec"/><path d="M1270.5 1028.8L1305.8 1051.8L1335.6 1073.3L1362.8 1095.2L1384.5 1115.3L1395.4 1126.7L1403.5 1136.1L1411.6 1146.6L1418.3 1156.6L1423.5 1165.8L1427.4 1174.5L1430.0 1182.4L1431.3 1190.6L1432.6 1182.2L1435.2 1174.1L1439.1 1165.3L1444.2 1156.0L1449.6 1147.6L1457.8 1136.5L1465.9 1126.8L1476.8 1115.0L1498.5 1094.3L1525.6 1071.8L1558.2 1047.8L1593.5 1024.4L1593.5 1292.5L1270.5 1292.5Z" fill="#ece6e3"/><path d="M1270.5 1034.9L1305.8 1058.0L1335.6 1079.5L1362.8 1101.5L1384.5 1121.6L1395.4 1133.0L1403.5 1142.4L1411.6 1153.0L1418.3 1163.0L1423.5 1172.2L1427.4 1180.9L1430.0 1188.9L1431.3 1197.1L1432.6 1188.6L1435.2 1180.3L1439.1 1171.4L1444.2 1161.9L1449.6 1153.4L1457.8 1142.2L1465.9 1132.3L1476.8 1120.4L1498.5 1099.4L1525.6 1076.5L1558.2 1052.2L1593.5 1028.3L1593.5 1292.5L1270.5 1292.5Z" fill="#e6dcd6"/><path d="M1270.5 1040.9L1305.8 1064.0L1335.6 1085.6L1362.8 1107.7L1384.5 1127.9L1395.4 1139.3L1403.5 1148.7L1411.6 1159.3L1418.3 1169.3L1423.5 1178.6L1427.4 1187.3L1430.0 1195.3L1431.3 1203.5L1432.6 1195.2L1435.2 1187.0L1439.1 1178.1L1444.2 1168.7L1449.6 1160.3L1457.8 1149.2L1465.9 1139.4L1476.8 1127.6L1498.5 1106.8L1525.6 1084.1L1558.2 1060.0L1593.5 1036.5L1593.5 1292.5L1270.5 1292.5Z" fill="#dfd0c7"/><path d="M1270.5 1046.9L1305.8 1070.2L1335.6 1091.8L1362.8 1113.9L1384.5 1134.2L1395.4 1145.6L1403.5 1155.1L1411.6 1165.7L1418.3 1175.7L1423.5 1185.1L1427.4 1193.8L1430.0 1201.8L1431.3 1210.0L1432.6 1201.6L1435.2 1193.4L1439.1 1184.5L1444.2 1175.1L1449.6 1166.6L1457.8 1155.6L1465.9 1145.7L1476.8 1133.9L1498.5 1113.0L1525.6 1090.3L1558.2 1066.1L1593.5 1042.5L1593.5 1292.5L1270.5 1292.5Z" fill="#d3bbae"/><path d="M1270.5 1052.9L1305.8 1076.2L1335.6 1098.0L1362.8 1120.1L1384.5 1140.4L1395.4 1151.9L1403.5 1161.4L1411.6 1172.1L1418.3 1182.1L1423.5 1191.5L1427.4 1200.2L1430.0 1208.3L1431.3 1216.5L1432.6 1208.1L1435.2 1199.9L1439.1 1190.9L1444.2 1181.5L1449.6 1173.0L1457.8 1161.9L1465.9 1152.0L1476.8 1140.2L1498.5 1119.3L1525.6 1096.5L1558.2 1072.3L1593.5 1048.6L1593.5 1292.5L1270.5 1292.5Z" fill="#c19d8a"/><polygon points="1272.0,1063.2 1289.4,1071.9 1308.3,1089.4 1330.1,1112.6 1351.9,1135.8 1337.3,1150.3 1321.4,1170.7 1305.4,1185.2 1290.9,1200.4 1272.0,1200.4" fill="#ae7c63"/><polygon points="1593.0,1057.2 1571.0,1077.4 1542.0,1101.2 1512.2,1126.8 1481.5,1199.0 1492.2,1251.2 1494.0,1293.2 1593.0,1293.2" fill="#ae7c63"/><polygon points="1593.0,1079.2 1589.7,1082.7 1576.4,1090.7 1563.0,1140.2 1552.3,1193.7 1540.3,1233.8 1543.0,1251.2 1544.0,1293.2 1593.0,1293.2" fill="#a06a50"/><use href="#U" x="1172.0" y="879.2" fill="#8a08ac" fill-opacity="0.58" stroke="#000" stroke-opacity="0.68" stroke-width="1.35"/><use href="#L" x="1172.0" y="879.2" fill="#f29a2e" fill-opacity="0.58" stroke="#000" stroke-opacity="0.68" stroke-width="1.35"/></g><rect x="1317.40" y="1254.00" width="228.5" height="38" fill="#fff" fill-opacity="0.8" stroke="#000" stroke-opacity="0.88" stroke-width="3"/><text x="1327.28" y="1279.90" font-size="26.80" font-style="italic" textLength="12.56" lengthAdjust="spacingAndGlyphs" fill="#000">s</text><text x="1349.43" y="1279.90" font-size="26.80" textLength="25.59" lengthAdjust="spacingAndGlyphs" fill="#000">=</text><text x="1383.60" y="1279.90" font-size="26.80" textLength="57.57" lengthAdjust="spacingAndGlyphs" fill="#000">1.81</text><text x="1448.75" y="1279.90" font-size="26.80" textLength="23.96" lengthAdjust="spacingAndGlyphs" fill="#000">±</text><text x="1480.87" y="1279.90" font-size="26.80" textLength="23.14" lengthAdjust="spacingAndGlyphs" fill="#000">0.</text><text x="1503.08" y="1279.90" font-size="26.80" font-weight="bold" textLength="35.43" lengthAdjust="spacingAndGlyphs" fill="#000">02</text><rect x="1273.50" y="942.00" width="317.00" height="347.50" fill="none" stroke="#000" stroke-width="2.9" stroke-linejoin="miter" stroke-linecap="square"/><line x1="1260.10" y1="1281.36" x2="1273.50" y2="1281.36" stroke="#000" stroke-width="2.9"/><line x1="1260.10" y1="1194.90" x2="1273.50" y2="1194.90" stroke="#000" stroke-width="2.9"/><line x1="1260.10" y1="1108.44" x2="1273.50" y2="1108.44" stroke="#000" stroke-width="2.9"/><line x1="1260.10" y1="1021.98" x2="1273.50" y2="1021.98" stroke="#000" stroke-width="2.9"/><line x1="1344.65" y1="1289.50" x2="1344.65" y2="1302.10" stroke="#000" stroke-width="2.9"/><line x1="1431.30" y1="1289.50" x2="1431.30" y2="1302.10" stroke="#000" stroke-width="2.9"/><line x1="1517.95" y1="1289.50" x2="1517.95" y2="1302.10" stroke="#000" stroke-width="2.9"/><text x="1231.45" y="1031.48" font-size="26.80" textLength="15.41" lengthAdjust="spacingAndGlyphs" fill="#000">4</text><text x="1232.69" y="1117.94" font-size="26.80" textLength="15.41" lengthAdjust="spacingAndGlyphs" fill="#000">2</text><text x="1232.22" y="1204.40" font-size="26.80" textLength="15.41" lengthAdjust="spacingAndGlyphs" fill="#000">0</text><text x="1232.69" y="1290.86" font-size="26.80" textLength="15.41" lengthAdjust="spacingAndGlyphs" fill="#000">2</text><rect x="1209.60" y="1282.56" width="18.4" height="2.0" fill="#000"/><rect x="1320.10" y="1326.40" width="18.6" height="2.0" fill="#000"/><text x="1342.30" y="1335.00" font-size="26.80" textLength="31.77" lengthAdjust="spacingAndGlyphs" fill="#000">10</text><text x="1423.98" y="1335.00" font-size="26.80" textLength="16.55" lengthAdjust="spacingAndGlyphs" fill="#000">0</text><text x="1502.80" y="1335.00" font-size="26.80" textLength="31.77" lengthAdjust="spacingAndGlyphs" fill="#000">10</text><text x="1423.65" y="1375.70" font-size="28.00" textLength="17.40" lengthAdjust="spacingAndGlyphs" fill="#000">x</text><text transform="translate(1186.20,1115.70) rotate(-90)" x="-8.64" y="0" font-size="28" textLength="17.11" lengthAdjust="spacingAndGlyphs">y</text><path d="M1617.30 957.40L1625.30 940.70L1633.30 957.40Z" fill="#756fc0"/><rect x="1617.30" y="956.90" width="16.00" height="23.03" fill="#837fc6"/><rect x="1617.30" y="979.53" width="16.00" height="23.03" fill="#a09bd0"/><rect x="1617.30" y="1002.16" width="16.00" height="23.03" fill="#bcb8de"/><rect x="1617.30" y="1024.79" width="16.00" height="23.03" fill="#d0cee6"/><rect x="1617.30" y="1047.41" width="16.00" height="23.03" fill="#d9d8ea"/><rect x="1617.30" y="1070.04" width="16.00" height="23.03" fill="#e3e2ee"/><rect x="1617.30" y="1092.67" width="16.00" height="23.03" fill="#eaeaef"/><rect x="1617.30" y="1115.30" width="16.00" height="23.03" fill="#eeedec"/><rect x="1617.30" y="1137.93" width="16.00" height="23.03" fill="#ece6e3"/><rect x="1617.30" y="1160.56" width="16.00" height="23.03" fill="#e6dcd6"/><rect x="1617.30" y="1183.19" width="16.00" height="23.03" fill="#dfd0c7"/><rect x="1617.30" y="1205.81" width="16.00" height="23.03" fill="#d3bbae"/><rect x="1617.30" y="1228.44" width="16.00" height="23.03" fill="#c19d8a"/><rect x="1617.30" y="1251.07" width="16.00" height="23.03" fill="#ae7c63"/><path d="M1617.30 1273.20L1625.30 1290.20L1633.30 1273.20Z" fill="#a06a50"/><path d="M1617.30 956.90L1625.30 940.70L1633.30 956.90L1633.30 1273.70L1625.30 1290.20L1617.30 1273.70Z" fill="none" stroke="#000" stroke-width="2.9" stroke-miterlimit="10"/><line x1="1633.30" y1="979.53" x2="1646.20" y2="979.53" stroke="#000" stroke-width="2.9"/><text x="1657.88" y="989.03" font-size="26.80" textLength="58.05" lengthAdjust="spacingAndGlyphs" fill="#000">1.00</text><line x1="1633.30" y1="1047.41" x2="1646.20" y2="1047.41" stroke="#000" stroke-width="2.9"/><text x="1659.41" y="1056.91" font-size="26.80" textLength="56.48" lengthAdjust="spacingAndGlyphs" fill="#000">0.25</text><line x1="1633.30" y1="1115.30" x2="1646.20" y2="1115.30" stroke="#000" stroke-width="2.9"/><text x="1659.41" y="1124.80" font-size="26.80" textLength="56.48" lengthAdjust="spacingAndGlyphs" fill="#000">0.00</text><line x1="1633.30" y1="1183.19" x2="1646.20" y2="1183.19" stroke="#000" stroke-width="2.9"/><rect x="1659.90" y="1185.09" width="8.6" height="1.7" fill="#000"/><text x="1670.61" y="1192.69" font-size="26.80" textLength="56.48" lengthAdjust="spacingAndGlyphs" fill="#000">0.25</text><line x1="1633.30" y1="1251.07" x2="1646.20" y2="1251.07" stroke="#000" stroke-width="2.9"/><rect x="1659.90" y="1252.97" width="8.6" height="1.7" fill="#000"/><text x="1669.08" y="1260.57" font-size="26.80" textLength="58.05" lengthAdjust="spacingAndGlyphs" fill="#000">1.00</text><text x="1179.38" y="906.80" font-size="40.00" font-weight="bold" textLength="42.29" lengthAdjust="spacingAndGlyphs" fill="#000">(i)</text><text x="1331.53" y="920.00" font-size="47.50" textLength="198.73" lengthAdjust="spacingAndGlyphs" fill="#000">VAMPNet</text><clipPath id="td"><rect x="101.50" y="588.20" width="317.00" height="172.30"/></clipPath><g clip-path="url(#td)" fill="none" stroke-linejoin="round"><polyline points="116.0,653.6 117.4,645.3 118.9,641.5 120.3,650.1 121.8,653.5 123.2,656.8 124.7,651.9 126.1,653.0 127.6,648.7 129.0,662.2 130.5,648.8 131.9,651.5 133.4,648.3 134.8,651.5 136.3,654.8 137.7,651.4 139.2,647.4 140.6,651.4 142.1,653.3 143.5,649.3 145.0,656.5 146.4,664.5 147.9,657.2 149.3,659.7 150.8,668.7 152.2,666.9 153.6,663.7 155.1,666.5 156.5,718.2 158.0,705.1 159.4,682.6 160.9,684.3 162.3,688.4 163.8,683.7 165.2,679.2 166.7,682.8 168.1,679.7 169.6,674.9 171.0,680.0 172.5,686.4 173.9,682.9 175.4,681.6 176.8,675.6 178.3,657.2 179.7,659.6 181.2,662.0 182.6,668.8 184.1,661.2 185.5,654.6 187.0,658.6 188.4,647.9 189.8,645.4 191.3,645.3 192.7,646.6 194.2,673.6 195.6,686.1 197.1,651.4 198.5,648.7 200.0,661.7 201.4,655.9 202.9,656.4 204.3,650.4 205.8,654.5 207.2,654.2 208.7,651.8 210.1,658.0 211.6,652.4 213.0,653.6 214.5,650.6 215.9,655.1 217.4,677.5 218.8,676.4 220.3,680.6 221.7,677.9 223.2,672.6 224.6,666.5 226.0,683.7 227.5,648.4 228.9,677.6 230.4,680.7 231.8,688.0 233.3,678.2 234.7,688.2 236.2,682.5 237.6,674.9 239.1,688.5 240.5,688.0 242.0,693.9 243.4,687.6 244.9,676.4 246.3,667.1 247.8,685.3 249.2,687.9 250.7,681.5 252.1,672.7 253.6,674.9 255.0,683.2 256.5,681.4 257.9,682.4 259.4,684.0 260.8,688.2 262.2,683.6 263.7,681.6 265.1,682.9 266.6,684.4 268.0,691.8 269.5,690.9 270.9,680.1 272.4,682.7 273.8,691.8 275.3,679.8 276.7,678.1 278.2,637.9 279.6,644.6 281.1,651.5 282.5,661.3 284.0,649.7 285.4,635.8 286.9,648.8 288.3,654.9 289.8,650.7 291.2,657.1 292.7,657.2 294.1,657.7 295.6,654.7 297.0,647.5 298.4,650.1 299.9,646.1 301.3,652.0 302.8,650.7 304.2,665.1 305.7,698.5 307.1,686.8 308.6,688.8 310.0,682.8 311.5,679.7 312.9,673.2 314.4,672.8 315.8,671.3 317.3,647.7 318.7,654.6 320.2,658.6 321.6,659.3 323.1,663.7 324.5,662.5 326.0,659.0 327.4,655.1 328.9,656.5 330.3,666.9 331.8,661.4 333.2,656.5 334.6,648.6 336.1,647.3 337.5,654.1 339.0,658.3 340.4,643.9 341.9,643.6 343.3,636.9 344.8,631.4 346.2,646.4 347.7,647.3 349.1,647.3 350.6,646.7 352.0,646.5 353.5,648.5 354.9,649.7 356.4,660.6 357.8,658.5 359.3,660.9 360.7,656.8 362.2,658.2 363.6,652.4 365.1,647.9 366.5,678.3 368.0,678.6 369.4,680.1 370.8,684.3 372.3,684.8 373.7,687.2 375.2,683.0 376.6,683.1 378.1,679.6 379.5,659.7 381.0,651.5 382.4,657.1 383.9,660.0 385.3,658.3 386.8,659.6 388.2,655.1 389.7,658.0 391.1,662.5 392.6,663.7 394.0,651.1 395.5,652.0 396.9,659.8 398.4,657.0 399.8,665.0 401.3,648.9 402.7,660.3 404.2,654.4 405.6,650.7" stroke="#1f77b4" stroke-opacity="0.3" stroke-width="6" stroke-linecap="square"/><polyline points="116.0,630.9 117.4,630.9 118.9,630.9 120.3,718.2 121.8,630.9 123.2,630.9 124.7,630.9 126.1,630.9 127.6,630.9 129.0,718.2 130.5,718.2 131.9,718.2 133.4,718.2 134.8,630.9 136.3,630.9 137.7,630.9 139.2,630.9 140.6,630.9 142.1,718.2 143.5,718.2 145.0,630.9 146.4,630.9 147.9,630.9 149.3,630.9 150.8,630.9 152.2,718.2 153.6,718.2 155.1,718.2 156.5,718.2 158.0,718.2 159.4,718.2 160.9,718.2 162.3,718.2 163.8,718.2 165.2,718.2 166.7,718.2 168.1,630.9 169.6,630.9 171.0,718.2 172.5,718.2 173.9,718.2 175.4,718.2 176.8,630.9 178.3,630.9 179.7,630.9 181.2,630.9 182.6,630.9 184.1,630.9 185.5,630.9 187.0,630.9 188.4,630.9 189.8,630.9 191.3,718.2 192.7,718.2 194.2,718.2 195.6,718.2 197.1,718.2 198.5,630.9 200.0,630.9 201.4,630.9 202.9,630.9 204.3,630.9 205.8,630.9 207.2,630.9 208.7,630.9 210.1,630.9 211.6,630.9 213.0,630.9 214.5,718.2 215.9,718.2 217.4,718.2 218.8,718.2 220.3,718.2 221.7,718.2 223.2,718.2 224.6,630.9 226.0,630.9 227.5,630.9 228.9,718.2 230.4,718.2 231.8,718.2 233.3,718.2 234.7,718.2 236.2,630.9 237.6,630.9 239.1,630.9 240.5,630.9 242.0,718.2 243.4,718.2 244.9,718.2 246.3,718.2 247.8,718.2 249.2,718.2 250.7,718.2 252.1,718.2 253.6,718.2 255.0,718.2 256.5,718.2 257.9,718.2 259.4,718.2 260.8,718.2 262.2,630.9 263.7,630.9 265.1,630.9 266.6,718.2 268.0,718.2 269.5,718.2 270.9,630.9 272.4,630.9 273.8,630.9 275.3,630.9 276.7,630.9 278.2,630.9 279.6,630.9 281.1,630.9 282.5,630.9 284.0,630.9 285.4,630.9 286.9,718.2 288.3,630.9 289.8,718.2 291.2,630.9 292.7,718.2 294.1,630.9 295.6,630.9 297.0,718.2 298.4,630.9 299.9,718.2 301.3,630.9 302.8,630.9 304.2,718.2 305.7,630.9 307.1,718.2 308.6,718.2 310.0,718.2 311.5,718.2 312.9,718.2 314.4,718.2 315.8,630.9 317.3,630.9 318.7,630.9 320.2,630.9 321.6,630.9 323.1,630.9 324.5,630.9 326.0,630.9 327.4,630.9 328.9,630.9 330.3,718.2 331.8,630.9 333.2,630.9 334.6,630.9 336.1,630.9 337.5,630.9 339.0,630.9 340.4,630.9 341.9,630.9 343.3,630.9 344.8,630.9 346.2,630.9 347.7,630.9 349.1,630.9 350.6,630.9 352.0,630.9 353.5,630.9 354.9,630.9 356.4,630.9 357.8,630.9 359.3,630.9 360.7,630.9 362.2,630.9 363.6,718.2 365.1,718.2 366.5,718.2 368.0,718.2 369.4,718.2 370.8,718.2 372.3,718.2 373.7,718.2 375.2,718.2 376.6,718.2 378.1,718.2 379.5,718.2 381.0,718.2 382.4,718.2 383.9,718.2 385.3,630.9 386.8,630.9 388.2,630.9 389.7,630.9 391.1,630.9 392.6,630.9 394.0,630.9 395.5,630.9 396.9,630.9 398.4,630.9 399.8,630.9 401.3,630.9 402.7,630.9 404.2,630.9 405.6,630.9" stroke="#1f77b4" stroke-width="6" stroke-linecap="square"/><polyline points="116.0,630.9 117.4,630.9 118.9,630.9 120.3,630.9 121.8,630.9 123.2,630.9 124.7,630.9 126.1,630.9 127.6,630.9 129.0,630.9 130.5,630.9 131.9,630.9 133.4,630.9 134.8,630.9 136.3,630.9 137.7,630.9 139.2,630.9 140.6,630.9 142.1,630.9 143.5,630.9 145.0,630.9 146.4,630.9 147.9,630.9 149.3,630.9 150.8,630.9 152.2,630.9 153.6,630.9 155.1,630.9 156.5,718.2 158.0,718.2 159.4,718.2 160.9,718.2 162.3,718.2 163.8,718.2 165.2,718.2 166.7,718.2 168.1,718.2 169.6,718.2 171.0,718.2 172.5,718.2 173.9,718.2 175.4,718.2 176.8,718.2 178.3,630.9 179.7,630.9 181.2,630.9 182.6,630.9 184.1,630.9 185.5,630.9 187.0,630.9 188.4,630.9 189.8,630.9 191.3,630.9 192.7,630.9 194.2,718.2 195.6,718.2 197.1,630.9 198.5,630.9 200.0,630.9 201.4,630.9 202.9,630.9 204.3,630.9 205.8,630.9 207.2,630.9 208.7,630.9 210.1,630.9 211.6,630.9 213.0,630.9 214.5,630.9 215.9,630.9 217.4,718.2 218.8,718.2 220.3,718.2 221.7,718.2 223.2,718.2 224.6,718.2 226.0,718.2 227.5,630.9 228.9,718.2 230.4,718.2 231.8,718.2 233.3,718.2 234.7,718.2 236.2,718.2 237.6,718.2 239.1,718.2 240.5,718.2 242.0,718.2 243.4,718.2 244.9,718.2 246.3,718.2 247.8,718.2 249.2,718.2 250.7,718.2 252.1,718.2 253.6,718.2 255.0,718.2 256.5,718.2 257.9,718.2 259.4,718.2 260.8,718.2 262.2,718.2 263.7,718.2 265.1,718.2 266.6,718.2 268.0,718.2 269.5,718.2 270.9,718.2 272.4,718.2 273.8,718.2 275.3,718.2 276.7,718.2 278.2,630.9 279.6,630.9 281.1,630.9 282.5,630.9 284.0,630.9 285.4,630.9 286.9,630.9 288.3,630.9 289.8,630.9 291.2,630.9 292.7,630.9 294.1,630.9 295.6,630.9 297.0,630.9 298.4,630.9 299.9,630.9 301.3,630.9 302.8,630.9 304.2,630.9 305.7,718.2 307.1,718.2 308.6,718.2 310.0,718.2 311.5,718.2 312.9,718.2 314.4,718.2 315.8,718.2 317.3,630.9 318.7,630.9 320.2,630.9 321.6,630.9 323.1,630.9 324.5,630.9 326.0,630.9 327.4,630.9 328.9,630.9 330.3,630.9 331.8,630.9 333.2,630.9 334.6,630.9 336.1,630.9 337.5,630.9 339.0,630.9 340.4,630.9 341.9,630.9 343.3,630.9 344.8,630.9 346.2,630.9 347.7,630.9 349.1,630.9 350.6,630.9 352.0,630.9 353.5,630.9 354.9,630.9 356.4,630.9 357.8,630.9 359.3,630.9 360.7,630.9 362.2,630.9 363.6,630.9 365.1,630.9 366.5,718.2 368.0,718.2 369.4,718.2 370.8,718.2 372.3,718.2 373.7,718.2 375.2,718.2 376.6,718.2 378.1,718.2 379.5,630.9 381.0,630.9 382.4,630.9 383.9,630.9 385.3,630.9 386.8,630.9 388.2,630.9 389.7,630.9 391.1,630.9 392.6,630.9 394.0,630.9 395.5,630.9 396.9,630.9 398.4,630.9 399.8,630.9 401.3,630.9 402.7,630.9 404.2,630.9 405.6,630.9" stroke="#ff7f0e" stroke-width="5.7" stroke-dasharray="5.6 9.2" stroke-linecap="butt"/></g><rect x="101.50" y="588.20" width="317.00" height="172.30" fill="none" stroke="#000" stroke-width="2.9" stroke-linejoin="miter" stroke-linecap="square"/><line x1="88.10" y1="718.20" x2="101.50" y2="718.20" stroke="#000" stroke-width="2.9"/><line x1="88.10" y1="630.90" x2="101.50" y2="630.90" stroke="#000" stroke-width="2.9"/><line x1="116.00" y1="760.50" x2="116.00" y2="773.10" stroke="#000" stroke-width="2.9"/><line x1="260.80" y1="760.50" x2="260.80" y2="773.10" stroke="#000" stroke-width="2.9"/><line x1="405.60" y1="760.50" x2="405.60" y2="773.10" stroke="#000" stroke-width="2.9"/><text x="59.34" y="640.40" font-size="26.80" textLength="15.41" lengthAdjust="spacingAndGlyphs" fill="#000">1</text><text x="59.92" y="727.70" font-size="26.80" textLength="15.41" lengthAdjust="spacingAndGlyphs" fill="#000">0</text><text x="108.30" y="806.10" font-size="26.80" textLength="15.41" lengthAdjust="spacingAndGlyphs" fill="#000">0</text><text x="236.99" y="806.10" font-size="26.80" textLength="46.23" lengthAdjust="spacingAndGlyphs" fill="#000">100</text><text x="382.41" y="806.10" font-size="26.80" textLength="46.23" lengthAdjust="spacingAndGlyphs" fill="#000">200</text><text x="183.03" y="849.60" font-size="29.50" textLength="152.93" lengthAdjust="spacingAndGlyphs" fill="#000">time (a.u.)</text><text transform="translate(37.30,675.10) rotate(-90)" x="-37.3" y="0" font-size="29" textLength="74.6" lengthAdjust="spacingAndGlyphs"><tspan font-style="italic">χ</tspan>(<tspan font-style="italic">x</tspan><tspan font-size="20" font-style="italic" dy="4.5">t</tspan><tspan dy="-4.5">)</tspan></text><text x="7.38" y="553.00" font-size="40.00" font-weight="bold" textLength="54.76" lengthAdjust="spacingAndGlyphs" fill="#000">(d)</text><text x="158.57" y="565.60" font-size="47.50" textLength="202.39" lengthAdjust="spacingAndGlyphs" fill="#000">87.6% acc.</text><clipPath id="te"><rect x="687.50" y="588.20" width="317.00" height="172.30"/></clipPath><g clip-path="url(#te)" fill="none" stroke-linejoin="round"><polyline points="702.0,644.0 703.4,641.6 704.9,635.7 706.3,638.7 707.8,640.9 709.2,635.9 710.7,620.4 712.1,640.8 713.6,644.3 715.0,639.1 716.5,650.4 717.9,639.1 719.4,647.0 720.8,653.2 722.3,643.0 723.7,604.7 725.2,633.7 726.6,646.0 728.1,638.9 729.5,646.5 731.0,645.5 732.4,643.6 733.9,662.1 735.3,646.1 736.8,652.5 738.2,651.2 739.6,657.0 741.1,658.5 742.5,736.4 744.0,721.6 745.4,712.1 746.9,723.5 748.3,717.0 749.8,726.3 751.2,741.1 752.7,727.9 754.1,722.9 755.6,728.8 757.0,687.6 758.5,721.2 759.9,731.9 761.4,738.8 762.8,730.3 764.3,646.5 765.7,630.9 767.2,636.9 768.6,629.0 770.1,644.3 771.5,638.6 773.0,635.5 774.4,636.7 775.8,634.3 777.3,645.1 778.7,638.4 780.2,709.0 781.6,716.3 783.1,646.9 784.5,639.8 786.0,633.2 787.4,638.9 788.9,613.4 790.3,632.6 791.8,622.2 793.2,641.5 794.7,643.6 796.1,653.3 797.6,636.3 799.0,639.7 800.5,652.3 801.9,640.9 803.4,728.8 804.8,741.6 806.3,734.6 807.7,725.7 809.2,721.0 810.6,723.7 812.0,725.2 813.5,640.1 814.9,726.9 816.4,717.0 817.8,723.1 819.3,723.2 820.7,721.2 822.2,733.4 823.6,733.1 825.1,715.5 826.5,721.3 828.0,727.3 829.4,723.6 830.9,729.4 832.3,724.5 833.8,731.0 835.2,724.9 836.7,738.2 838.1,718.0 839.6,728.5 841.0,739.0 842.5,730.4 843.9,729.8 845.4,725.6 846.8,735.0 848.2,724.7 849.7,697.3 851.1,730.4 852.6,724.3 854.0,728.1 855.5,725.0 856.9,740.1 858.4,737.9 859.8,724.8 861.3,726.1 862.7,713.2 864.2,647.0 865.6,643.2 867.1,621.0 868.5,645.4 870.0,651.4 871.4,645.7 872.9,644.7 874.3,637.5 875.8,641.7 877.2,649.5 878.7,643.4 880.1,623.2 881.6,629.8 883.0,663.0 884.4,648.9 885.9,651.9 887.3,578.5 888.8,644.7 890.2,628.9 891.7,715.7 893.1,717.0 894.6,722.8 896.0,725.7 897.5,723.3 898.9,715.3 900.4,609.1 901.8,727.5 903.3,634.3 904.7,640.5 906.2,643.9 907.6,650.2 909.1,649.7 910.5,650.1 912.0,667.2 913.4,640.6 914.9,638.9 916.3,644.7 917.8,635.9 919.2,622.2 920.6,640.1 922.1,662.7 923.5,649.6 925.0,640.9 926.4,622.2 927.9,626.9 929.3,629.4 930.8,650.2 932.2,662.5 933.7,643.2 935.1,643.6 936.6,636.4 938.0,643.5 939.5,642.2 940.9,655.4 942.4,642.8 943.8,647.2 945.3,641.9 946.7,640.0 948.2,644.1 949.6,641.5 951.1,643.6 952.5,720.0 954.0,720.9 955.4,729.3 956.8,731.3 958.3,713.4 959.7,724.3 961.2,717.9 962.6,721.3 964.1,729.5 965.5,650.6 967.0,644.4 968.4,642.1 969.9,638.8 971.3,652.9 972.8,650.4 974.2,626.5 975.7,631.8 977.1,660.1 978.6,643.8 980.0,648.2 981.5,641.4 982.9,647.4 984.4,641.8 985.8,631.3 987.3,638.7 988.7,639.5 990.2,640.2 991.6,649.1" stroke="#1f77b4" stroke-opacity="0.3" stroke-width="6" stroke-linecap="square"/><polyline points="702.0,630.9 703.4,630.9 704.9,630.9 706.3,630.9 707.8,630.9 709.2,630.9 710.7,630.9 712.1,630.9 713.6,630.9 715.0,630.9 716.5,630.9 717.9,630.9 719.4,630.9 720.8,630.9 722.3,630.9 723.7,630.9 725.2,630.9 726.6,630.9 728.1,630.9 729.5,630.9 731.0,630.9 732.4,630.9 733.9,630.9 735.3,630.9 736.8,630.9 738.2,630.9 739.6,630.9 741.1,630.9 742.5,718.2 744.0,718.2 745.4,718.2 746.9,718.2 748.3,718.2 749.8,718.2 751.2,718.2 752.7,718.2 754.1,718.2 755.6,718.2 757.0,718.2 758.5,718.2 759.9,718.2 761.4,718.2 762.8,718.2 764.3,630.9 765.7,630.9 767.2,630.9 768.6,630.9 770.1,630.9 771.5,630.9 773.0,630.9 774.4,630.9 775.8,630.9 777.3,630.9 778.7,630.9 780.2,718.2 781.6,718.2 783.1,630.9 784.5,630.9 786.0,630.9 787.4,630.9 788.9,630.9 790.3,630.9 791.8,630.9 793.2,630.9 794.7,630.9 796.1,630.9 797.6,630.9 799.0,630.9 800.5,630.9 801.9,630.9 803.4,718.2 804.8,718.2 806.3,718.2 807.7,718.2 809.2,718.2 810.6,718.2 812.0,718.2 813.5,630.9 814.9,718.2 816.4,718.2 817.8,718.2 819.3,718.2 820.7,718.2 822.2,718.2 823.6,718.2 825.1,630.9 826.5,630.9 828.0,718.2 829.4,718.2 830.9,718.2 832.3,718.2 833.8,718.2 835.2,718.2 836.7,718.2 838.1,718.2 839.6,718.2 841.0,718.2 842.5,718.2 843.9,718.2 845.4,718.2 846.8,718.2 848.2,718.2 849.7,630.9 851.1,718.2 852.6,718.2 854.0,718.2 855.5,718.2 856.9,718.2 858.4,630.9 859.8,718.2 861.3,718.2 862.7,718.2 864.2,630.9 865.6,630.9 867.1,630.9 868.5,630.9 870.0,630.9 871.4,630.9 872.9,630.9 874.3,630.9 875.8,630.9 877.2,630.9 878.7,630.9 880.1,630.9 881.6,630.9 883.0,630.9 884.4,630.9 885.9,630.9 887.3,630.9 888.8,630.9 890.2,630.9 891.7,718.2 893.1,718.2 894.6,718.2 896.0,718.2 897.5,718.2 898.9,718.2 900.4,718.2 901.8,718.2 903.3,630.9 904.7,630.9 906.2,630.9 907.6,630.9 909.1,630.9 910.5,630.9 912.0,630.9 913.4,630.9 914.9,630.9 916.3,630.9 917.8,630.9 919.2,630.9 920.6,630.9 922.1,630.9 923.5,630.9 925.0,630.9 926.4,630.9 927.9,630.9 929.3,630.9 930.8,630.9 932.2,630.9 933.7,630.9 935.1,630.9 936.6,630.9 938.0,630.9 939.5,630.9 940.9,630.9 942.4,630.9 943.8,630.9 945.3,630.9 946.7,630.9 948.2,630.9 949.6,630.9 951.1,630.9 952.5,718.2 954.0,718.2 955.4,718.2 956.8,718.2 958.3,718.2 959.7,718.2 961.2,718.2 962.6,718.2 964.1,718.2 965.5,630.9 967.0,630.9 968.4,630.9 969.9,630.9 971.3,630.9 972.8,630.9 974.2,630.9 975.7,630.9 977.1,630.9 978.6,630.9 980.0,630.9 981.5,630.9 982.9,630.9 984.4,630.9 985.8,630.9 987.3,630.9 988.7,630.9 990.2,630.9 991.6,630.9" stroke="#1f77b4" stroke-width="6" stroke-linecap="square"/><polyline points="702.0,630.9 703.4,630.9 704.9,630.9 706.3,630.9 707.8,630.9 709.2,630.9 710.7,630.9 712.1,630.9 713.6,630.9 715.0,630.9 716.5,630.9 717.9,630.9 719.4,630.9 720.8,630.9 722.3,630.9 723.7,630.9 725.2,630.9 726.6,630.9 728.1,630.9 729.5,630.9 731.0,630.9 732.4,630.9 733.9,630.9 735.3,630.9 736.8,630.9 738.2,630.9 739.6,630.9 741.1,630.9 742.5,718.2 744.0,718.2 745.4,718.2 746.9,718.2 748.3,718.2 749.8,718.2 751.2,718.2 752.7,718.2 754.1,718.2 755.6,718.2 757.0,718.2 758.5,718.2 759.9,718.2 761.4,718.2 762.8,718.2 764.3,630.9 765.7,630.9 767.2,630.9 768.6,630.9 770.1,630.9 771.5,630.9 773.0,630.9 774.4,630.9 775.8,630.9 777.3,630.9 778.7,630.9 780.2,718.2 781.6,718.2 783.1,630.9 784.5,630.9 786.0,630.9 787.4,630.9 788.9,630.9 790.3,630.9 791.8,630.9 793.2,630.9 794.7,630.9 796.1,630.9 797.6,630.9 799.0,630.9 800.5,630.9 801.9,630.9 803.4,718.2 804.8,718.2 806.3,718.2 807.7,718.2 809.2,718.2 810.6,718.2 812.0,718.2 813.5,630.9 814.9,718.2 816.4,718.2 817.8,718.2 819.3,718.2 820.7,718.2 822.2,718.2 823.6,718.2 825.1,718.2 826.5,718.2 828.0,718.2 829.4,718.2 830.9,718.2 832.3,718.2 833.8,718.2 835.2,718.2 836.7,718.2 838.1,718.2 839.6,718.2 841.0,718.2 842.5,718.2 843.9,718.2 845.4,718.2 846.8,718.2 848.2,718.2 849.7,718.2 851.1,718.2 852.6,718.2 854.0,718.2 855.5,718.2 856.9,718.2 858.4,718.2 859.8,718.2 861.3,718.2 862.7,718.2 864.2,630.9 865.6,630.9 867.1,630.9 868.5,630.9 870.0,630.9 871.4,630.9 872.9,630.9 874.3,630.9 875.8,630.9 877.2,630.9 878.7,630.9 880.1,630.9 881.6,630.9 883.0,630.9 884.4,630.9 885.9,630.9 887.3,630.9 888.8,630.9 890.2,630.9 891.7,718.2 893.1,718.2 894.6,718.2 896.0,718.2 897.5,718.2 898.9,718.2 900.4,718.2 901.8,718.2 903.3,630.9 904.7,630.9 906.2,630.9 907.6,630.9 909.1,630.9 910.5,630.9 912.0,630.9 913.4,630.9 914.9,630.9 916.3,630.9 917.8,630.9 919.2,630.9 920.6,630.9 922.1,630.9 923.5,630.9 925.0,630.9 926.4,630.9 927.9,630.9 929.3,630.9 930.8,630.9 932.2,630.9 933.7,630.9 935.1,630.9 936.6,630.9 938.0,630.9 939.5,630.9 940.9,630.9 942.4,630.9 943.8,630.9 945.3,630.9 946.7,630.9 948.2,630.9 949.6,630.9 951.1,630.9 952.5,718.2 954.0,718.2 955.4,718.2 956.8,718.2 958.3,718.2 959.7,718.2 961.2,718.2 962.6,718.2 964.1,718.2 965.5,630.9 967.0,630.9 968.4,630.9 969.9,630.9 971.3,630.9 972.8,630.9 974.2,630.9 975.7,630.9 977.1,630.9 978.6,630.9 980.0,630.9 981.5,630.9 982.9,630.9 984.4,630.9 985.8,630.9 987.3,630.9 988.7,630.9 990.2,630.9 991.6,630.9" stroke="#ff7f0e" stroke-width="5.7" stroke-dasharray="5.6 9.2" stroke-linecap="butt"/></g><rect x="687.50" y="588.20" width="317.00" height="172.30" fill="none" stroke="#000" stroke-width="2.9" stroke-linejoin="miter" stroke-linecap="square"/><line x1="674.10" y1="718.20" x2="687.50" y2="718.20" stroke="#000" stroke-width="2.9"/><line x1="674.10" y1="630.90" x2="687.50" y2="630.90" stroke="#000" stroke-width="2.9"/><line x1="702.00" y1="760.50" x2="702.00" y2="773.10" stroke="#000" stroke-width="2.9"/><line x1="846.80" y1="760.50" x2="846.80" y2="773.10" stroke="#000" stroke-width="2.9"/><line x1="991.60" y1="760.50" x2="991.60" y2="773.10" stroke="#000" stroke-width="2.9"/><text x="645.34" y="640.40" font-size="26.80" textLength="15.41" lengthAdjust="spacingAndGlyphs" fill="#000">1</text><text x="645.92" y="727.70" font-size="26.80" textLength="15.41" lengthAdjust="spacingAndGlyphs" fill="#000">0</text><text x="694.29" y="806.10" font-size="26.80" textLength="15.41" lengthAdjust="spacingAndGlyphs" fill="#000">0</text><text x="822.99" y="806.10" font-size="26.80" textLength="46.23" lengthAdjust="spacingAndGlyphs" fill="#000">100</text><text x="968.41" y="806.10" font-size="26.80" textLength="46.23" lengthAdjust="spacingAndGlyphs" fill="#000">200</text><text x="769.03" y="849.60" font-size="29.50" textLength="152.93" lengthAdjust="spacingAndGlyphs" fill="#000">time (a.u.)</text><text transform="translate(623.30,675.10) rotate(-90)" x="-37.3" y="0" font-size="29" textLength="74.6" lengthAdjust="spacingAndGlyphs"><tspan font-style="italic">χ</tspan>(<tspan font-style="italic">x</tspan><tspan font-size="20" font-style="italic" dy="4.5">t</tspan><tspan dy="-4.5">)</tspan></text><text x="593.38" y="553.00" font-size="40.00" font-weight="bold" textLength="49.72" lengthAdjust="spacingAndGlyphs" fill="#000">(e)</text><text x="744.72" y="565.60" font-size="47.50" textLength="202.54" lengthAdjust="spacingAndGlyphs" fill="#000">97.6% acc.</text><clipPath id="tf"><rect x="1273.50" y="588.20" width="317.00" height="172.30"/></clipPath><g clip-path="url(#tf)" fill="none" stroke-linejoin="round"><polyline points="1288.0,633.5 1289.4,634.8 1290.9,638.9 1292.3,635.4 1293.8,635.5 1295.2,637.5 1296.7,634.5 1298.1,636.5 1299.6,641.5 1301.0,642.0 1302.5,643.8 1303.9,640.3 1305.4,634.9 1306.8,635.7 1308.3,635.9 1309.7,638.6 1311.2,635.7 1312.6,641.9 1314.1,636.3 1315.5,643.0 1317.0,635.3 1318.4,641.4 1319.9,643.6 1321.3,635.8 1322.8,634.7 1324.2,644.0 1325.6,634.9 1327.1,647.2 1328.5,726.7 1330.0,731.3 1331.4,723.0 1332.9,725.1 1334.3,723.8 1335.8,731.2 1337.2,726.8 1338.7,726.2 1340.1,724.9 1341.6,724.4 1343.0,731.8 1344.5,726.8 1345.9,725.9 1347.4,620.4 1348.8,727.1 1350.3,634.3 1351.7,639.7 1353.2,643.6 1354.6,633.8 1356.1,638.0 1357.5,634.9 1359.0,635.3 1360.4,622.2 1361.8,639.4 1363.3,645.6 1364.7,638.8 1366.2,722.1 1367.6,725.3 1369.1,644.0 1370.5,636.8 1372.0,641.0 1373.4,645.9 1374.9,641.6 1376.3,636.8 1377.8,633.7 1379.2,648.9 1380.7,633.8 1382.1,643.4 1383.6,635.0 1385.0,637.2 1386.5,639.1 1387.9,641.3 1389.4,725.1 1390.8,731.0 1392.3,692.0 1393.7,722.6 1395.2,726.8 1396.6,729.6 1398.0,723.5 1399.5,639.4 1400.9,727.5 1402.4,726.0 1403.8,723.0 1405.3,734.8 1406.7,726.3 1408.2,729.0 1409.6,721.9 1411.1,728.9 1412.5,725.9 1414.0,724.9 1415.4,722.9 1416.9,725.0 1418.3,724.6 1419.8,728.1 1421.2,724.9 1422.7,723.1 1424.1,729.8 1425.6,726.4 1427.0,727.6 1428.5,721.9 1429.9,723.1 1431.4,727.6 1432.8,729.7 1434.2,729.1 1435.7,721.8 1437.1,723.5 1438.6,725.7 1440.0,725.0 1441.5,727.5 1442.9,724.5 1444.4,728.9 1445.8,722.1 1447.3,620.4 1448.7,724.4 1450.2,634.1 1451.6,638.6 1453.1,639.7 1454.5,640.4 1456.0,636.2 1457.4,635.3 1458.9,642.5 1460.3,634.5 1461.8,641.6 1463.2,642.5 1464.7,641.3 1466.1,640.7 1467.6,640.5 1469.0,620.4 1470.4,640.7 1471.9,638.2 1473.3,636.1 1474.8,634.1 1476.2,636.7 1477.7,726.6 1479.1,728.7 1480.6,729.2 1482.0,722.5 1483.5,724.0 1484.9,725.9 1486.4,729.6 1487.8,727.6 1489.3,638.7 1490.7,634.2 1492.2,642.0 1493.6,639.3 1495.1,638.0 1496.5,641.6 1498.0,642.5 1499.4,636.5 1500.9,633.9 1502.3,640.0 1503.8,633.9 1505.2,635.5 1506.6,642.2 1508.1,633.9 1509.5,637.1 1511.0,634.7 1512.4,636.8 1513.9,637.5 1515.3,635.7 1516.8,637.6 1518.2,642.1 1519.7,620.4 1521.1,634.9 1522.6,639.6 1524.0,643.5 1525.5,643.9 1526.9,642.2 1528.4,637.2 1529.8,640.9 1531.3,634.3 1532.7,643.7 1534.2,635.7 1535.6,642.0 1537.1,637.8 1538.5,727.2 1540.0,724.9 1541.4,728.7 1542.8,724.3 1544.3,728.0 1545.7,727.9 1547.2,727.1 1548.6,732.4 1550.1,723.3 1551.5,643.5 1553.0,635.4 1554.4,639.0 1555.9,642.9 1557.3,634.8 1558.8,644.1 1560.2,633.7 1561.7,644.5 1563.1,652.9 1564.6,636.9 1566.0,646.5 1567.5,633.8 1568.9,638.7 1570.4,635.7 1571.8,634.8 1573.3,636.9 1574.7,644.6 1576.2,637.8 1577.6,635.7" stroke="#1f77b4" stroke-opacity="0.3" stroke-width="6" stroke-linecap="square"/><polyline points="1288.0,630.9 1289.4,630.9 1290.9,630.9 1292.3,630.9 1293.8,630.9 1295.2,630.9 1296.7,630.9 1298.1,630.9 1299.6,630.9 1301.0,630.9 1302.5,630.9 1303.9,630.9 1305.4,630.9 1306.8,630.9 1308.3,630.9 1309.7,630.9 1311.2,630.9 1312.6,630.9 1314.1,630.9 1315.5,630.9 1317.0,630.9 1318.4,630.9 1319.9,630.9 1321.3,630.9 1322.8,630.9 1324.2,630.9 1325.6,630.9 1327.1,630.9 1328.5,718.2 1330.0,718.2 1331.4,718.2 1332.9,718.2 1334.3,718.2 1335.8,718.2 1337.2,718.2 1338.7,718.2 1340.1,718.2 1341.6,718.2 1343.0,718.2 1344.5,718.2 1345.9,718.2 1347.4,718.2 1348.8,718.2 1350.3,630.9 1351.7,630.9 1353.2,630.9 1354.6,630.9 1356.1,630.9 1357.5,630.9 1359.0,630.9 1360.4,630.9 1361.8,630.9 1363.3,630.9 1364.7,630.9 1366.2,718.2 1367.6,718.2 1369.1,630.9 1370.5,630.9 1372.0,630.9 1373.4,630.9 1374.9,630.9 1376.3,630.9 1377.8,630.9 1379.2,630.9 1380.7,630.9 1382.1,630.9 1383.6,630.9 1385.0,630.9 1386.5,630.9 1387.9,630.9 1389.4,718.2 1390.8,718.2 1392.3,718.2 1393.7,718.2 1395.2,718.2 1396.6,718.2 1398.0,718.2 1399.5,630.9 1400.9,718.2 1402.4,718.2 1403.8,718.2 1405.3,718.2 1406.7,718.2 1408.2,718.2 1409.6,718.2 1411.1,718.2 1412.5,718.2 1414.0,718.2 1415.4,718.2 1416.9,718.2 1418.3,718.2 1419.8,718.2 1421.2,718.2 1422.7,718.2 1424.1,718.2 1425.6,718.2 1427.0,718.2 1428.5,718.2 1429.9,718.2 1431.4,718.2 1432.8,718.2 1434.2,718.2 1435.7,718.2 1437.1,718.2 1438.6,718.2 1440.0,718.2 1441.5,718.2 1442.9,718.2 1444.4,718.2 1445.8,718.2 1447.3,718.2 1448.7,718.2 1450.2,630.9 1451.6,630.9 1453.1,630.9 1454.5,630.9 1456.0,630.9 1457.4,630.9 1458.9,630.9 1460.3,630.9 1461.8,630.9 1463.2,630.9 1464.7,630.9 1466.1,630.9 1467.6,630.9 1469.0,630.9 1470.4,630.9 1471.9,630.9 1473.3,630.9 1474.8,630.9 1476.2,630.9 1477.7,718.2 1479.1,718.2 1480.6,718.2 1482.0,718.2 1483.5,718.2 1484.9,718.2 1486.4,718.2 1487.8,718.2 1489.3,630.9 1490.7,630.9 1492.2,630.9 1493.6,630.9 1495.1,630.9 1496.5,630.9 1498.0,630.9 1499.4,630.9 1500.9,630.9 1502.3,630.9 1503.8,630.9 1505.2,630.9 1506.6,630.9 1508.1,630.9 1509.5,630.9 1511.0,630.9 1512.4,630.9 1513.9,630.9 1515.3,630.9 1516.8,630.9 1518.2,630.9 1519.7,630.9 1521.1,630.9 1522.6,630.9 1524.0,630.9 1525.5,630.9 1526.9,630.9 1528.4,630.9 1529.8,630.9 1531.3,630.9 1532.7,630.9 1534.2,630.9 1535.6,630.9 1537.1,630.9 1538.5,718.2 1540.0,718.2 1541.4,718.2 1542.8,718.2 1544.3,718.2 1545.7,718.2 1547.2,718.2 1548.6,718.2 1550.1,718.2 1551.5,630.9 1553.0,630.9 1554.4,630.9 1555.9,630.9 1557.3,630.9 1558.8,630.9 1560.2,630.9 1561.7,630.9 1563.1,630.9 1564.6,630.9 1566.0,630.9 1567.5,630.9 1568.9,630.9 1570.4,630.9 1571.8,630.9 1573.3,630.9 1574.7,630.9 1576.2,630.9 1577.6,630.9" stroke="#1f77b4" stroke-width="6" stroke-linecap="square"/><polyline points="1288.0,630.9 1289.4,630.9 1290.9,630.9 1292.3,630.9 1293.8,630.9 1295.2,630.9 1296.7,630.9 1298.1,630.9 1299.6,630.9 1301.0,630.9 1302.5,630.9 1303.9,630.9 1305.4,630.9 1306.8,630.9 1308.3,630.9 1309.7,630.9 1311.2,630.9 1312.6,630.9 1314.1,630.9 1315.5,630.9 1317.0,630.9 1318.4,630.9 1319.9,630.9 1321.3,630.9 1322.8,630.9 1324.2,630.9 1325.6,630.9 1327.1,630.9 1328.5,718.2 1330.0,718.2 1331.4,718.2 1332.9,718.2 1334.3,718.2 1335.8,718.2 1337.2,718.2 1338.7,718.2 1340.1,718.2 1341.6,718.2 1343.0,718.2 1344.5,718.2 1345.9,718.2 1347.4,718.2 1348.8,718.2 1350.3,630.9 1351.7,630.9 1353.2,630.9 1354.6,630.9 1356.1,630.9 1357.5,630.9 1359.0,630.9 1360.4,630.9 1361.8,630.9 1363.3,630.9 1364.7,630.9 1366.2,718.2 1367.6,718.2 1369.1,630.9 1370.5,630.9 1372.0,630.9 1373.4,630.9 1374.9,630.9 1376.3,630.9 1377.8,630.9 1379.2,630.9 1380.7,630.9 1382.1,630.9 1383.6,630.9 1385.0,630.9 1386.5,630.9 1387.9,630.9 1389.4,718.2 1390.8,718.2 1392.3,718.2 1393.7,718.2 1395.2,718.2 1396.6,718.2 1398.0,718.2 1399.5,630.9 1400.9,718.2 1402.4,718.2 1403.8,718.2 1405.3,718.2 1406.7,718.2 1408.2,718.2 1409.6,718.2 1411.1,718.2 1412.5,718.2 1414.0,718.2 1415.4,718.2 1416.9,718.2 1418.3,718.2 1419.8,718.2 1421.2,718.2 1422.7,718.2 1424.1,718.2 1425.6,718.2 1427.0,718.2 1428.5,718.2 1429.9,718.2 1431.4,718.2 1432.8,718.2 1434.2,718.2 1435.7,718.2 1437.1,718.2 1438.6,718.2 1440.0,718.2 1441.5,718.2 1442.9,718.2 1444.4,718.2 1445.8,718.2 1447.3,718.2 1448.7,718.2 1450.2,630.9 1451.6,630.9 1453.1,630.9 1454.5,630.9 1456.0,630.9 1457.4,630.9 1458.9,630.9 1460.3,630.9 1461.8,630.9 1463.2,630.9 1464.7,630.9 1466.1,630.9 1467.6,630.9 1469.0,630.9 1470.4,630.9 1471.9,630.9 1473.3,630.9 1474.8,630.9 1476.2,630.9 1477.7,718.2 1479.1,718.2 1480.6,718.2 1482.0,718.2 1483.5,718.2 1484.9,718.2 1486.4,718.2 1487.8,718.2 1489.3,630.9 1490.7,630.9 1492.2,630.9 1493.6,630.9 1495.1,630.9 1496.5,630.9 1498.0,630.9 1499.4,630.9 1500.9,630.9 1502.3,630.9 1503.8,630.9 1505.2,630.9 1506.6,630.9 1508.1,630.9 1509.5,630.9 1511.0,630.9 1512.4,630.9 1513.9,630.9 1515.3,630.9 1516.8,630.9 1518.2,630.9 1519.7,630.9 1521.1,630.9 1522.6,630.9 1524.0,630.9 1525.5,630.9 1526.9,630.9 1528.4,630.9 1529.8,630.9 1531.3,630.9 1532.7,630.9 1534.2,630.9 1535.6,630.9 1537.1,630.9 1538.5,718.2 1540.0,718.2 1541.4,718.2 1542.8,718.2 1544.3,718.2 1545.7,718.2 1547.2,718.2 1548.6,718.2 1550.1,718.2 1551.5,630.9 1553.0,630.9 1554.4,630.9 1555.9,630.9 1557.3,630.9 1558.8,630.9 1560.2,630.9 1561.7,630.9 1563.1,630.9 1564.6,630.9 1566.0,630.9 1567.5,630.9 1568.9,630.9 1570.4,630.9 1571.8,630.9 1573.3,630.9 1574.7,630.9 1576.2,630.9 1577.6,630.9" stroke="#ff7f0e" stroke-width="5.7" stroke-dasharray="5.6 9.2" stroke-linecap="butt"/></g><rect x="1273.50" y="588.20" width="317.00" height="172.30" fill="none" stroke="#000" stroke-width="2.9" stroke-linejoin="miter" stroke-linecap="square"/><line x1="1260.10" y1="718.20" x2="1273.50" y2="718.20" stroke="#000" stroke-width="2.9"/><line x1="1260.10" y1="630.90" x2="1273.50" y2="630.90" stroke="#000" stroke-width="2.9"/><line x1="1288.00" y1="760.50" x2="1288.00" y2="773.10" stroke="#000" stroke-width="2.9"/><line x1="1432.80" y1="760.50" x2="1432.80" y2="773.10" stroke="#000" stroke-width="2.9"/><line x1="1577.60" y1="760.50" x2="1577.60" y2="773.10" stroke="#000" stroke-width="2.9"/><text x="1231.34" y="640.40" font-size="26.80" textLength="15.41" lengthAdjust="spacingAndGlyphs" fill="#000">1</text><text x="1231.92" y="727.70" font-size="26.80" textLength="15.41" lengthAdjust="spacingAndGlyphs" fill="#000">0</text><text x="1280.30" y="806.10" font-size="26.80" textLength="15.41" lengthAdjust="spacingAndGlyphs" fill="#000">0</text><text x="1408.99" y="806.10" font-size="26.80" textLength="46.23" lengthAdjust="spacingAndGlyphs" fill="#000">100</text><text x="1554.41" y="806.10" font-size="26.80" textLength="46.23" lengthAdjust="spacingAndGlyphs" fill="#000">200</text><text x="1355.03" y="849.60" font-size="29.50" textLength="152.93" lengthAdjust="spacingAndGlyphs" fill="#000">time (a.u.)</text><text transform="translate(1209.30,675.10) rotate(-90)" x="-37.3" y="0" font-size="29" textLength="74.6" lengthAdjust="spacingAndGlyphs"><tspan font-style="italic">χ</tspan>(<tspan font-style="italic">x</tspan><tspan font-size="20" font-style="italic" dy="4.5">t</tspan><tspan dy="-4.5">)</tspan></text><text x="1179.38" y="553.00" font-size="40.00" font-weight="bold" textLength="44.76" lengthAdjust="spacingAndGlyphs" fill="#000">(f)</text><text x="1318.71" y="565.60" font-size="47.50" textLength="224.63" lengthAdjust="spacingAndGlyphs" fill="#000">100.0% acc.</text><clipPath id="tj"><rect x="101.50" y="1467.40" width="317.00" height="172.30"/></clipPath><g clip-path="url(#tj)" fill="none" stroke-linejoin="round"><polyline points="116.0,1512.7 117.4,1526.9 118.9,1520.4 120.3,1530.4 121.8,1518.5 123.2,1525.5 124.7,1517.6 126.1,1511.5 127.6,1519.8 129.0,1515.8 130.5,1518.2 131.9,1521.6 133.4,1523.7 134.8,1518.4 136.3,1520.4 137.7,1531.7 139.2,1519.0 140.6,1512.3 142.1,1511.0 143.5,1519.5 145.0,1513.6 146.4,1519.7 147.9,1518.5 149.3,1517.8 150.8,1514.7 152.2,1513.9 153.6,1521.1 155.1,1522.6 156.5,1603.4 158.0,1600.3 159.4,1601.4 160.9,1602.8 162.3,1601.0 163.8,1594.7 165.2,1600.8 166.7,1600.0 168.1,1595.2 169.6,1603.6 171.0,1601.3 172.5,1599.8 173.9,1610.3 175.4,1600.4 176.8,1601.8 178.3,1521.8 179.7,1525.6 181.2,1524.0 182.6,1524.3 184.1,1521.4 185.5,1527.7 187.0,1524.0 188.4,1525.6 189.8,1514.8 191.3,1529.9 192.7,1528.9 194.2,1604.9 195.6,1602.2 197.1,1518.8 198.5,1513.1 200.0,1517.5 201.4,1516.0 202.9,1505.7 204.3,1514.4 205.8,1517.0 207.2,1516.8 208.7,1517.3 210.1,1516.2 211.6,1518.3 213.0,1516.3 214.5,1508.7 215.9,1515.5 217.4,1606.5 218.8,1600.4 220.3,1610.8 221.7,1604.5 223.2,1603.4 224.6,1601.0 226.0,1611.0 227.5,1521.8 228.9,1604.8 230.4,1607.7 231.8,1610.4 233.3,1616.1 234.7,1604.1 236.2,1602.1 237.6,1600.0 239.1,1604.2 240.5,1600.2 242.0,1611.1 243.4,1611.6 244.9,1605.5 246.3,1604.9 247.8,1598.3 249.2,1599.9 250.7,1610.1 252.1,1595.0 253.6,1596.1 255.0,1612.5 256.5,1606.3 257.9,1595.2 259.4,1612.1 260.8,1605.7 262.2,1606.2 263.7,1606.9 265.1,1605.1 266.6,1605.5 268.0,1600.7 269.5,1600.3 270.9,1608.2 272.4,1602.7 273.8,1608.0 275.3,1604.5 276.7,1607.4 278.2,1516.8 279.6,1525.9 281.1,1513.0 282.5,1523.5 284.0,1529.5 285.4,1519.1 286.9,1521.3 288.3,1511.5 289.8,1520.4 291.2,1526.1 292.7,1518.8 294.1,1522.1 295.6,1525.5 297.0,1518.3 298.4,1518.7 299.9,1513.2 301.3,1512.6 302.8,1517.3 304.2,1523.5 305.7,1610.6 307.1,1612.9 308.6,1601.2 310.0,1601.7 311.5,1603.5 312.9,1600.9 314.4,1608.1 315.8,1600.3 317.3,1514.0 318.7,1513.8 320.2,1520.3 321.6,1520.1 323.1,1513.1 324.5,1517.4 326.0,1516.1 327.4,1518.4 328.9,1513.6 330.3,1512.9 331.8,1511.6 333.2,1514.6 334.6,1511.6 336.1,1512.8 337.5,1513.4 339.0,1520.2 340.4,1517.2 341.9,1517.1 343.3,1514.0 344.8,1519.6 346.2,1514.6 347.7,1517.6 349.1,1516.6 350.6,1525.8 352.0,1517.8 353.5,1525.0 354.9,1511.7 356.4,1519.5 357.8,1516.7 359.3,1515.5 360.7,1513.7 362.2,1511.7 363.6,1520.3 365.1,1516.1 366.5,1609.2 368.0,1613.4 369.4,1611.6 370.8,1614.4 372.3,1618.1 373.7,1606.3 375.2,1604.2 376.6,1613.0 378.1,1610.7 379.5,1519.5 381.0,1528.9 382.4,1521.1 383.9,1492.6 385.3,1519.0 386.8,1522.5 388.2,1522.2 389.7,1520.0 391.1,1516.3 392.6,1518.1 394.0,1514.3 395.5,1519.7 396.9,1513.2 398.4,1516.5 399.8,1522.0 401.3,1525.6 402.7,1528.4 404.2,1521.7 405.6,1513.2" stroke="#1f77b4" stroke-opacity="0.3" stroke-width="6" stroke-linecap="square"/><polyline points="116.0,1510.1 117.4,1510.1 118.9,1510.1 120.3,1510.1 121.8,1510.1 123.2,1510.1 124.7,1510.1 126.1,1510.1 127.6,1510.1 129.0,1510.1 130.5,1510.1 131.9,1510.1 133.4,1510.1 134.8,1510.1 136.3,1510.1 137.7,1510.1 139.2,1510.1 140.6,1510.1 142.1,1510.1 143.5,1510.1 145.0,1510.1 146.4,1510.1 147.9,1510.1 149.3,1510.1 150.8,1510.1 152.2,1510.1 153.6,1510.1 155.1,1510.1 156.5,1597.4 158.0,1597.4 159.4,1597.4 160.9,1597.4 162.3,1597.4 163.8,1597.4 165.2,1597.4 166.7,1597.4 168.1,1597.4 169.6,1597.4 171.0,1597.4 172.5,1597.4 173.9,1597.4 175.4,1597.4 176.8,1597.4 178.3,1510.1 179.7,1510.1 181.2,1510.1 182.6,1510.1 184.1,1510.1 185.5,1510.1 187.0,1510.1 188.4,1510.1 189.8,1510.1 191.3,1510.1 192.7,1510.1 194.2,1597.4 195.6,1597.4 197.1,1510.1 198.5,1510.1 200.0,1510.1 201.4,1510.1 202.9,1510.1 204.3,1510.1 205.8,1510.1 207.2,1510.1 208.7,1510.1 210.1,1510.1 211.6,1510.1 213.0,1510.1 214.5,1510.1 215.9,1510.1 217.4,1597.4 218.8,1597.4 220.3,1597.4 221.7,1597.4 223.2,1597.4 224.6,1597.4 226.0,1597.4 227.5,1510.1 228.9,1597.4 230.4,1597.4 231.8,1597.4 233.3,1597.4 234.7,1597.4 236.2,1597.4 237.6,1597.4 239.1,1597.4 240.5,1597.4 242.0,1597.4 243.4,1597.4 244.9,1597.4 246.3,1597.4 247.8,1597.4 249.2,1597.4 250.7,1597.4 252.1,1597.4 253.6,1597.4 255.0,1597.4 256.5,1597.4 257.9,1597.4 259.4,1597.4 260.8,1597.4 262.2,1597.4 263.7,1597.4 265.1,1597.4 266.6,1597.4 268.0,1597.4 269.5,1597.4 270.9,1597.4 272.4,1597.4 273.8,1597.4 275.3,1597.4 276.7,1597.4 278.2,1510.1 279.6,1510.1 281.1,1510.1 282.5,1510.1 284.0,1510.1 285.4,1510.1 286.9,1510.1 288.3,1510.1 289.8,1510.1 291.2,1510.1 292.7,1510.1 294.1,1510.1 295.6,1510.1 297.0,1510.1 298.4,1510.1 299.9,1510.1 301.3,1510.1 302.8,1510.1 304.2,1510.1 305.7,1597.4 307.1,1597.4 308.6,1597.4 310.0,1597.4 311.5,1597.4 312.9,1597.4 314.4,1597.4 315.8,1597.4 317.3,1510.1 318.7,1510.1 320.2,1510.1 321.6,1510.1 323.1,1510.1 324.5,1510.1 326.0,1510.1 327.4,1510.1 328.9,1510.1 330.3,1510.1 331.8,1510.1 333.2,1510.1 334.6,1510.1 336.1,1510.1 337.5,1510.1 339.0,1510.1 340.4,1510.1 341.9,1510.1 343.3,1510.1 344.8,1510.1 346.2,1510.1 347.7,1510.1 349.1,1510.1 350.6,1510.1 352.0,1510.1 353.5,1510.1 354.9,1510.1 356.4,1510.1 357.8,1510.1 359.3,1510.1 360.7,1510.1 362.2,1510.1 363.6,1510.1 365.1,1510.1 366.5,1597.4 368.0,1597.4 369.4,1597.4 370.8,1597.4 372.3,1597.4 373.7,1597.4 375.2,1597.4 376.6,1597.4 378.1,1597.4 379.5,1510.1 381.0,1510.1 382.4,1510.1 383.9,1510.1 385.3,1510.1 386.8,1510.1 388.2,1510.1 389.7,1510.1 391.1,1510.1 392.6,1510.1 394.0,1510.1 395.5,1510.1 396.9,1510.1 398.4,1510.1 399.8,1510.1 401.3,1510.1 402.7,1510.1 404.2,1510.1 405.6,1510.1" stroke="#1f77b4" stroke-width="6" stroke-linecap="square"/><polyline points="116.0,1510.1 117.4,1510.1 118.9,1510.1 120.3,1510.1 121.8,1510.1 123.2,1510.1 124.7,1510.1 126.1,1510.1 127.6,1510.1 129.0,1510.1 130.5,1510.1 131.9,1510.1 133.4,1510.1 134.8,1510.1 136.3,1510.1 137.7,1510.1 139.2,1510.1 140.6,1510.1 142.1,1510.1 143.5,1510.1 145.0,1510.1 146.4,1510.1 147.9,1510.1 149.3,1510.1 150.8,1510.1 152.2,1510.1 153.6,1510.1 155.1,1510.1 156.5,1597.4 158.0,1597.4 159.4,1597.4 160.9,1597.4 162.3,1597.4 163.8,1597.4 165.2,1597.4 166.7,1597.4 168.1,1597.4 169.6,1597.4 171.0,1597.4 172.5,1597.4 173.9,1597.4 175.4,1597.4 176.8,1597.4 178.3,1510.1 179.7,1510.1 181.2,1510.1 182.6,1510.1 184.1,1510.1 185.5,1510.1 187.0,1510.1 188.4,1510.1 189.8,1510.1 191.3,1510.1 192.7,1510.1 194.2,1597.4 195.6,1597.4 197.1,1510.1 198.5,1510.1 200.0,1510.1 201.4,1510.1 202.9,1510.1 204.3,1510.1 205.8,1510.1 207.2,1510.1 208.7,1510.1 210.1,1510.1 211.6,1510.1 213.0,1510.1 214.5,1510.1 215.9,1510.1 217.4,1597.4 218.8,1597.4 220.3,1597.4 221.7,1597.4 223.2,1597.4 224.6,1597.4 226.0,1597.4 227.5,1510.1 228.9,1597.4 230.4,1597.4 231.8,1597.4 233.3,1597.4 234.7,1597.4 236.2,1597.4 237.6,1597.4 239.1,1597.4 240.5,1597.4 242.0,1597.4 243.4,1597.4 244.9,1597.4 246.3,1597.4 247.8,1597.4 249.2,1597.4 250.7,1597.4 252.1,1597.4 253.6,1597.4 255.0,1597.4 256.5,1597.4 257.9,1597.4 259.4,1597.4 260.8,1597.4 262.2,1597.4 263.7,1597.4 265.1,1597.4 266.6,1597.4 268.0,1597.4 269.5,1597.4 270.9,1597.4 272.4,1597.4 273.8,1597.4 275.3,1597.4 276.7,1597.4 278.2,1510.1 279.6,1510.1 281.1,1510.1 282.5,1510.1 284.0,1510.1 285.4,1510.1 286.9,1510.1 288.3,1510.1 289.8,1510.1 291.2,1510.1 292.7,1510.1 294.1,1510.1 295.6,1510.1 297.0,1510.1 298.4,1510.1 299.9,1510.1 301.3,1510.1 302.8,1510.1 304.2,1510.1 305.7,1597.4 307.1,1597.4 308.6,1597.4 310.0,1597.4 311.5,1597.4 312.9,1597.4 314.4,1597.4 315.8,1597.4 317.3,1510.1 318.7,1510.1 320.2,1510.1 321.6,1510.1 323.1,1510.1 324.5,1510.1 326.0,1510.1 327.4,1510.1 328.9,1510.1 330.3,1510.1 331.8,1510.1 333.2,1510.1 334.6,1510.1 336.1,1510.1 337.5,1510.1 339.0,1510.1 340.4,1510.1 341.9,1510.1 343.3,1510.1 344.8,1510.1 346.2,1510.1 347.7,1510.1 349.1,1510.1 350.6,1510.1 352.0,1510.1 353.5,1510.1 354.9,1510.1 356.4,1510.1 357.8,1510.1 359.3,1510.1 360.7,1510.1 362.2,1510.1 363.6,1510.1 365.1,1510.1 366.5,1597.4 368.0,1597.4 369.4,1597.4 370.8,1597.4 372.3,1597.4 373.7,1597.4 375.2,1597.4 376.6,1597.4 378.1,1597.4 379.5,1510.1 381.0,1510.1 382.4,1510.1 383.9,1510.1 385.3,1510.1 386.8,1510.1 388.2,1510.1 389.7,1510.1 391.1,1510.1 392.6,1510.1 394.0,1510.1 395.5,1510.1 396.9,1510.1 398.4,1510.1 399.8,1510.1 401.3,1510.1 402.7,1510.1 404.2,1510.1 405.6,1510.1" stroke="#ff7f0e" stroke-width="5.7" stroke-dasharray="5.6 9.2" stroke-linecap="butt"/></g><rect x="101.50" y="1467.40" width="317.00" height="172.30" fill="none" stroke="#000" stroke-width="2.9" stroke-linejoin="miter" stroke-linecap="square"/><line x1="88.10" y1="1597.40" x2="101.50" y2="1597.40" stroke="#000" stroke-width="2.9"/><line x1="88.10" y1="1510.10" x2="101.50" y2="1510.10" stroke="#000" stroke-width="2.9"/><line x1="116.00" y1="1639.70" x2="116.00" y2="1652.30" stroke="#000" stroke-width="2.9"/><line x1="260.80" y1="1639.70" x2="260.80" y2="1652.30" stroke="#000" stroke-width="2.9"/><line x1="405.60" y1="1639.70" x2="405.60" y2="1652.30" stroke="#000" stroke-width="2.9"/><text x="59.34" y="1519.60" font-size="26.80" textLength="15.41" lengthAdjust="spacingAndGlyphs" fill="#000">1</text><text x="59.92" y="1606.90" font-size="26.80" textLength="15.41" lengthAdjust="spacingAndGlyphs" fill="#000">0</text><text x="108.30" y="1685.30" font-size="26.80" textLength="15.41" lengthAdjust="spacingAndGlyphs" fill="#000">0</text><text x="236.99" y="1685.30" font-size="26.80" textLength="46.23" lengthAdjust="spacingAndGlyphs" fill="#000">100</text><text x="382.41" y="1685.30" font-size="26.80" textLength="46.23" lengthAdjust="spacingAndGlyphs" fill="#000">200</text><text x="183.03" y="1728.80" font-size="29.50" textLength="152.93" lengthAdjust="spacingAndGlyphs" fill="#000">time (a.u.)</text><text transform="translate(37.30,1554.30) rotate(-90)" x="-37.3" y="0" font-size="29" textLength="74.6" lengthAdjust="spacingAndGlyphs"><tspan font-style="italic">χ</tspan>(<tspan font-style="italic">x</tspan><tspan font-size="20" font-style="italic" dy="4.5">t</tspan><tspan dy="-4.5">)</tspan></text><text x="7.38" y="1432.20" font-size="40.00" font-weight="bold" textLength="44.76" lengthAdjust="spacingAndGlyphs" fill="#000">(j)</text><text x="158.72" y="1444.80" font-size="47.50" textLength="202.54" lengthAdjust="spacingAndGlyphs" fill="#000">99.9% acc.</text><clipPath id="tk"><rect x="687.50" y="1467.40" width="317.00" height="172.30"/></clipPath><g clip-path="url(#tk)" fill="none" stroke-linejoin="round"><polyline points="702.0,1512.7 703.4,1516.9 704.9,1514.6 706.3,1531.9 707.8,1552.8 709.2,1524.9 710.7,1555.6 712.1,1515.8 713.6,1530.0 715.0,1561.8 716.5,1521.4 717.9,1539.3 719.4,1524.1 720.8,1518.4 722.3,1515.9 723.7,1521.6 725.2,1514.0 726.6,1538.2 728.1,1515.9 729.5,1527.9 731.0,1514.4 732.4,1527.2 733.9,1516.5 735.3,1524.8 736.8,1514.6 738.2,1525.7 739.6,1523.5 741.1,1532.4 742.5,1622.9 744.0,1602.9 745.4,1612.4 746.9,1616.6 748.3,1608.0 749.8,1604.9 751.2,1585.6 752.7,1614.0 754.1,1602.8 755.6,1601.3 757.0,1601.7 758.5,1600.9 759.9,1603.0 761.4,1606.5 762.8,1603.9 764.3,1516.0 765.7,1519.0 767.2,1515.0 768.6,1513.3 770.1,1565.6 771.5,1514.4 773.0,1516.0 774.4,1521.4 775.8,1513.6 777.3,1513.4 778.7,1514.7 780.2,1601.4 781.6,1605.4 783.1,1532.9 784.5,1526.0 786.0,1525.3 787.4,1520.1 788.9,1517.4 790.3,1518.1 791.8,1520.3 793.2,1523.0 794.7,1529.1 796.1,1520.7 797.6,1545.6 799.0,1513.5 800.5,1514.9 801.9,1515.9 803.4,1607.5 804.8,1601.9 806.3,1616.5 807.7,1603.7 809.2,1609.2 810.6,1606.0 812.0,1608.1 813.5,1535.4 814.9,1618.5 816.4,1608.6 817.8,1602.0 819.3,1602.8 820.7,1602.2 822.2,1615.6 823.6,1605.2 825.1,1604.0 826.5,1604.3 828.0,1606.4 829.4,1616.9 830.9,1613.0 832.3,1614.3 833.8,1603.2 835.2,1612.3 836.7,1607.3 838.1,1601.5 839.6,1604.3 841.0,1603.9 842.5,1610.1 843.9,1606.8 845.4,1609.4 846.8,1607.9 848.2,1609.9 849.7,1601.7 851.1,1613.4 852.6,1606.5 854.0,1606.5 855.5,1602.9 856.9,1609.9 858.4,1610.0 859.8,1602.3 861.3,1605.5 862.7,1611.0 864.2,1514.2 865.6,1526.1 867.1,1523.6 868.5,1519.1 870.0,1518.9 871.4,1517.8 872.9,1552.6 874.3,1518.9 875.8,1513.6 877.2,1523.8 878.7,1547.2 880.1,1544.2 881.6,1524.7 883.0,1512.8 884.4,1526.3 885.9,1524.2 887.3,1542.3 888.8,1536.5 890.2,1534.0 891.7,1617.1 893.1,1610.5 894.6,1606.9 896.0,1609.0 897.5,1604.0 898.9,1606.1 900.4,1606.8 901.8,1604.0 903.3,1514.9 904.7,1516.1 906.2,1514.1 907.6,1516.8 909.1,1517.2 910.5,1531.5 912.0,1521.3 913.4,1532.9 914.9,1523.8 916.3,1514.8 917.8,1513.6 919.2,1544.2 920.6,1513.2 922.1,1529.3 923.5,1519.3 925.0,1520.0 926.4,1526.4 927.9,1521.7 929.3,1513.7 930.8,1521.9 932.2,1513.3 933.7,1550.7 935.1,1523.0 936.6,1516.6 938.0,1517.8 939.5,1534.6 940.9,1521.2 942.4,1523.6 943.8,1523.5 945.3,1518.7 946.7,1528.7 948.2,1513.5 949.6,1532.8 951.1,1524.4 952.5,1609.1 954.0,1611.8 955.4,1613.6 956.8,1597.6 958.3,1624.6 959.7,1604.4 961.2,1612.9 962.6,1632.5 964.1,1614.4 965.5,1516.6 967.0,1517.9 968.4,1515.5 969.9,1515.6 971.3,1520.3 972.8,1518.0 974.2,1515.2 975.7,1530.5 977.1,1515.0 978.6,1527.3 980.0,1518.8 981.5,1521.2 982.9,1519.1 984.4,1525.6 985.8,1528.7 987.3,1520.0 988.7,1526.3 990.2,1534.4 991.6,1514.8" stroke="#1f77b4" stroke-opacity="0.3" stroke-width="6" stroke-linecap="square"/><polyline points="702.0,1510.1 703.4,1510.1 704.9,1510.1 706.3,1510.1 707.8,1510.1 709.2,1510.1 710.7,1510.1 712.1,1510.1 713.6,1510.1 715.0,1510.1 716.5,1510.1 717.9,1510.1 719.4,1510.1 720.8,1510.1 722.3,1510.1 723.7,1510.1 725.2,1510.1 726.6,1510.1 728.1,1510.1 729.5,1510.1 731.0,1510.1 732.4,1510.1 733.9,1510.1 735.3,1510.1 736.8,1510.1 738.2,1510.1 739.6,1510.1 741.1,1510.1 742.5,1597.4 744.0,1597.4 745.4,1597.4 746.9,1597.4 748.3,1597.4 749.8,1597.4 751.2,1597.4 752.7,1597.4 754.1,1597.4 755.6,1597.4 757.0,1597.4 758.5,1597.4 759.9,1597.4 761.4,1597.4 762.8,1597.4 764.3,1510.1 765.7,1510.1 767.2,1510.1 768.6,1510.1 770.1,1510.1 771.5,1510.1 773.0,1510.1 774.4,1510.1 775.8,1510.1 777.3,1510.1 778.7,1510.1 780.2,1597.4 781.6,1597.4 783.1,1510.1 784.5,1510.1 786.0,1510.1 787.4,1510.1 788.9,1510.1 790.3,1510.1 791.8,1510.1 793.2,1510.1 794.7,1510.1 796.1,1510.1 797.6,1510.1 799.0,1510.1 800.5,1510.1 801.9,1510.1 803.4,1597.4 804.8,1597.4 806.3,1597.4 807.7,1597.4 809.2,1597.4 810.6,1597.4 812.0,1597.4 813.5,1510.1 814.9,1597.4 816.4,1597.4 817.8,1597.4 819.3,1597.4 820.7,1597.4 822.2,1597.4 823.6,1597.4 825.1,1597.4 826.5,1597.4 828.0,1597.4 829.4,1597.4 830.9,1597.4 832.3,1597.4 833.8,1597.4 835.2,1597.4 836.7,1597.4 838.1,1597.4 839.6,1597.4 841.0,1597.4 842.5,1597.4 843.9,1597.4 845.4,1597.4 846.8,1597.4 848.2,1597.4 849.7,1597.4 851.1,1597.4 852.6,1597.4 854.0,1597.4 855.5,1597.4 856.9,1597.4 858.4,1597.4 859.8,1597.4 861.3,1597.4 862.7,1597.4 864.2,1510.1 865.6,1510.1 867.1,1510.1 868.5,1510.1 870.0,1510.1 871.4,1510.1 872.9,1510.1 874.3,1510.1 875.8,1510.1 877.2,1510.1 878.7,1510.1 880.1,1510.1 881.6,1510.1 883.0,1510.1 884.4,1510.1 885.9,1510.1 887.3,1510.1 888.8,1510.1 890.2,1510.1 891.7,1597.4 893.1,1597.4 894.6,1597.4 896.0,1597.4 897.5,1597.4 898.9,1597.4 900.4,1597.4 901.8,1597.4 903.3,1510.1 904.7,1510.1 906.2,1510.1 907.6,1510.1 909.1,1510.1 910.5,1510.1 912.0,1510.1 913.4,1510.1 914.9,1510.1 916.3,1510.1 917.8,1510.1 919.2,1510.1 920.6,1510.1 922.1,1510.1 923.5,1510.1 925.0,1510.1 926.4,1510.1 927.9,1510.1 929.3,1510.1 930.8,1510.1 932.2,1510.1 933.7,1510.1 935.1,1510.1 936.6,1510.1 938.0,1510.1 939.5,1510.1 940.9,1510.1 942.4,1510.1 943.8,1510.1 945.3,1510.1 946.7,1510.1 948.2,1510.1 949.6,1510.1 951.1,1510.1 952.5,1597.4 954.0,1597.4 955.4,1597.4 956.8,1597.4 958.3,1597.4 959.7,1597.4 961.2,1597.4 962.6,1597.4 964.1,1597.4 965.5,1510.1 967.0,1510.1 968.4,1510.1 969.9,1510.1 971.3,1510.1 972.8,1510.1 974.2,1510.1 975.7,1510.1 977.1,1510.1 978.6,1510.1 980.0,1510.1 981.5,1510.1 982.9,1510.1 984.4,1510.1 985.8,1510.1 987.3,1510.1 988.7,1510.1 990.2,1510.1 991.6,1510.1" stroke="#1f77b4" stroke-width="6" stroke-linecap="square"/><polyline points="702.0,1510.1 703.4,1510.1 704.9,1510.1 706.3,1510.1 707.8,1510.1 709.2,1510.1 710.7,1510.1 712.1,1510.1 713.6,1510.1 715.0,1510.1 716.5,1510.1 717.9,1510.1 719.4,1510.1 720.8,1510.1 722.3,1510.1 723.7,1510.1 725.2,1510.1 726.6,1510.1 728.1,1510.1 729.5,1510.1 731.0,1510.1 732.4,1510.1 733.9,1510.1 735.3,1510.1 736.8,1510.1 738.2,1510.1 739.6,1510.1 741.1,1510.1 742.5,1597.4 744.0,1597.4 745.4,1597.4 746.9,1597.4 748.3,1597.4 749.8,1597.4 751.2,1597.4 752.7,1597.4 754.1,1597.4 755.6,1597.4 757.0,1597.4 758.5,1597.4 759.9,1597.4 761.4,1597.4 762.8,1597.4 764.3,1510.1 765.7,1510.1 767.2,1510.1 768.6,1510.1 770.1,1510.1 771.5,1510.1 773.0,1510.1 774.4,1510.1 775.8,1510.1 777.3,1510.1 778.7,1510.1 780.2,1597.4 781.6,1597.4 783.1,1510.1 784.5,1510.1 786.0,1510.1 787.4,1510.1 788.9,1510.1 790.3,1510.1 791.8,1510.1 793.2,1510.1 794.7,1510.1 796.1,1510.1 797.6,1510.1 799.0,1510.1 800.5,1510.1 801.9,1510.1 803.4,1597.4 804.8,1597.4 806.3,1597.4 807.7,1597.4 809.2,1597.4 810.6,1597.4 812.0,1597.4 813.5,1510.1 814.9,1597.4 816.4,1597.4 817.8,1597.4 819.3,1597.4 820.7,1597.4 822.2,1597.4 823.6,1597.4 825.1,1597.4 826.5,1597.4 828.0,1597.4 829.4,1597.4 830.9,1597.4 832.3,1597.4 833.8,1597.4 835.2,1597.4 836.7,1597.4 838.1,1597.4 839.6,1597.4 841.0,1597.4 842.5,1597.4 843.9,1597.4 845.4,1597.4 846.8,1597.4 848.2,1597.4 849.7,1597.4 851.1,1597.4 852.6,1597.4 854.0,1597.4 855.5,1597.4 856.9,1597.4 858.4,1597.4 859.8,1597.4 861.3,1597.4 862.7,1597.4 864.2,1510.1 865.6,1510.1 867.1,1510.1 868.5,1510.1 870.0,1510.1 871.4,1510.1 872.9,1510.1 874.3,1510.1 875.8,1510.1 877.2,1510.1 878.7,1510.1 880.1,1510.1 881.6,1510.1 883.0,1510.1 884.4,1510.1 885.9,1510.1 887.3,1510.1 888.8,1510.1 890.2,1510.1 891.7,1597.4 893.1,1597.4 894.6,1597.4 896.0,1597.4 897.5,1597.4 898.9,1597.4 900.4,1597.4 901.8,1597.4 903.3,1510.1 904.7,1510.1 906.2,1510.1 907.6,1510.1 909.1,1510.1 910.5,1510.1 912.0,1510.1 913.4,1510.1 914.9,1510.1 916.3,1510.1 917.8,1510.1 919.2,1510.1 920.6,1510.1 922.1,1510.1 923.5,1510.1 925.0,1510.1 926.4,1510.1 927.9,1510.1 929.3,1510.1 930.8,1510.1 932.2,1510.1 933.7,1510.1 935.1,1510.1 936.6,1510.1 938.0,1510.1 939.5,1510.1 940.9,1510.1 942.4,1510.1 943.8,1510.1 945.3,1510.1 946.7,1510.1 948.2,1510.1 949.6,1510.1 951.1,1510.1 952.5,1597.4 954.0,1597.4 955.4,1597.4 956.8,1597.4 958.3,1597.4 959.7,1597.4 961.2,1597.4 962.6,1597.4 964.1,1597.4 965.5,1510.1 967.0,1510.1 968.4,1510.1 969.9,1510.1 971.3,1510.1 972.8,1510.1 974.2,1510.1 975.7,1510.1 977.1,1510.1 978.6,1510.1 980.0,1510.1 981.5,1510.1 982.9,1510.1 984.4,1510.1 985.8,1510.1 987.3,1510.1 988.7,1510.1 990.2,1510.1 991.6,1510.1" stroke="#ff7f0e" stroke-width="5.7" stroke-dasharray="5.6 9.2" stroke-linecap="butt"/></g><rect x="687.50" y="1467.40" width="317.00" height="172.30" fill="none" stroke="#000" stroke-width="2.9" stroke-linejoin="miter" stroke-linecap="square"/><line x1="674.10" y1="1597.40" x2="687.50" y2="1597.40" stroke="#000" stroke-width="2.9"/><line x1="674.10" y1="1510.10" x2="687.50" y2="1510.10" stroke="#000" stroke-width="2.9"/><line x1="702.00" y1="1639.70" x2="702.00" y2="1652.30" stroke="#000" stroke-width="2.9"/><line x1="846.80" y1="1639.70" x2="846.80" y2="1652.30" stroke="#000" stroke-width="2.9"/><line x1="991.60" y1="1639.70" x2="991.60" y2="1652.30" stroke="#000" stroke-width="2.9"/><text x="645.34" y="1519.60" font-size="26.80" textLength="15.41" lengthAdjust="spacingAndGlyphs" fill="#000">1</text><text x="645.92" y="1606.90" font-size="26.80" textLength="15.41" lengthAdjust="spacingAndGlyphs" fill="#000">0</text><text x="694.29" y="1685.30" font-size="26.80" textLength="15.41" lengthAdjust="spacingAndGlyphs" fill="#000">0</text><text x="822.99" y="1685.30" font-size="26.80" textLength="46.23" lengthAdjust="spacingAndGlyphs" fill="#000">100</text><text x="968.41" y="1685.30" font-size="26.80" textLength="46.23" lengthAdjust="spacingAndGlyphs" fill="#000">200</text><text x="769.03" y="1728.80" font-size="29.50" textLength="152.93" lengthAdjust="spacingAndGlyphs" fill="#000">time (a.u.)</text><text transform="translate(623.30,1554.30) rotate(-90)" x="-37.3" y="0" font-size="29" textLength="74.6" lengthAdjust="spacingAndGlyphs"><tspan font-style="italic">χ</tspan>(<tspan font-style="italic">x</tspan><tspan font-size="20" font-style="italic" dy="4.5">t</tspan><tspan dy="-4.5">)</tspan></text><text x="593.38" y="1432.20" font-size="40.00" font-weight="bold" textLength="54.76" lengthAdjust="spacingAndGlyphs" fill="#000">(k)</text><text x="732.71" y="1444.80" font-size="47.50" textLength="224.63" lengthAdjust="spacingAndGlyphs" fill="#000">100.0% acc.</text><clipPath id="tl"><rect x="1273.50" y="1467.40" width="317.00" height="172.30"/></clipPath><g clip-path="url(#tl)" fill="none" stroke-linejoin="round"><polyline points="1288.0,1512.7 1289.4,1514.9 1290.9,1517.6 1292.3,1523.9 1293.8,1517.1 1295.2,1512.8 1296.7,1518.7 1298.1,1514.5 1299.6,1518.0 1301.0,1514.5 1302.5,1513.6 1303.9,1514.9 1305.4,1515.0 1306.8,1514.8 1308.3,1515.5 1309.7,1513.7 1311.2,1513.8 1312.6,1515.8 1314.1,1513.0 1315.5,1517.9 1317.0,1513.5 1318.4,1516.9 1319.9,1517.5 1321.3,1518.5 1322.8,1514.3 1324.2,1512.9 1325.6,1521.7 1327.1,1512.9 1328.5,1609.0 1330.0,1610.4 1331.4,1601.5 1332.9,1601.3 1334.3,1603.0 1335.8,1605.0 1337.2,1602.2 1338.7,1604.8 1340.1,1602.6 1341.6,1603.8 1343.0,1605.3 1344.5,1603.7 1345.9,1601.1 1347.4,1600.9 1348.8,1602.9 1350.3,1516.4 1351.7,1515.9 1353.2,1513.2 1354.6,1517.9 1356.1,1513.5 1357.5,1518.4 1359.0,1522.1 1360.4,1515.4 1361.8,1513.3 1363.3,1518.5 1364.7,1520.1 1366.2,1604.4 1367.6,1604.7 1369.1,1514.6 1370.5,1514.4 1372.0,1515.5 1373.4,1514.2 1374.9,1513.7 1376.3,1514.9 1377.8,1521.7 1379.2,1518.7 1380.7,1513.3 1382.1,1513.2 1383.6,1514.5 1385.0,1513.8 1386.5,1515.7 1387.9,1516.9 1389.4,1602.9 1390.8,1601.5 1392.3,1602.4 1393.7,1604.9 1395.2,1608.0 1396.6,1603.5 1398.0,1605.2 1399.5,1519.8 1400.9,1602.6 1402.4,1601.3 1403.8,1602.7 1405.3,1607.7 1406.7,1602.6 1408.2,1602.1 1409.6,1604.3 1411.1,1602.5 1412.5,1601.6 1414.0,1604.9 1415.4,1605.3 1416.9,1602.4 1418.3,1606.7 1419.8,1601.2 1421.2,1601.7 1422.7,1604.7 1424.1,1612.4 1425.6,1604.8 1427.0,1604.3 1428.5,1601.8 1429.9,1608.5 1431.4,1602.2 1432.8,1601.0 1434.2,1604.7 1435.7,1605.5 1437.1,1601.2 1438.6,1602.5 1440.0,1607.6 1441.5,1603.2 1442.9,1602.2 1444.4,1605.5 1445.8,1606.4 1447.3,1601.3 1448.7,1601.4 1450.2,1516.4 1451.6,1522.0 1453.1,1516.1 1454.5,1513.2 1456.0,1517.2 1457.4,1514.1 1458.9,1513.5 1460.3,1514.7 1461.8,1515.2 1463.2,1520.5 1464.7,1513.4 1466.1,1515.3 1467.6,1513.0 1469.0,1514.4 1470.4,1514.4 1471.9,1513.8 1473.3,1515.1 1474.8,1521.4 1476.2,1513.1 1477.7,1606.7 1479.1,1604.0 1480.6,1603.1 1482.0,1601.2 1483.5,1607.2 1484.9,1603.7 1486.4,1604.2 1487.8,1604.9 1489.3,1518.8 1490.7,1514.1 1492.2,1525.5 1493.6,1515.3 1495.1,1517.1 1496.5,1518.5 1498.0,1513.1 1499.4,1513.2 1500.9,1513.7 1502.3,1519.6 1503.8,1517.4 1505.2,1516.7 1506.6,1517.7 1508.1,1513.8 1509.5,1518.5 1511.0,1514.5 1512.4,1518.8 1513.9,1519.6 1515.3,1514.5 1516.8,1514.6 1518.2,1520.0 1519.7,1512.8 1521.1,1517.5 1522.6,1515.4 1524.0,1513.8 1525.5,1517.2 1526.9,1518.3 1528.4,1515.9 1529.8,1515.5 1531.3,1513.0 1532.7,1515.2 1534.2,1520.0 1535.6,1519.9 1537.1,1520.5 1538.5,1608.1 1540.0,1605.1 1541.4,1604.4 1542.8,1603.2 1544.3,1601.1 1545.7,1605.1 1547.2,1608.4 1548.6,1607.5 1550.1,1603.0 1551.5,1518.0 1553.0,1517.5 1554.4,1516.6 1555.9,1514.2 1557.3,1513.4 1558.8,1513.5 1560.2,1517.7 1561.7,1512.9 1563.1,1515.1 1564.6,1516.1 1566.0,1513.0 1567.5,1513.3 1568.9,1513.6 1570.4,1514.3 1571.8,1517.2 1573.3,1515.3 1574.7,1515.3 1576.2,1516.0 1577.6,1517.3" stroke="#1f77b4" stroke-opacity="0.3" stroke-width="6" stroke-linecap="square"/><polyline points="1288.0,1510.1 1289.4,1510.1 1290.9,1510.1 1292.3,1510.1 1293.8,1510.1 1295.2,1510.1 1296.7,1510.1 1298.1,1510.1 1299.6,1510.1 1301.0,1510.1 1302.5,1510.1 1303.9,1510.1 1305.4,1510.1 1306.8,1510.1 1308.3,1510.1 1309.7,1510.1 1311.2,1510.1 1312.6,1510.1 1314.1,1510.1 1315.5,1510.1 1317.0,1510.1 1318.4,1510.1 1319.9,1510.1 1321.3,1510.1 1322.8,1510.1 1324.2,1510.1 1325.6,1510.1 1327.1,1510.1 1328.5,1597.4 1330.0,1597.4 1331.4,1597.4 1332.9,1597.4 1334.3,1597.4 1335.8,1597.4 1337.2,1597.4 1338.7,1597.4 1340.1,1597.4 1341.6,1597.4 1343.0,1597.4 1344.5,1597.4 1345.9,1597.4 1347.4,1597.4 1348.8,1597.4 1350.3,1510.1 1351.7,1510.1 1353.2,1510.1 1354.6,1510.1 1356.1,1510.1 1357.5,1510.1 1359.0,1510.1 1360.4,1510.1 1361.8,1510.1 1363.3,1510.1 1364.7,1510.1 1366.2,1597.4 1367.6,1597.4 1369.1,1510.1 1370.5,1510.1 1372.0,1510.1 1373.4,1510.1 1374.9,1510.1 1376.3,1510.1 1377.8,1510.1 1379.2,1510.1 1380.7,1510.1 1382.1,1510.1 1383.6,1510.1 1385.0,1510.1 1386.5,1510.1 1387.9,1510.1 1389.4,1597.4 1390.8,1597.4 1392.3,1597.4 1393.7,1597.4 1395.2,1597.4 1396.6,1597.4 1398.0,1597.4 1399.5,1510.1 1400.9,1597.4 1402.4,1597.4 1403.8,1597.4 1405.3,1597.4 1406.7,1597.4 1408.2,1597.4 1409.6,1597.4 1411.1,1597.4 1412.5,1597.4 1414.0,1597.4 1415.4,1597.4 1416.9,1597.4 1418.3,1597.4 1419.8,1597.4 1421.2,1597.4 1422.7,1597.4 1424.1,1597.4 1425.6,1597.4 1427.0,1597.4 1428.5,1597.4 1429.9,1597.4 1431.4,1597.4 1432.8,1597.4 1434.2,1597.4 1435.7,1597.4 1437.1,1597.4 1438.6,1597.4 1440.0,1597.4 1441.5,1597.4 1442.9,1597.4 1444.4,1597.4 1445.8,1597.4 1447.3,1597.4 1448.7,1597.4 1450.2,1510.1 1451.6,1510.1 1453.1,1510.1 1454.5,1510.1 1456.0,1510.1 1457.4,1510.1 1458.9,1510.1 1460.3,1510.1 1461.8,1510.1 1463.2,1510.1 1464.7,1510.1 1466.1,1510.1 1467.6,1510.1 1469.0,1510.1 1470.4,1510.1 1471.9,1510.1 1473.3,1510.1 1474.8,1510.1 1476.2,1510.1 1477.7,1597.4 1479.1,1597.4 1480.6,1597.4 1482.0,1597.4 1483.5,1597.4 1484.9,1597.4 1486.4,1597.4 1487.8,1597.4 1489.3,1510.1 1490.7,1510.1 1492.2,1510.1 1493.6,1510.1 1495.1,1510.1 1496.5,1510.1 1498.0,1510.1 1499.4,1510.1 1500.9,1510.1 1502.3,1510.1 1503.8,1510.1 1505.2,1510.1 1506.6,1510.1 1508.1,1510.1 1509.5,1510.1 1511.0,1510.1 1512.4,1510.1 1513.9,1510.1 1515.3,1510.1 1516.8,1510.1 1518.2,1510.1 1519.7,1510.1 1521.1,1510.1 1522.6,1510.1 1524.0,1510.1 1525.5,1510.1 1526.9,1510.1 1528.4,1510.1 1529.8,1510.1 1531.3,1510.1 1532.7,1510.1 1534.2,1510.1 1535.6,1510.1 1537.1,1510.1 1538.5,1597.4 1540.0,1597.4 1541.4,1597.4 1542.8,1597.4 1544.3,1597.4 1545.7,1597.4 1547.2,1597.4 1548.6,1597.4 1550.1,1597.4 1551.5,1510.1 1553.0,1510.1 1554.4,1510.1 1555.9,1510.1 1557.3,1510.1 1558.8,1510.1 1560.2,1510.1 1561.7,1510.1 1563.1,1510.1 1564.6,1510.1 1566.0,1510.1 1567.5,1510.1 1568.9,1510.1 1570.4,1510.1 1571.8,1510.1 1573.3,1510.1 1574.7,1510.1 1576.2,1510.1 1577.6,1510.1" stroke="#1f77b4" stroke-width="6" stroke-linecap="square"/><polyline points="1288.0,1510.1 1289.4,1510.1 1290.9,1510.1 1292.3,1510.1 1293.8,1510.1 1295.2,1510.1 1296.7,1510.1 1298.1,1510.1 1299.6,1510.1 1301.0,1510.1 1302.5,1510.1 1303.9,1510.1 1305.4,1510.1 1306.8,1510.1 1308.3,1510.1 1309.7,1510.1 1311.2,1510.1 1312.6,1510.1 1314.1,1510.1 1315.5,1510.1 1317.0,1510.1 1318.4,1510.1 1319.9,1510.1 1321.3,1510.1 1322.8,1510.1 1324.2,1510.1 1325.6,1510.1 1327.1,1510.1 1328.5,1597.4 1330.0,1597.4 1331.4,1597.4 1332.9,1597.4 1334.3,1597.4 1335.8,1597.4 1337.2,1597.4 1338.7,1597.4 1340.1,1597.4 1341.6,1597.4 1343.0,1597.4 1344.5,1597.4 1345.9,1597.4 1347.4,1597.4 1348.8,1597.4 1350.3,1510.1 1351.7,1510.1 1353.2,1510.1 1354.6,1510.1 1356.1,1510.1 1357.5,1510.1 1359.0,1510.1 1360.4,1510.1 1361.8,1510.1 1363.3,1510.1 1364.7,1510.1 1366.2,1597.4 1367.6,1597.4 1369.1,1510.1 1370.5,1510.1 1372.0,1510.1 1373.4,1510.1 1374.9,1510.1 1376.3,1510.1 1377.8,1510.1 1379.2,1510.1 1380.7,1510.1 1382.1,1510.1 1383.6,1510.1 1385.0,1510.1 1386.5,1510.1 1387.9,1510.1 1389.4,1597.4 1390.8,1597.4 1392.3,1597.4 1393.7,1597.4 1395.2,1597.4 1396.6,1597.4 1398.0,1597.4 1399.5,1510.1 1400.9,1597.4 1402.4,1597.4 1403.8,1597.4 1405.3,1597.4 1406.7,1597.4 1408.2,1597.4 1409.6,1597.4 1411.1,1597.4 1412.5,1597.4 1414.0,1597.4 1415.4,1597.4 1416.9,1597.4 1418.3,1597.4 1419.8,1597.4 1421.2,1597.4 1422.7,1597.4 1424.1,1597.4 1425.6,1597.4 1427.0,1597.4 1428.5,1597.4 1429.9,1597.4 1431.4,1597.4 1432.8,1597.4 1434.2,1597.4 1435.7,1597.4 1437.1,1597.4 1438.6,1597.4 1440.0,1597.4 1441.5,1597.4 1442.9,1597.4 1444.4,1597.4 1445.8,1597.4 1447.3,1597.4 1448.7,1597.4 1450.2,1510.1 1451.6,1510.1 1453.1,1510.1 1454.5,1510.1 1456.0,1510.1 1457.4,1510.1 1458.9,1510.1 1460.3,1510.1 1461.8,1510.1 1463.2,1510.1 1464.7,1510.1 1466.1,1510.1 1467.6,1510.1 1469.0,1510.1 1470.4,1510.1 1471.9,1510.1 1473.3,1510.1 1474.8,1510.1 1476.2,1510.1 1477.7,1597.4 1479.1,1597.4 1480.6,1597.4 1482.0,1597.4 1483.5,1597.4 1484.9,1597.4 1486.4,1597.4 1487.8,1597.4 1489.3,1510.1 1490.7,1510.1 1492.2,1510.1 1493.6,1510.1 1495.1,1510.1 1496.5,1510.1 1498.0,1510.1 1499.4,1510.1 1500.9,1510.1 1502.3,1510.1 1503.8,1510.1 1505.2,1510.1 1506.6,1510.1 1508.1,1510.1 1509.5,1510.1 1511.0,1510.1 1512.4,1510.1 1513.9,1510.1 1515.3,1510.1 1516.8,1510.1 1518.2,1510.1 1519.7,1510.1 1521.1,1510.1 1522.6,1510.1 1524.0,1510.1 1525.5,1510.1 1526.9,1510.1 1528.4,1510.1 1529.8,1510.1 1531.3,1510.1 1532.7,1510.1 1534.2,1510.1 1535.6,1510.1 1537.1,1510.1 1538.5,1597.4 1540.0,1597.4 1541.4,1597.4 1542.8,1597.4 1544.3,1597.4 1545.7,1597.4 1547.2,1597.4 1548.6,1597.4 1550.1,1597.4 1551.5,1510.1 1553.0,1510.1 1554.4,1510.1 1555.9,1510.1 1557.3,1510.1 1558.8,1510.1 1560.2,1510.1 1561.7,1510.1 1563.1,1510.1 1564.6,1510.1 1566.0,1510.1 1567.5,1510.1 1568.9,1510.1 1570.4,1510.1 1571.8,1510.1 1573.3,1510.1 1574.7,1510.1 1576.2,1510.1 1577.6,1510.1" stroke="#ff7f0e" stroke-width="5.7" stroke-dasharray="5.6 9.2" stroke-linecap="butt"/></g><rect x="1273.50" y="1467.40" width="317.00" height="172.30" fill="none" stroke="#000" stroke-width="2.9" stroke-linejoin="miter" stroke-linecap="square"/><line x1="1260.10" y1="1597.40" x2="1273.50" y2="1597.40" stroke="#000" stroke-width="2.9"/><line x1="1260.10" y1="1510.10" x2="1273.50" y2="1510.10" stroke="#000" stroke-width="2.9"/><line x1="1288.00" y1="1639.70" x2="1288.00" y2="1652.30" stroke="#000" stroke-width="2.9"/><line x1="1432.80" y1="1639.70" x2="1432.80" y2="1652.30" stroke="#000" stroke-width="2.9"/><line x1="1577.60" y1="1639.70" x2="1577.60" y2="1652.30" stroke="#000" stroke-width="2.9"/><text x="1231.34" y="1519.60" font-size="26.80" textLength="15.41" lengthAdjust="spacingAndGlyphs" fill="#000">1</text><text x="1231.92" y="1606.90" font-size="26.80" textLength="15.41" lengthAdjust="spacingAndGlyphs" fill="#000">0</text><text x="1280.30" y="1685.30" font-size="26.80" textLength="15.41" lengthAdjust="spacingAndGlyphs" fill="#000">0</text><text x="1408.99" y="1685.30" font-size="26.80" textLength="46.23" lengthAdjust="spacingAndGlyphs" fill="#000">100</text><text x="1554.41" y="1685.30" font-size="26.80" textLength="46.23" lengthAdjust="spacingAndGlyphs" fill="#000">200</text><text x="1355.03" y="1728.80" font-size="29.50" textLength="152.93" lengthAdjust="spacingAndGlyphs" fill="#000">time (a.u.)</text><text transform="translate(1209.30,1554.30) rotate(-90)" x="-37.3" y="0" font-size="29" textLength="74.6" lengthAdjust="spacingAndGlyphs"><tspan font-style="italic">χ</tspan>(<tspan font-style="italic">x</tspan><tspan font-size="20" font-style="italic" dy="4.5">t</tspan><tspan dy="-4.5">)</tspan></text><text x="1179.38" y="1432.20" font-size="40.00" font-weight="bold" textLength="42.29" lengthAdjust="spacingAndGlyphs" fill="#000">(l)</text><text x="1318.71" y="1444.80" font-size="47.50" textLength="224.63" lengthAdjust="spacingAndGlyphs" fill="#000">100.0% acc.</text></svg></body></html>
